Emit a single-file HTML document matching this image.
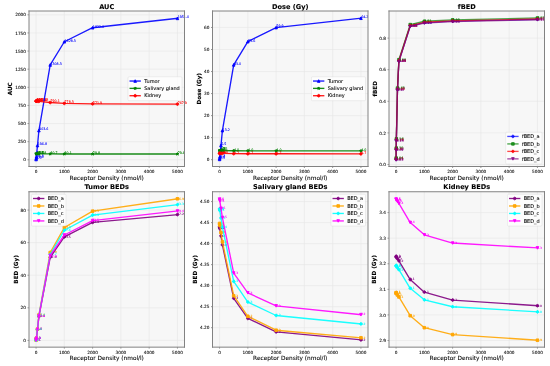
<!DOCTYPE html>
<html><head><meta charset="utf-8"><title>Receptor Density Analysis</title>
<style>
html,body{margin:0;padding:0;background:#fff;}
body{width:550px;height:366px;overflow:hidden;}
svg{display:block;}
svg text{font-family:"DejaVu Sans","Liberation Sans",sans-serif;text-rendering:geometricPrecision;}
</style></head><body>
<svg width="550" height="366" viewBox="0 0 550 366">
<defs>
<style type="text/css">*{stroke-linejoin: round; stroke-linecap: butt}</style>
</defs>
<g id="figure_1">
<g id="patch_1">
<path d="M 0 366
L 550 366
L 550 0
L 0 0
z
" style="fill: #ffffff"/>
</g>
<g id="axes_1">
<g id="patch_2">
<path d="M 29 166.5
L 184.5 166.5
L 184.5 11
L 29 11
z
" style="fill: #f7f7f7"/>
</g>
<g id="matplotlib.axis_1">
<g id="xtick_1">
<g id="line2d_1">
<path d="M 36.068182 166.5
L 36.068182 11
" clip-path="url(#p5194da27b5)" style="fill: none; stroke: #e6e6e6; stroke-width: 0.6; stroke-linecap: square"/>
</g>
<g id="line2d_2">

<g>
<path d="M 0 0 L 0 1.5" transform="translate(36.068182 166.5)" style="fill: #333333; stroke: #333333; stroke-width: 0.5"/>
</g>
</g>
<g id="text_1">
<text style="font-size: 4.25px; font-family: 'DejaVu Sans', 'Liberation Sans', sans-serif; text-anchor: middle; stroke: #000000; stroke-width: 0.08px" x="36.068182" y="173.329336" transform="rotate(-0 36.068182 173.329336)">0</text>
</g>
</g>
<g id="xtick_2">
<g id="line2d_3">
<path d="M 64.340909 166.5
L 64.340909 11
" clip-path="url(#p5194da27b5)" style="fill: none; stroke: #e6e6e6; stroke-width: 0.6; stroke-linecap: square"/>
</g>
<g id="line2d_4">
<g>
<path d="M 0 0 L 0 1.5" transform="translate(64.340909 166.5)" style="fill: #333333; stroke: #333333; stroke-width: 0.5"/>
</g>
</g>
<g id="text_2">
<text style="font-size: 4.25px; font-family: 'DejaVu Sans', 'Liberation Sans', sans-serif; text-anchor: middle; stroke: #000000; stroke-width: 0.08px" x="64.340909" y="173.329336" transform="rotate(-0 64.340909 173.329336)">1000</text>
</g>
</g>
<g id="xtick_3">
<g id="line2d_5">
<path d="M 92.613636 166.5
L 92.613636 11
" clip-path="url(#p5194da27b5)" style="fill: none; stroke: #e6e6e6; stroke-width: 0.6; stroke-linecap: square"/>
</g>
<g id="line2d_6">
<g>
<path d="M 0 0 L 0 1.5" transform="translate(92.613636 166.5)" style="fill: #333333; stroke: #333333; stroke-width: 0.5"/>
</g>
</g>
<g id="text_3">
<text style="font-size: 4.25px; font-family: 'DejaVu Sans', 'Liberation Sans', sans-serif; text-anchor: middle; stroke: #000000; stroke-width: 0.08px" x="92.613636" y="173.329336" transform="rotate(-0 92.613636 173.329336)">2000</text>
</g>
</g>
<g id="xtick_4">
<g id="line2d_7">
<path d="M 120.886364 166.5
L 120.886364 11
" clip-path="url(#p5194da27b5)" style="fill: none; stroke: #e6e6e6; stroke-width: 0.6; stroke-linecap: square"/>
</g>
<g id="line2d_8">
<g>
<path d="M 0 0 L 0 1.5" transform="translate(120.886364 166.5)" style="fill: #333333; stroke: #333333; stroke-width: 0.5"/>
</g>
</g>
<g id="text_4">
<text style="font-size: 4.25px; font-family: 'DejaVu Sans', 'Liberation Sans', sans-serif; text-anchor: middle; stroke: #000000; stroke-width: 0.08px" x="120.886364" y="173.329336" transform="rotate(-0 120.886364 173.329336)">3000</text>
</g>
</g>
<g id="xtick_5">
<g id="line2d_9">
<path d="M 149.159091 166.5
L 149.159091 11
" clip-path="url(#p5194da27b5)" style="fill: none; stroke: #e6e6e6; stroke-width: 0.6; stroke-linecap: square"/>
</g>
<g id="line2d_10">
<g>
<path d="M 0 0 L 0 1.5" transform="translate(149.159091 166.5)" style="fill: #333333; stroke: #333333; stroke-width: 0.5"/>
</g>
</g>
<g id="text_5">
<text style="font-size: 4.25px; font-family: 'DejaVu Sans', 'Liberation Sans', sans-serif; text-anchor: middle; stroke: #000000; stroke-width: 0.08px" x="149.159091" y="173.329336" transform="rotate(-0 149.159091 173.329336)">4000</text>
</g>
</g>
<g id="xtick_6">
<g id="line2d_11">
<path d="M 177.431818 166.5
L 177.431818 11
" clip-path="url(#p5194da27b5)" style="fill: none; stroke: #e6e6e6; stroke-width: 0.6; stroke-linecap: square"/>
</g>
<g id="line2d_12">
<g>
<path d="M 0 0 L 0 1.5" transform="translate(177.431818 166.5)" style="fill: #333333; stroke: #333333; stroke-width: 0.5"/>
</g>
</g>
<g id="text_6">
<text style="font-size: 4.25px; font-family: 'DejaVu Sans', 'Liberation Sans', sans-serif; text-anchor: middle; stroke: #000000; stroke-width: 0.08px" x="177.431818" y="173.329336" transform="rotate(-0 177.431818 173.329336)">5000</text>
</g>
</g>
<g id="text_7">
<text style="font-size: 5.8px; font-family: 'DejaVu Sans', 'Liberation Sans', sans-serif; text-anchor: middle; stroke: #000000; stroke-width: 0.08px" x="106.75" y="179.520297" transform="rotate(-0 106.75 179.520297)">Receptor Density (nmol/l)</text>
</g>
</g>
<g id="matplotlib.axis_2">
<g id="ytick_1">
<g id="line2d_13">
<path d="M 29 159.787665
L 184.5 159.787665
" clip-path="url(#p5194da27b5)" style="fill: none; stroke: #e6e6e6; stroke-width: 0.6; stroke-linecap: square"/>
</g>
<g id="line2d_14">

<g>
<path d="M 0 0 L -1.5 0" transform="translate(29 159.787665)" style="fill: #333333; stroke: #333333; stroke-width: 0.5"/>
</g>
</g>
<g id="text_8">
<text style="font-size: 4.25px; font-family: 'DejaVu Sans', 'Liberation Sans', sans-serif; text-anchor: end; stroke: #000000; stroke-width: 0.08px" x="26" y="161.402333" transform="rotate(-0 26 161.402333)">0</text>
</g>
</g>
<g id="ytick_2">
<g id="line2d_15">
<path d="M 29 141.665812
L 184.5 141.665812
" clip-path="url(#p5194da27b5)" style="fill: none; stroke: #e6e6e6; stroke-width: 0.6; stroke-linecap: square"/>
</g>
<g id="line2d_16">
<g>
<path d="M 0 0 L -1.5 0" transform="translate(29 141.665812)" style="fill: #333333; stroke: #333333; stroke-width: 0.5"/>
</g>
</g>
<g id="text_9">
<text style="font-size: 4.25px; font-family: 'DejaVu Sans', 'Liberation Sans', sans-serif; text-anchor: end; stroke: #000000; stroke-width: 0.08px" x="26" y="143.28048" transform="rotate(-0 26 143.28048)">250</text>
</g>
</g>
<g id="ytick_3">
<g id="line2d_17">
<path d="M 29 123.543959
L 184.5 123.543959
" clip-path="url(#p5194da27b5)" style="fill: none; stroke: #e6e6e6; stroke-width: 0.6; stroke-linecap: square"/>
</g>
<g id="line2d_18">
<g>
<path d="M 0 0 L -1.5 0" transform="translate(29 123.543959)" style="fill: #333333; stroke: #333333; stroke-width: 0.5"/>
</g>
</g>
<g id="text_10">
<text style="font-size: 4.25px; font-family: 'DejaVu Sans', 'Liberation Sans', sans-serif; text-anchor: end; stroke: #000000; stroke-width: 0.08px" x="26" y="125.158627" transform="rotate(-0 26 125.158627)">500</text>
</g>
</g>
<g id="ytick_4">
<g id="line2d_19">
<path d="M 29 105.422105
L 184.5 105.422105
" clip-path="url(#p5194da27b5)" style="fill: none; stroke: #e6e6e6; stroke-width: 0.6; stroke-linecap: square"/>
</g>
<g id="line2d_20">
<g>
<path d="M 0 0 L -1.5 0" transform="translate(29 105.422105)" style="fill: #333333; stroke: #333333; stroke-width: 0.5"/>
</g>
</g>
<g id="text_11">
<text style="font-size: 4.25px; font-family: 'DejaVu Sans', 'Liberation Sans', sans-serif; text-anchor: end; stroke: #000000; stroke-width: 0.08px" x="26" y="107.036773" transform="rotate(-0 26 107.036773)">750</text>
</g>
</g>
<g id="ytick_5">
<g id="line2d_21">
<path d="M 29 87.300252
L 184.5 87.300252
" clip-path="url(#p5194da27b5)" style="fill: none; stroke: #e6e6e6; stroke-width: 0.6; stroke-linecap: square"/>
</g>
<g id="line2d_22">
<g>
<path d="M 0 0 L -1.5 0" transform="translate(29 87.300252)" style="fill: #333333; stroke: #333333; stroke-width: 0.5"/>
</g>
</g>
<g id="text_12">
<text style="font-size: 4.25px; font-family: 'DejaVu Sans', 'Liberation Sans', sans-serif; text-anchor: end; stroke: #000000; stroke-width: 0.08px" x="26" y="88.91492" transform="rotate(-0 26 88.91492)">1000</text>
</g>
</g>
<g id="ytick_6">
<g id="line2d_23">
<path d="M 29 69.178398
L 184.5 69.178398
" clip-path="url(#p5194da27b5)" style="fill: none; stroke: #e6e6e6; stroke-width: 0.6; stroke-linecap: square"/>
</g>
<g id="line2d_24">
<g>
<path d="M 0 0 L -1.5 0" transform="translate(29 69.178398)" style="fill: #333333; stroke: #333333; stroke-width: 0.5"/>
</g>
</g>
<g id="text_13">
<text style="font-size: 4.25px; font-family: 'DejaVu Sans', 'Liberation Sans', sans-serif; text-anchor: end; stroke: #000000; stroke-width: 0.08px" x="26" y="70.793066" transform="rotate(-0 26 70.793066)">1250</text>
</g>
</g>
<g id="ytick_7">
<g id="line2d_25">
<path d="M 29 51.056545
L 184.5 51.056545
" clip-path="url(#p5194da27b5)" style="fill: none; stroke: #e6e6e6; stroke-width: 0.6; stroke-linecap: square"/>
</g>
<g id="line2d_26">
<g>
<path d="M 0 0 L -1.5 0" transform="translate(29 51.056545)" style="fill: #333333; stroke: #333333; stroke-width: 0.5"/>
</g>
</g>
<g id="text_14">
<text style="font-size: 4.25px; font-family: 'DejaVu Sans', 'Liberation Sans', sans-serif; text-anchor: end; stroke: #000000; stroke-width: 0.08px" x="26" y="52.671213" transform="rotate(-0 26 52.671213)">1500</text>
</g>
</g>
<g id="ytick_8">
<g id="line2d_27">
<path d="M 29 32.934691
L 184.5 32.934691
" clip-path="url(#p5194da27b5)" style="fill: none; stroke: #e6e6e6; stroke-width: 0.6; stroke-linecap: square"/>
</g>
<g id="line2d_28">
<g>
<path d="M 0 0 L -1.5 0" transform="translate(29 32.934691)" style="fill: #333333; stroke: #333333; stroke-width: 0.5"/>
</g>
</g>
<g id="text_15">
<text style="font-size: 4.25px; font-family: 'DejaVu Sans', 'Liberation Sans', sans-serif; text-anchor: end; stroke: #000000; stroke-width: 0.08px" x="26" y="34.549359" transform="rotate(-0 26 34.549359)">1750</text>
</g>
</g>
<g id="ytick_9">
<g id="line2d_29">
<path d="M 29 14.812838
L 184.5 14.812838
" clip-path="url(#p5194da27b5)" style="fill: none; stroke: #e6e6e6; stroke-width: 0.6; stroke-linecap: square"/>
</g>
<g id="line2d_30">
<g>
<path d="M 0 0 L -1.5 0" transform="translate(29 14.812838)" style="fill: #333333; stroke: #333333; stroke-width: 0.5"/>
</g>
</g>
<g id="text_16">
<text style="font-size: 4.25px; font-family: 'DejaVu Sans', 'Liberation Sans', sans-serif; text-anchor: end; stroke: #000000; stroke-width: 0.08px" x="26" y="16.427506" transform="rotate(-0 26 16.427506)">2000</text>
</g>
</g>
<g id="text_17">
<text style="font-weight: 700; font-size: 5.7px; font-family: 'DejaVu Sans', 'Liberation Sans', sans-serif; text-anchor: middle; stroke: #000000; stroke-width: 0.08px" x="12.498328" y="88.75" transform="rotate(-90 12.498328 88.75)">AUC</text>
</g>
</g>
<g id="text_18">
<text style="font-size: 3.25px; font-family: 'DejaVu Sans', 'Liberation Sans', sans-serif; text-anchor: start; fill: #0000ff; stroke: #0000ff; stroke-width: 0.1px" x="36.296455" y="159.397716" transform="rotate(-0 36.296455 159.397716)">4.0</text>
</g>
<g id="text_19">
<text style="font-size: 3.25px; font-family: 'DejaVu Sans', 'Liberation Sans', sans-serif; text-anchor: start; fill: #0000ff; stroke: #0000ff; stroke-width: 0.1px" x="36.409545" y="158.266912" transform="rotate(-0 36.409545 158.266912)">19.6</text>
</g>
<g id="text_20">
<text style="font-size: 3.25px; font-family: 'DejaVu Sans', 'Liberation Sans', sans-serif; text-anchor: start; fill: #0000ff; stroke: #0000ff; stroke-width: 0.1px" x="36.550909" y="156.83891" transform="rotate(-0 36.550909 156.83891)">39.3</text>
</g>
<g id="text_21">
<text style="font-size: 3.25px; font-family: 'DejaVu Sans', 'Liberation Sans', sans-serif; text-anchor: start; fill: #0000ff; stroke: #0000ff; stroke-width: 0.1px" x="37.681818" y="145.422142" transform="rotate(-0 37.681818 145.422142)">196.8</text>
</g>
<g id="text_22">
<text style="font-size: 3.25px; font-family: 'DejaVu Sans', 'Liberation Sans', sans-serif; text-anchor: start; fill: #0000ff; stroke: #0000ff; stroke-width: 0.1px" x="39.095455" y="130.431745" transform="rotate(-0 39.095455 130.431745)">403.6</text>
</g>
<g id="text_23">
<text style="font-size: 3.25px; font-family: 'DejaVu Sans', 'Liberation Sans', sans-serif; text-anchor: start; fill: #0000ff; stroke: #0000ff; stroke-width: 0.1px" x="50.404545" y="64.852382" transform="rotate(-0 50.404545 64.852382)">1308.3</text>
</g>
<g id="text_24">
<text style="font-size: 3.25px; font-family: 'DejaVu Sans', 'Liberation Sans', sans-serif; text-anchor: start; fill: #0000ff; stroke: #0000ff; stroke-width: 0.1px" x="64.540909" y="41.65641" transform="rotate(-0 64.540909 41.65641)">1628.3</text>
</g>
<g id="text_25">
<text style="font-size: 3.25px; font-family: 'DejaVu Sans', 'Liberation Sans', sans-serif; text-anchor: start; fill: #0000ff; stroke: #0000ff; stroke-width: 0.1px" x="92.813636" y="27.615598" transform="rotate(-0 92.813636 27.615598)">1822.0</text>
</g>
<g id="text_26">
<text style="font-size: 3.25px; font-family: 'DejaVu Sans', 'Liberation Sans', sans-serif; text-anchor: start; fill: #0000ff; stroke: #0000ff; stroke-width: 0.1px" x="177.631818" y="18.264721" transform="rotate(-0 177.631818 18.264721)">1951.0</text>
</g>
<g id="text_27">
<text style="font-size: 3.25px; font-family: 'DejaVu Sans', 'Liberation Sans', sans-serif; text-anchor: start; fill: #008000; stroke: #008000; stroke-width: 0.1px" x="36.296455" y="153.692956" transform="rotate(-0 36.296455 153.692956)">82.7</text>
</g>
<g id="text_28">
<text style="font-size: 3.25px; font-family: 'DejaVu Sans', 'Liberation Sans', sans-serif; text-anchor: start; fill: #008000; stroke: #008000; stroke-width: 0.1px" x="36.409545" y="153.700205" transform="rotate(-0 36.409545 153.700205)">82.6</text>
</g>
<g id="text_29">
<text style="font-size: 3.25px; font-family: 'DejaVu Sans', 'Liberation Sans', sans-serif; text-anchor: start; fill: #008000; stroke: #008000; stroke-width: 0.1px" x="36.550909" y="153.707454" transform="rotate(-0 36.550909 153.707454)">82.5</text>
</g>
<g id="text_30">
<text style="font-size: 3.25px; font-family: 'DejaVu Sans', 'Liberation Sans', sans-serif; text-anchor: start; fill: #008000; stroke: #008000; stroke-width: 0.1px" x="37.681818" y="153.736449" transform="rotate(-0 37.681818 153.736449)">82.1</text>
</g>
<g id="text_31">
<text style="font-size: 3.25px; font-family: 'DejaVu Sans', 'Liberation Sans', sans-serif; text-anchor: start; fill: #008000; stroke: #008000; stroke-width: 0.1px" x="39.095455" y="153.758195" transform="rotate(-0 39.095455 153.758195)">81.8</text>
</g>
<g id="text_32">
<text style="font-size: 3.25px; font-family: 'DejaVu Sans', 'Liberation Sans', sans-serif; text-anchor: start; fill: #008000; stroke: #008000; stroke-width: 0.1px" x="50.404545" y="153.837931" transform="rotate(-0 50.404545 153.837931)">80.7</text>
</g>
<g id="text_33">
<text style="font-size: 3.25px; font-family: 'DejaVu Sans', 'Liberation Sans', sans-serif; text-anchor: start; fill: #008000; stroke: #008000; stroke-width: 0.1px" x="64.540909" y="153.881424" transform="rotate(-0 64.540909 153.881424)">80.1</text>
</g>
<g id="text_34">
<text style="font-size: 3.25px; font-family: 'DejaVu Sans', 'Liberation Sans', sans-serif; text-anchor: start; fill: #008000; stroke: #008000; stroke-width: 0.1px" x="92.813636" y="153.90317" transform="rotate(-0 92.813636 153.90317)">79.8</text>
</g>
<g id="text_35">
<text style="font-size: 3.25px; font-family: 'DejaVu Sans', 'Liberation Sans', sans-serif; text-anchor: start; fill: #008000; stroke: #008000; stroke-width: 0.1px" x="177.631818" y="153.917667" transform="rotate(-0 177.631818 153.917667)">79.6</text>
</g>
<g id="text_36">
<text style="font-size: 3.25px; font-family: 'DejaVu Sans', 'Liberation Sans', sans-serif; text-anchor: start; fill: #ff0000; stroke: #ff0000; stroke-width: 0.1px" x="36.296455" y="101.009104" transform="rotate(-0 36.296455 101.009104)">809.5</text>
</g>
<g id="text_37">
<text style="font-size: 3.25px; font-family: 'DejaVu Sans', 'Liberation Sans', sans-serif; text-anchor: start; fill: #ff0000; stroke: #ff0000; stroke-width: 0.1px" x="36.409545" y="101.023602" transform="rotate(-0 36.409545 101.023602)">809.3</text>
</g>
<g id="text_38">
<text style="font-size: 3.25px; font-family: 'DejaVu Sans', 'Liberation Sans', sans-serif; text-anchor: start; fill: #ff0000; stroke: #ff0000; stroke-width: 0.1px" x="36.550909" y="101.045348" transform="rotate(-0 36.550909 101.045348)">809.0</text>
</g>
<g id="text_39">
<text style="font-size: 3.25px; font-family: 'DejaVu Sans', 'Liberation Sans', sans-serif; text-anchor: start; fill: #ff0000; stroke: #ff0000; stroke-width: 0.1px" x="37.681818" y="101.154079" transform="rotate(-0 37.681818 101.154079)">807.5</text>
</g>
<g id="text_40">
<text style="font-size: 3.25px; font-family: 'DejaVu Sans', 'Liberation Sans', sans-serif; text-anchor: start; fill: #ff0000; stroke: #ff0000; stroke-width: 0.1px" x="39.095455" y="101.277307" transform="rotate(-0 39.095455 101.277307)">805.8</text>
</g>
<g id="text_41">
<text style="font-size: 3.25px; font-family: 'DejaVu Sans', 'Liberation Sans', sans-serif; text-anchor: start; fill: #ff0000; stroke: #ff0000; stroke-width: 0.1px" x="50.404545" y="102.41536" transform="rotate(-0 50.404545 102.41536)">790.1</text>
</g>
<g id="text_42">
<text style="font-size: 3.25px; font-family: 'DejaVu Sans', 'Liberation Sans', sans-serif; text-anchor: start; fill: #ff0000; stroke: #ff0000; stroke-width: 0.1px" x="64.540909" y="103.270711" transform="rotate(-0 64.540909 103.270711)">778.3</text>
</g>
<g id="text_43">
<text style="font-size: 3.25px; font-family: 'DejaVu Sans', 'Liberation Sans', sans-serif; text-anchor: start; fill: #ff0000; stroke: #ff0000; stroke-width: 0.1px" x="92.813636" y="103.734631" transform="rotate(-0 92.813636 103.734631)">771.9</text>
</g>
<g id="text_44">
<text style="font-size: 3.25px; font-family: 'DejaVu Sans', 'Liberation Sans', sans-serif; text-anchor: start; fill: #ff0000; stroke: #ff0000; stroke-width: 0.1px" x="177.631818" y="104.02458" transform="rotate(-0 177.631818 104.02458)">767.9</text>
</g>
<g id="line2d_31">
<path d="M 36.096455 159.497716
L 36.209545 158.366912
L 36.350909 156.93891
L 37.481818 145.522142
L 38.895455 130.531745
L 50.204545 64.952382
L 64.340909 41.75641
L 92.613636 27.715598
L 177.431818 18.364721
" clip-path="url(#p5194da27b5)" style="fill: none; stroke: #0000ff; stroke-opacity: 0.9; stroke-width: 1.35; stroke-linecap: square"/>

<g clip-path="url(#p5194da27b5)">
<path d="M 0 -1.3 L -1.3 1.3 L 1.3 1.3 z" transform="translate(36.096455 159.497716)" style="fill: #0000ff; fill-opacity: 0.9; stroke: #0000ff; stroke-opacity: 0.9; stroke-linejoin: miter"/>
<path d="M 0 -1.3 L -1.3 1.3 L 1.3 1.3 z" transform="translate(36.209545 158.366912)" style="fill: #0000ff; fill-opacity: 0.9; stroke: #0000ff; stroke-opacity: 0.9; stroke-linejoin: miter"/>
<path d="M 0 -1.3 L -1.3 1.3 L 1.3 1.3 z" transform="translate(36.350909 156.93891)" style="fill: #0000ff; fill-opacity: 0.9; stroke: #0000ff; stroke-opacity: 0.9; stroke-linejoin: miter"/>
<path d="M 0 -1.3 L -1.3 1.3 L 1.3 1.3 z" transform="translate(37.481818 145.522142)" style="fill: #0000ff; fill-opacity: 0.9; stroke: #0000ff; stroke-opacity: 0.9; stroke-linejoin: miter"/>
<path d="M 0 -1.3 L -1.3 1.3 L 1.3 1.3 z" transform="translate(38.895455 130.531745)" style="fill: #0000ff; fill-opacity: 0.9; stroke: #0000ff; stroke-opacity: 0.9; stroke-linejoin: miter"/>
<path d="M 0 -1.3 L -1.3 1.3 L 1.3 1.3 z" transform="translate(50.204545 64.952382)" style="fill: #0000ff; fill-opacity: 0.9; stroke: #0000ff; stroke-opacity: 0.9; stroke-linejoin: miter"/>
<path d="M 0 -1.3 L -1.3 1.3 L 1.3 1.3 z" transform="translate(64.340909 41.75641)" style="fill: #0000ff; fill-opacity: 0.9; stroke: #0000ff; stroke-opacity: 0.9; stroke-linejoin: miter"/>
<path d="M 0 -1.3 L -1.3 1.3 L 1.3 1.3 z" transform="translate(92.613636 27.715598)" style="fill: #0000ff; fill-opacity: 0.9; stroke: #0000ff; stroke-opacity: 0.9; stroke-linejoin: miter"/>
<path d="M 0 -1.3 L -1.3 1.3 L 1.3 1.3 z" transform="translate(177.431818 18.364721)" style="fill: #0000ff; fill-opacity: 0.9; stroke: #0000ff; stroke-opacity: 0.9; stroke-linejoin: miter"/>
</g>
</g>
<g id="line2d_32">
<path d="M 36.096455 153.792956
L 36.209545 153.800205
L 36.350909 153.807454
L 37.481818 153.836449
L 38.895455 153.858195
L 50.204545 153.937931
L 64.340909 153.981424
L 92.613636 154.00317
L 177.431818 154.017667
" clip-path="url(#p5194da27b5)" style="fill: none; stroke: #008000; stroke-opacity: 0.9; stroke-width: 1.35; stroke-linecap: square"/>

<g clip-path="url(#p5194da27b5)">
<path d="M 0 -1.43 L -0.321055 -0.441894 L -1.360011 -0.441894 L -0.519478 0.168789 L -0.840533 1.156894 L -0 0.546211 L 0.840533 1.156894 L 0.519478 0.168789 L 1.360011 -0.441894 L 0.321055 -0.441894 z" transform="translate(36.096455 153.792956)" style="fill: #008000; fill-opacity: 0.9; stroke: #008000; stroke-opacity: 0.9; stroke-linejoin: bevel"/>
<path d="M 0 -1.43 L -0.321055 -0.441894 L -1.360011 -0.441894 L -0.519478 0.168789 L -0.840533 1.156894 L -0 0.546211 L 0.840533 1.156894 L 0.519478 0.168789 L 1.360011 -0.441894 L 0.321055 -0.441894 z" transform="translate(36.209545 153.800205)" style="fill: #008000; fill-opacity: 0.9; stroke: #008000; stroke-opacity: 0.9; stroke-linejoin: bevel"/>
<path d="M 0 -1.43 L -0.321055 -0.441894 L -1.360011 -0.441894 L -0.519478 0.168789 L -0.840533 1.156894 L -0 0.546211 L 0.840533 1.156894 L 0.519478 0.168789 L 1.360011 -0.441894 L 0.321055 -0.441894 z" transform="translate(36.350909 153.807454)" style="fill: #008000; fill-opacity: 0.9; stroke: #008000; stroke-opacity: 0.9; stroke-linejoin: bevel"/>
<path d="M 0 -1.43 L -0.321055 -0.441894 L -1.360011 -0.441894 L -0.519478 0.168789 L -0.840533 1.156894 L -0 0.546211 L 0.840533 1.156894 L 0.519478 0.168789 L 1.360011 -0.441894 L 0.321055 -0.441894 z" transform="translate(37.481818 153.836449)" style="fill: #008000; fill-opacity: 0.9; stroke: #008000; stroke-opacity: 0.9; stroke-linejoin: bevel"/>
<path d="M 0 -1.43 L -0.321055 -0.441894 L -1.360011 -0.441894 L -0.519478 0.168789 L -0.840533 1.156894 L -0 0.546211 L 0.840533 1.156894 L 0.519478 0.168789 L 1.360011 -0.441894 L 0.321055 -0.441894 z" transform="translate(38.895455 153.858195)" style="fill: #008000; fill-opacity: 0.9; stroke: #008000; stroke-opacity: 0.9; stroke-linejoin: bevel"/>
<path d="M 0 -1.43 L -0.321055 -0.441894 L -1.360011 -0.441894 L -0.519478 0.168789 L -0.840533 1.156894 L -0 0.546211 L 0.840533 1.156894 L 0.519478 0.168789 L 1.360011 -0.441894 L 0.321055 -0.441894 z" transform="translate(50.204545 153.937931)" style="fill: #008000; fill-opacity: 0.9; stroke: #008000; stroke-opacity: 0.9; stroke-linejoin: bevel"/>
<path d="M 0 -1.43 L -0.321055 -0.441894 L -1.360011 -0.441894 L -0.519478 0.168789 L -0.840533 1.156894 L -0 0.546211 L 0.840533 1.156894 L 0.519478 0.168789 L 1.360011 -0.441894 L 0.321055 -0.441894 z" transform="translate(64.340909 153.981424)" style="fill: #008000; fill-opacity: 0.9; stroke: #008000; stroke-opacity: 0.9; stroke-linejoin: bevel"/>
<path d="M 0 -1.43 L -0.321055 -0.441894 L -1.360011 -0.441894 L -0.519478 0.168789 L -0.840533 1.156894 L -0 0.546211 L 0.840533 1.156894 L 0.519478 0.168789 L 1.360011 -0.441894 L 0.321055 -0.441894 z" transform="translate(92.613636 154.00317)" style="fill: #008000; fill-opacity: 0.9; stroke: #008000; stroke-opacity: 0.9; stroke-linejoin: bevel"/>
<path d="M 0 -1.43 L -0.321055 -0.441894 L -1.360011 -0.441894 L -0.519478 0.168789 L -0.840533 1.156894 L -0 0.546211 L 0.840533 1.156894 L 0.519478 0.168789 L 1.360011 -0.441894 L 0.321055 -0.441894 z" transform="translate(177.431818 154.017667)" style="fill: #008000; fill-opacity: 0.9; stroke: #008000; stroke-opacity: 0.9; stroke-linejoin: bevel"/>
</g>
</g>
<g id="line2d_33">
<path d="M 36.096455 101.109104
L 36.209545 101.123602
L 36.350909 101.145348
L 37.481818 101.254079
L 38.895455 101.377307
L 50.204545 102.51536
L 64.340909 103.370711
L 92.613636 103.834631
L 177.431818 104.12458
" clip-path="url(#p5194da27b5)" style="fill: none; stroke: #ff0000; stroke-opacity: 0.9; stroke-width: 1.35; stroke-linecap: square"/>

<g clip-path="url(#p5194da27b5)">
<path d="M 0 1.3 C 0.344764 1.3 0.675454 1.163024 0.919239 0.919239 C 1.163024 0.675454 1.3 0.344764 1.3 0 C 1.3 -0.344764 1.163024 -0.675454 0.919239 -0.919239 C 0.675454 -1.163024 0.344764 -1.3 0 -1.3 C -0.344764 -1.3 -0.675454 -1.163024 -0.919239 -0.919239 C -1.163024 -0.675454 -1.3 -0.344764 -1.3 0 C -1.3 0.344764 -1.163024 0.675454 -0.919239 0.919239 C -0.675454 1.163024 -0.344764 1.3 0 1.3 z" transform="translate(36.096455 101.109104)" style="fill: #ff0000; fill-opacity: 0.9; stroke: #ff0000; stroke-opacity: 0.9"/>
<path d="M 0 1.3 C 0.344764 1.3 0.675454 1.163024 0.919239 0.919239 C 1.163024 0.675454 1.3 0.344764 1.3 0 C 1.3 -0.344764 1.163024 -0.675454 0.919239 -0.919239 C 0.675454 -1.163024 0.344764 -1.3 0 -1.3 C -0.344764 -1.3 -0.675454 -1.163024 -0.919239 -0.919239 C -1.163024 -0.675454 -1.3 -0.344764 -1.3 0 C -1.3 0.344764 -1.163024 0.675454 -0.919239 0.919239 C -0.675454 1.163024 -0.344764 1.3 0 1.3 z" transform="translate(36.209545 101.123602)" style="fill: #ff0000; fill-opacity: 0.9; stroke: #ff0000; stroke-opacity: 0.9"/>
<path d="M 0 1.3 C 0.344764 1.3 0.675454 1.163024 0.919239 0.919239 C 1.163024 0.675454 1.3 0.344764 1.3 0 C 1.3 -0.344764 1.163024 -0.675454 0.919239 -0.919239 C 0.675454 -1.163024 0.344764 -1.3 0 -1.3 C -0.344764 -1.3 -0.675454 -1.163024 -0.919239 -0.919239 C -1.163024 -0.675454 -1.3 -0.344764 -1.3 0 C -1.3 0.344764 -1.163024 0.675454 -0.919239 0.919239 C -0.675454 1.163024 -0.344764 1.3 0 1.3 z" transform="translate(36.350909 101.145348)" style="fill: #ff0000; fill-opacity: 0.9; stroke: #ff0000; stroke-opacity: 0.9"/>
<path d="M 0 1.3 C 0.344764 1.3 0.675454 1.163024 0.919239 0.919239 C 1.163024 0.675454 1.3 0.344764 1.3 0 C 1.3 -0.344764 1.163024 -0.675454 0.919239 -0.919239 C 0.675454 -1.163024 0.344764 -1.3 0 -1.3 C -0.344764 -1.3 -0.675454 -1.163024 -0.919239 -0.919239 C -1.163024 -0.675454 -1.3 -0.344764 -1.3 0 C -1.3 0.344764 -1.163024 0.675454 -0.919239 0.919239 C -0.675454 1.163024 -0.344764 1.3 0 1.3 z" transform="translate(37.481818 101.254079)" style="fill: #ff0000; fill-opacity: 0.9; stroke: #ff0000; stroke-opacity: 0.9"/>
<path d="M 0 1.3 C 0.344764 1.3 0.675454 1.163024 0.919239 0.919239 C 1.163024 0.675454 1.3 0.344764 1.3 0 C 1.3 -0.344764 1.163024 -0.675454 0.919239 -0.919239 C 0.675454 -1.163024 0.344764 -1.3 0 -1.3 C -0.344764 -1.3 -0.675454 -1.163024 -0.919239 -0.919239 C -1.163024 -0.675454 -1.3 -0.344764 -1.3 0 C -1.3 0.344764 -1.163024 0.675454 -0.919239 0.919239 C -0.675454 1.163024 -0.344764 1.3 0 1.3 z" transform="translate(38.895455 101.377307)" style="fill: #ff0000; fill-opacity: 0.9; stroke: #ff0000; stroke-opacity: 0.9"/>
<path d="M 0 1.3 C 0.344764 1.3 0.675454 1.163024 0.919239 0.919239 C 1.163024 0.675454 1.3 0.344764 1.3 0 C 1.3 -0.344764 1.163024 -0.675454 0.919239 -0.919239 C 0.675454 -1.163024 0.344764 -1.3 0 -1.3 C -0.344764 -1.3 -0.675454 -1.163024 -0.919239 -0.919239 C -1.163024 -0.675454 -1.3 -0.344764 -1.3 0 C -1.3 0.344764 -1.163024 0.675454 -0.919239 0.919239 C -0.675454 1.163024 -0.344764 1.3 0 1.3 z" transform="translate(50.204545 102.51536)" style="fill: #ff0000; fill-opacity: 0.9; stroke: #ff0000; stroke-opacity: 0.9"/>
<path d="M 0 1.3 C 0.344764 1.3 0.675454 1.163024 0.919239 0.919239 C 1.163024 0.675454 1.3 0.344764 1.3 0 C 1.3 -0.344764 1.163024 -0.675454 0.919239 -0.919239 C 0.675454 -1.163024 0.344764 -1.3 0 -1.3 C -0.344764 -1.3 -0.675454 -1.163024 -0.919239 -0.919239 C -1.163024 -0.675454 -1.3 -0.344764 -1.3 0 C -1.3 0.344764 -1.163024 0.675454 -0.919239 0.919239 C -0.675454 1.163024 -0.344764 1.3 0 1.3 z" transform="translate(64.340909 103.370711)" style="fill: #ff0000; fill-opacity: 0.9; stroke: #ff0000; stroke-opacity: 0.9"/>
<path d="M 0 1.3 C 0.344764 1.3 0.675454 1.163024 0.919239 0.919239 C 1.163024 0.675454 1.3 0.344764 1.3 0 C 1.3 -0.344764 1.163024 -0.675454 0.919239 -0.919239 C 0.675454 -1.163024 0.344764 -1.3 0 -1.3 C -0.344764 -1.3 -0.675454 -1.163024 -0.919239 -0.919239 C -1.163024 -0.675454 -1.3 -0.344764 -1.3 0 C -1.3 0.344764 -1.163024 0.675454 -0.919239 0.919239 C -0.675454 1.163024 -0.344764 1.3 0 1.3 z" transform="translate(92.613636 103.834631)" style="fill: #ff0000; fill-opacity: 0.9; stroke: #ff0000; stroke-opacity: 0.9"/>
<path d="M 0 1.3 C 0.344764 1.3 0.675454 1.163024 0.919239 0.919239 C 1.163024 0.675454 1.3 0.344764 1.3 0 C 1.3 -0.344764 1.163024 -0.675454 0.919239 -0.919239 C 0.675454 -1.163024 0.344764 -1.3 0 -1.3 C -0.344764 -1.3 -0.675454 -1.163024 -0.919239 -0.919239 C -1.163024 -0.675454 -1.3 -0.344764 -1.3 0 C -1.3 0.344764 -1.163024 0.675454 -0.919239 0.919239 C -0.675454 1.163024 -0.344764 1.3 0 1.3 z" transform="translate(177.431818 104.12458)" style="fill: #ff0000; fill-opacity: 0.9; stroke: #ff0000; stroke-opacity: 0.9"/>
</g>
</g>
<g id="patch_3">
<path d="M 29 166.5
L 29 11
" style="fill: none; stroke: #828282; stroke-linejoin: miter; stroke-linecap: square"/>
</g>
<g id="patch_4">
<path d="M 184.5 166.5
L 184.5 11
" style="fill: none; stroke: #828282; stroke-linejoin: miter; stroke-linecap: square"/>
</g>
<g id="patch_5">
<path d="M 29 166.5
L 184.5 166.5
" style="fill: none; stroke: #828282; stroke-linejoin: miter; stroke-linecap: square"/>
</g>
<g id="patch_6">
<path d="M 29 11
L 184.5 11
" style="fill: none; stroke: #828282; stroke-linejoin: miter; stroke-linecap: square"/>
</g>
<g id="text_45">
<text style="font-weight: 700; font-size: 6.6px; font-family: 'DejaVu Sans', 'Liberation Sans', sans-serif; text-anchor: middle; stroke: #000000; stroke-width: 0.08px" x="106.75" y="8.6" transform="rotate(-0 106.75 8.6)">AUC</text>
</g>
<g id="legend_1">
<g id="patch_7">
<path d="M 128.985937 100.708594
L 181 100.708594
Q 182 100.708594 182 99.708594
L 182 77.791406
Q 182 76.791406 181 76.791406
L 128.985937 76.791406
Q 127.985937 76.791406 127.985937 77.791406
L 127.985937 99.708594
Q 127.985937 100.708594 128.985937 100.708594
z
" style="fill: #ffffff; opacity: 0.8; stroke: #cccccc; stroke-width: 0.4; stroke-linejoin: miter"/>
</g>
<g id="line2d_34">
<path d="M 130.185937 81.040625
L 135.185937 81.040625
L 140.185937 81.040625
" style="fill: none; stroke: #0000ff; stroke-opacity: 0.9; stroke-width: 1.35; stroke-linecap: square"/>
<g>
<path d="M 0 -1.3 L -1.3 1.3 L 1.3 1.3 z" transform="translate(135.185937 81.040625)" style="fill: #0000ff; fill-opacity: 0.9; stroke: #0000ff; stroke-opacity: 0.9; stroke-linejoin: miter"/>
</g>
</g>
<g id="text_46">
<text style="font-size: 5px; font-family: 'DejaVu Sans', 'Liberation Sans', sans-serif; text-anchor: start; stroke: #000000; stroke-width: 0.08px" x="144.185937" y="82.790625" transform="rotate(-0 144.185937 82.790625)">Tumor</text>
</g>
<g id="line2d_35">
<path d="M 130.185937 88.379687
L 135.185937 88.379687
L 140.185937 88.379687
" style="fill: none; stroke: #008000; stroke-opacity: 0.9; stroke-width: 1.35; stroke-linecap: square"/>
<g>
<path d="M 0 -1.43 L -0.321055 -0.441894 L -1.360011 -0.441894 L -0.519478 0.168789 L -0.840533 1.156894 L -0 0.546211 L 0.840533 1.156894 L 0.519478 0.168789 L 1.360011 -0.441894 L 0.321055 -0.441894 z" transform="translate(135.185937 88.379687)" style="fill: #008000; fill-opacity: 0.9; stroke: #008000; stroke-opacity: 0.9; stroke-linejoin: bevel"/>
</g>
</g>
<g id="text_47">
<text style="font-size: 5px; font-family: 'DejaVu Sans', 'Liberation Sans', sans-serif; text-anchor: start; stroke: #000000; stroke-width: 0.08px" x="144.185937" y="90.129687" transform="rotate(-0 144.185937 90.129687)">Salivary gland</text>
</g>
<g id="line2d_36">
<path d="M 130.185937 95.71875
L 135.185937 95.71875
L 140.185937 95.71875
" style="fill: none; stroke: #ff0000; stroke-opacity: 0.9; stroke-width: 1.35; stroke-linecap: square"/>
<g>
<path d="M 0 1.3 C 0.344764 1.3 0.675454 1.163024 0.919239 0.919239 C 1.163024 0.675454 1.3 0.344764 1.3 0 C 1.3 -0.344764 1.163024 -0.675454 0.919239 -0.919239 C 0.675454 -1.163024 0.344764 -1.3 0 -1.3 C -0.344764 -1.3 -0.675454 -1.163024 -0.919239 -0.919239 C -1.163024 -0.675454 -1.3 -0.344764 -1.3 0 C -1.3 0.344764 -1.163024 0.675454 -0.919239 0.919239 C -0.675454 1.163024 -0.344764 1.3 0 1.3 z" transform="translate(135.185937 95.71875)" style="fill: #ff0000; fill-opacity: 0.9; stroke: #ff0000; stroke-opacity: 0.9"/>
</g>
</g>
<g id="text_48">
<text style="font-size: 5px; font-family: 'DejaVu Sans', 'Liberation Sans', sans-serif; text-anchor: start; stroke: #000000; stroke-width: 0.08px" x="144.185937" y="97.46875" transform="rotate(-0 144.185937 97.46875)">Kidney</text>
</g>
</g>
</g>
<g id="axes_2">
<g id="patch_8">
<path d="M 212.5 166.5
L 368 166.5
L 368 11
L 212.5 11
z
" style="fill: #f7f7f7"/>
</g>
<g id="matplotlib.axis_3">
<g id="xtick_7">
<g id="line2d_37">
<path d="M 219.568182 166.5
L 219.568182 11
" clip-path="url(#p67501ee55f)" style="fill: none; stroke: #e6e6e6; stroke-width: 0.6; stroke-linecap: square"/>
</g>
<g id="line2d_38">
<g>
<path d="M 0 0 L 0 1.5" transform="translate(219.568182 166.5)" style="fill: #333333; stroke: #333333; stroke-width: 0.5"/>
</g>
</g>
<g id="text_49">
<text style="font-size: 4.25px; font-family: 'DejaVu Sans', 'Liberation Sans', sans-serif; text-anchor: middle; stroke: #000000; stroke-width: 0.08px" x="219.568182" y="173.329336" transform="rotate(-0 219.568182 173.329336)">0</text>
</g>
</g>
<g id="xtick_8">
<g id="line2d_39">
<path d="M 247.840909 166.5
L 247.840909 11
" clip-path="url(#p67501ee55f)" style="fill: none; stroke: #e6e6e6; stroke-width: 0.6; stroke-linecap: square"/>
</g>
<g id="line2d_40">
<g>
<path d="M 0 0 L 0 1.5" transform="translate(247.840909 166.5)" style="fill: #333333; stroke: #333333; stroke-width: 0.5"/>
</g>
</g>
<g id="text_50">
<text style="font-size: 4.25px; font-family: 'DejaVu Sans', 'Liberation Sans', sans-serif; text-anchor: middle; stroke: #000000; stroke-width: 0.08px" x="247.840909" y="173.329336" transform="rotate(-0 247.840909 173.329336)">1000</text>
</g>
</g>
<g id="xtick_9">
<g id="line2d_41">
<path d="M 276.113636 166.5
L 276.113636 11
" clip-path="url(#p67501ee55f)" style="fill: none; stroke: #e6e6e6; stroke-width: 0.6; stroke-linecap: square"/>
</g>
<g id="line2d_42">
<g>
<path d="M 0 0 L 0 1.5" transform="translate(276.113636 166.5)" style="fill: #333333; stroke: #333333; stroke-width: 0.5"/>
</g>
</g>
<g id="text_51">
<text style="font-size: 4.25px; font-family: 'DejaVu Sans', 'Liberation Sans', sans-serif; text-anchor: middle; stroke: #000000; stroke-width: 0.08px" x="276.113636" y="173.329336" transform="rotate(-0 276.113636 173.329336)">2000</text>
</g>
</g>
<g id="xtick_10">
<g id="line2d_43">
<path d="M 304.386364 166.5
L 304.386364 11
" clip-path="url(#p67501ee55f)" style="fill: none; stroke: #e6e6e6; stroke-width: 0.6; stroke-linecap: square"/>
</g>
<g id="line2d_44">
<g>
<path d="M 0 0 L 0 1.5" transform="translate(304.386364 166.5)" style="fill: #333333; stroke: #333333; stroke-width: 0.5"/>
</g>
</g>
<g id="text_52">
<text style="font-size: 4.25px; font-family: 'DejaVu Sans', 'Liberation Sans', sans-serif; text-anchor: middle; stroke: #000000; stroke-width: 0.08px" x="304.386364" y="173.329336" transform="rotate(-0 304.386364 173.329336)">3000</text>
</g>
</g>
<g id="xtick_11">
<g id="line2d_45">
<path d="M 332.659091 166.5
L 332.659091 11
" clip-path="url(#p67501ee55f)" style="fill: none; stroke: #e6e6e6; stroke-width: 0.6; stroke-linecap: square"/>
</g>
<g id="line2d_46">
<g>
<path d="M 0 0 L 0 1.5" transform="translate(332.659091 166.5)" style="fill: #333333; stroke: #333333; stroke-width: 0.5"/>
</g>
</g>
<g id="text_53">
<text style="font-size: 4.25px; font-family: 'DejaVu Sans', 'Liberation Sans', sans-serif; text-anchor: middle; stroke: #000000; stroke-width: 0.08px" x="332.659091" y="173.329336" transform="rotate(-0 332.659091 173.329336)">4000</text>
</g>
</g>
<g id="xtick_12">
<g id="line2d_47">
<path d="M 360.931818 166.5
L 360.931818 11
" clip-path="url(#p67501ee55f)" style="fill: none; stroke: #e6e6e6; stroke-width: 0.6; stroke-linecap: square"/>
</g>
<g id="line2d_48">
<g>
<path d="M 0 0 L 0 1.5" transform="translate(360.931818 166.5)" style="fill: #333333; stroke: #333333; stroke-width: 0.5"/>
</g>
</g>
<g id="text_54">
<text style="font-size: 4.25px; font-family: 'DejaVu Sans', 'Liberation Sans', sans-serif; text-anchor: middle; stroke: #000000; stroke-width: 0.08px" x="360.931818" y="173.329336" transform="rotate(-0 360.931818 173.329336)">5000</text>
</g>
</g>
<g id="text_55">
<text style="font-size: 5.8px; font-family: 'DejaVu Sans', 'Liberation Sans', sans-serif; text-anchor: middle; stroke: #000000; stroke-width: 0.08px" x="290.25" y="179.520297" transform="rotate(-0 290.25 179.520297)">Receptor Density (nmol/l)</text>
</g>
</g>
<g id="matplotlib.axis_4">
<g id="ytick_10">
<g id="line2d_49">
<path d="M 212.5 159.690264
L 368 159.690264
" clip-path="url(#p67501ee55f)" style="fill: none; stroke: #e6e6e6; stroke-width: 0.6; stroke-linecap: square"/>
</g>
<g id="line2d_50">
<g>
<path d="M 0 0 L -1.5 0" transform="translate(212.5 159.690264)" style="fill: #333333; stroke: #333333; stroke-width: 0.5"/>
</g>
</g>
<g id="text_56">
<text style="font-size: 4.25px; font-family: 'DejaVu Sans', 'Liberation Sans', sans-serif; text-anchor: end; stroke: #000000; stroke-width: 0.08px" x="209.5" y="161.304932" transform="rotate(-0 209.5 161.304932)">0</text>
</g>
</g>
<g id="ytick_11">
<g id="line2d_51">
<path d="M 212.5 137.652282
L 368 137.652282
" clip-path="url(#p67501ee55f)" style="fill: none; stroke: #e6e6e6; stroke-width: 0.6; stroke-linecap: square"/>
</g>
<g id="line2d_52">
<g>
<path d="M 0 0 L -1.5 0" transform="translate(212.5 137.652282)" style="fill: #333333; stroke: #333333; stroke-width: 0.5"/>
</g>
</g>
<g id="text_57">
<text style="font-size: 4.25px; font-family: 'DejaVu Sans', 'Liberation Sans', sans-serif; text-anchor: end; stroke: #000000; stroke-width: 0.08px" x="209.5" y="139.26695" transform="rotate(-0 209.5 139.26695)">10</text>
</g>
</g>
<g id="ytick_12">
<g id="line2d_53">
<path d="M 212.5 115.6143
L 368 115.6143
" clip-path="url(#p67501ee55f)" style="fill: none; stroke: #e6e6e6; stroke-width: 0.6; stroke-linecap: square"/>
</g>
<g id="line2d_54">
<g>
<path d="M 0 0 L -1.5 0" transform="translate(212.5 115.6143)" style="fill: #333333; stroke: #333333; stroke-width: 0.5"/>
</g>
</g>
<g id="text_58">
<text style="font-size: 4.25px; font-family: 'DejaVu Sans', 'Liberation Sans', sans-serif; text-anchor: end; stroke: #000000; stroke-width: 0.08px" x="209.5" y="117.228968" transform="rotate(-0 209.5 117.228968)">20</text>
</g>
</g>
<g id="ytick_13">
<g id="line2d_55">
<path d="M 212.5 93.576318
L 368 93.576318
" clip-path="url(#p67501ee55f)" style="fill: none; stroke: #e6e6e6; stroke-width: 0.6; stroke-linecap: square"/>
</g>
<g id="line2d_56">
<g>
<path d="M 0 0 L -1.5 0" transform="translate(212.5 93.576318)" style="fill: #333333; stroke: #333333; stroke-width: 0.5"/>
</g>
</g>
<g id="text_59">
<text style="font-size: 4.25px; font-family: 'DejaVu Sans', 'Liberation Sans', sans-serif; text-anchor: end; stroke: #000000; stroke-width: 0.08px" x="209.5" y="95.190986" transform="rotate(-0 209.5 95.190986)">30</text>
</g>
</g>
<g id="ytick_14">
<g id="line2d_57">
<path d="M 212.5 71.538336
L 368 71.538336
" clip-path="url(#p67501ee55f)" style="fill: none; stroke: #e6e6e6; stroke-width: 0.6; stroke-linecap: square"/>
</g>
<g id="line2d_58">
<g>
<path d="M 0 0 L -1.5 0" transform="translate(212.5 71.538336)" style="fill: #333333; stroke: #333333; stroke-width: 0.5"/>
</g>
</g>
<g id="text_60">
<text style="font-size: 4.25px; font-family: 'DejaVu Sans', 'Liberation Sans', sans-serif; text-anchor: end; stroke: #000000; stroke-width: 0.08px" x="209.5" y="73.153004" transform="rotate(-0 209.5 73.153004)">40</text>
</g>
</g>
<g id="ytick_15">
<g id="line2d_59">
<path d="M 212.5 49.500354
L 368 49.500354
" clip-path="url(#p67501ee55f)" style="fill: none; stroke: #e6e6e6; stroke-width: 0.6; stroke-linecap: square"/>
</g>
<g id="line2d_60">
<g>
<path d="M 0 0 L -1.5 0" transform="translate(212.5 49.500354)" style="fill: #333333; stroke: #333333; stroke-width: 0.5"/>
</g>
</g>
<g id="text_61">
<text style="font-size: 4.25px; font-family: 'DejaVu Sans', 'Liberation Sans', sans-serif; text-anchor: end; stroke: #000000; stroke-width: 0.08px" x="209.5" y="51.115022" transform="rotate(-0 209.5 51.115022)">50</text>
</g>
</g>
<g id="ytick_16">
<g id="line2d_61">
<path d="M 212.5 27.462372
L 368 27.462372
" clip-path="url(#p67501ee55f)" style="fill: none; stroke: #e6e6e6; stroke-width: 0.6; stroke-linecap: square"/>
</g>
<g id="line2d_62">
<g>
<path d="M 0 0 L -1.5 0" transform="translate(212.5 27.462372)" style="fill: #333333; stroke: #333333; stroke-width: 0.5"/>
</g>
</g>
<g id="text_62">
<text style="font-size: 4.25px; font-family: 'DejaVu Sans', 'Liberation Sans', sans-serif; text-anchor: end; stroke: #000000; stroke-width: 0.08px" x="209.5" y="29.07704" transform="rotate(-0 209.5 29.07704)">60</text>
</g>
</g>
<g id="text_63">
<text style="font-weight: 700; font-size: 5.7px; font-family: 'DejaVu Sans', 'Liberation Sans', sans-serif; text-anchor: middle; stroke: #000000; stroke-width: 0.08px" x="201.361922" y="88.75" transform="rotate(-90 201.361922 88.75)">Dose (Gy)</text>
</g>
</g>
<g id="text_64">
<text style="font-size: 3.25px; font-family: 'DejaVu Sans', 'Liberation Sans', sans-serif; text-anchor: start; fill: #0000ff; stroke: #0000ff; stroke-width: 0.1px" x="219.796455" y="159.300244" transform="rotate(-0 219.796455 159.300244)">0.1</text>
</g>
<g id="text_65">
<text style="font-size: 3.25px; font-family: 'DejaVu Sans', 'Liberation Sans', sans-serif; text-anchor: start; fill: #0000ff; stroke: #0000ff; stroke-width: 0.1px" x="219.909545" y="158.169166" transform="rotate(-0 219.909545 158.169166)">0.6</text>
</g>
<g id="text_66">
<text style="font-size: 3.25px; font-family: 'DejaVu Sans', 'Liberation Sans', sans-serif; text-anchor: start; fill: #0000ff; stroke: #0000ff; stroke-width: 0.1px" x="220.050909" y="156.740819" transform="rotate(-0 220.050909 156.740819)">1.3</text>
</g>
<g id="text_67">
<text style="font-size: 3.25px; font-family: 'DejaVu Sans', 'Liberation Sans', sans-serif; text-anchor: start; fill: #0000ff; stroke: #0000ff; stroke-width: 0.1px" x="221.181818" y="145.321287" transform="rotate(-0 221.181818 145.321287)">6.5</text>
</g>
<g id="text_68">
<text style="font-size: 3.25px; font-family: 'DejaVu Sans', 'Liberation Sans', sans-serif; text-anchor: start; fill: #0000ff; stroke: #0000ff; stroke-width: 0.1px" x="222.595455" y="130.500128" transform="rotate(-0 222.595455 130.500128)">13.2</text>
</g>
<g id="text_69">
<text style="font-size: 3.25px; font-family: 'DejaVu Sans', 'Liberation Sans', sans-serif; text-anchor: start; fill: #0000ff; stroke: #0000ff; stroke-width: 0.1px" x="233.904545" y="64.732024" transform="rotate(-0 233.904545 64.732024)">43.0</text>
</g>
<g id="text_70">
<text style="font-size: 3.25px; font-family: 'DejaVu Sans', 'Liberation Sans', sans-serif; text-anchor: start; fill: #0000ff; stroke: #0000ff; stroke-width: 0.1px" x="248.040909" y="41.530437" transform="rotate(-0 248.040909 41.530437)">53.6</text>
</g>
<g id="text_71">
<text style="font-size: 3.25px; font-family: 'DejaVu Sans', 'Liberation Sans', sans-serif; text-anchor: start; fill: #0000ff; stroke: #0000ff; stroke-width: 0.1px" x="276.313636" y="27.486226" transform="rotate(-0 276.313636 27.486226)">59.9</text>
</g>
<g id="text_72">
<text style="font-size: 3.25px; font-family: 'DejaVu Sans', 'Liberation Sans', sans-serif; text-anchor: start; fill: #0000ff; stroke: #0000ff; stroke-width: 0.1px" x="361.131818" y="18.133086" transform="rotate(-0 361.131818 18.133086)">64.2</text>
</g>
<g id="text_73">
<text style="font-size: 3.25px; font-family: 'DejaVu Sans', 'Liberation Sans', sans-serif; text-anchor: start; fill: #008000; stroke: #008000; stroke-width: 0.1px" x="219.796455" y="150.400425" transform="rotate(-0 219.796455 150.400425)">4.2</text>
</g>
<g id="text_74">
<text style="font-size: 3.25px; font-family: 'DejaVu Sans', 'Liberation Sans', sans-serif; text-anchor: start; fill: #008000; stroke: #008000; stroke-width: 0.1px" x="219.909545" y="150.400425" transform="rotate(-0 219.909545 150.400425)">4.2</text>
</g>
<g id="text_75">
<text style="font-size: 3.25px; font-family: 'DejaVu Sans', 'Liberation Sans', sans-serif; text-anchor: start; fill: #008000; stroke: #008000; stroke-width: 0.1px" x="220.050909" y="150.422463" transform="rotate(-0 220.050909 150.422463)">4.2</text>
</g>
<g id="text_76">
<text style="font-size: 3.25px; font-family: 'DejaVu Sans', 'Liberation Sans', sans-serif; text-anchor: start; fill: #008000; stroke: #008000; stroke-width: 0.1px" x="221.181818" y="150.444501" transform="rotate(-0 221.181818 150.444501)">4.2</text>
</g>
<g id="text_77">
<text style="font-size: 3.25px; font-family: 'DejaVu Sans', 'Liberation Sans', sans-serif; text-anchor: start; fill: #008000; stroke: #008000; stroke-width: 0.1px" x="222.595455" y="150.488577" transform="rotate(-0 222.595455 150.488577)">4.1</text>
</g>
<g id="text_78">
<text style="font-size: 3.25px; font-family: 'DejaVu Sans', 'Liberation Sans', sans-serif; text-anchor: start; fill: #008000; stroke: #008000; stroke-width: 0.1px" x="233.904545" y="150.664881" transform="rotate(-0 233.904545 150.664881)">4.0</text>
</g>
<g id="text_79">
<text style="font-size: 3.25px; font-family: 'DejaVu Sans', 'Liberation Sans', sans-serif; text-anchor: start; fill: #008000; stroke: #008000; stroke-width: 0.1px" x="248.040909" y="150.753033" transform="rotate(-0 248.040909 150.753033)">4.0</text>
</g>
<g id="text_80">
<text style="font-size: 3.25px; font-family: 'DejaVu Sans', 'Liberation Sans', sans-serif; text-anchor: start; fill: #008000; stroke: #008000; stroke-width: 0.1px" x="276.313636" y="150.819147" transform="rotate(-0 276.313636 150.819147)">4.0</text>
</g>
<g id="text_81">
<text style="font-size: 3.25px; font-family: 'DejaVu Sans', 'Liberation Sans', sans-serif; text-anchor: start; fill: #008000; stroke: #008000; stroke-width: 0.1px" x="361.131818" y="150.841185" transform="rotate(-0 361.131818 150.841185)">4.0</text>
</g>
<g id="text_82">
<text style="font-size: 3.25px; font-family: 'DejaVu Sans', 'Liberation Sans', sans-serif; text-anchor: start; fill: #ff0000; stroke: #ff0000; stroke-width: 0.1px" x="219.796455" y="153.265363" transform="rotate(-0 219.796455 153.265363)">2.9</text>
</g>
<g id="text_83">
<text style="font-size: 3.25px; font-family: 'DejaVu Sans', 'Liberation Sans', sans-serif; text-anchor: start; fill: #ff0000; stroke: #ff0000; stroke-width: 0.1px" x="219.909545" y="153.265363" transform="rotate(-0 219.909545 153.265363)">2.9</text>
</g>
<g id="text_84">
<text style="font-size: 3.25px; font-family: 'DejaVu Sans', 'Liberation Sans', sans-serif; text-anchor: start; fill: #ff0000; stroke: #ff0000; stroke-width: 0.1px" x="220.050909" y="153.265363" transform="rotate(-0 220.050909 153.265363)">2.9</text>
</g>
<g id="text_85">
<text style="font-size: 3.25px; font-family: 'DejaVu Sans', 'Liberation Sans', sans-serif; text-anchor: start; fill: #ff0000; stroke: #ff0000; stroke-width: 0.1px" x="221.181818" y="153.287401" transform="rotate(-0 221.181818 153.287401)">2.9</text>
</g>
<g id="text_86">
<text style="font-size: 3.25px; font-family: 'DejaVu Sans', 'Liberation Sans', sans-serif; text-anchor: start; fill: #ff0000; stroke: #ff0000; stroke-width: 0.1px" x="222.595455" y="153.309439" transform="rotate(-0 222.595455 153.309439)">2.9</text>
</g>
<g id="text_87">
<text style="font-size: 3.25px; font-family: 'DejaVu Sans', 'Liberation Sans', sans-serif; text-anchor: start; fill: #ff0000; stroke: #ff0000; stroke-width: 0.1px" x="233.904545" y="153.573895" transform="rotate(-0 233.904545 153.573895)">2.7</text>
</g>
<g id="text_88">
<text style="font-size: 3.25px; font-family: 'DejaVu Sans', 'Liberation Sans', sans-serif; text-anchor: start; fill: #ff0000; stroke: #ff0000; stroke-width: 0.1px" x="248.040909" y="153.640009" transform="rotate(-0 248.040909 153.640009)">2.7</text>
</g>
<g id="text_89">
<text style="font-size: 3.25px; font-family: 'DejaVu Sans', 'Liberation Sans', sans-serif; text-anchor: start; fill: #ff0000; stroke: #ff0000; stroke-width: 0.1px" x="276.313636" y="153.684084" transform="rotate(-0 276.313636 153.684084)">2.7</text>
</g>
<g id="text_90">
<text style="font-size: 3.25px; font-family: 'DejaVu Sans', 'Liberation Sans', sans-serif; text-anchor: start; fill: #ff0000; stroke: #ff0000; stroke-width: 0.1px" x="361.131818" y="153.72816" transform="rotate(-0 361.131818 153.72816)">2.7</text>
</g>
<g id="line2d_63">
<path d="M 219.596455 159.400244
L 219.709545 158.269166
L 219.850909 156.840819
L 220.981818 145.421287
L 222.395455 130.600128
L 233.704545 64.832024
L 247.840909 41.630437
L 276.113636 27.586226
L 360.931818 18.233086
" clip-path="url(#p67501ee55f)" style="fill: none; stroke: #0000ff; stroke-opacity: 0.9; stroke-width: 1.35; stroke-linecap: square"/>
<g clip-path="url(#p67501ee55f)">
<path d="M 0 -1.3 L -1.3 1.3 L 1.3 1.3 z" transform="translate(219.596455 159.400244)" style="fill: #0000ff; fill-opacity: 0.9; stroke: #0000ff; stroke-opacity: 0.9; stroke-linejoin: miter"/>
<path d="M 0 -1.3 L -1.3 1.3 L 1.3 1.3 z" transform="translate(219.709545 158.269166)" style="fill: #0000ff; fill-opacity: 0.9; stroke: #0000ff; stroke-opacity: 0.9; stroke-linejoin: miter"/>
<path d="M 0 -1.3 L -1.3 1.3 L 1.3 1.3 z" transform="translate(219.850909 156.840819)" style="fill: #0000ff; fill-opacity: 0.9; stroke: #0000ff; stroke-opacity: 0.9; stroke-linejoin: miter"/>
<path d="M 0 -1.3 L -1.3 1.3 L 1.3 1.3 z" transform="translate(220.981818 145.421287)" style="fill: #0000ff; fill-opacity: 0.9; stroke: #0000ff; stroke-opacity: 0.9; stroke-linejoin: miter"/>
<path d="M 0 -1.3 L -1.3 1.3 L 1.3 1.3 z" transform="translate(222.395455 130.600128)" style="fill: #0000ff; fill-opacity: 0.9; stroke: #0000ff; stroke-opacity: 0.9; stroke-linejoin: miter"/>
<path d="M 0 -1.3 L -1.3 1.3 L 1.3 1.3 z" transform="translate(233.704545 64.832024)" style="fill: #0000ff; fill-opacity: 0.9; stroke: #0000ff; stroke-opacity: 0.9; stroke-linejoin: miter"/>
<path d="M 0 -1.3 L -1.3 1.3 L 1.3 1.3 z" transform="translate(247.840909 41.630437)" style="fill: #0000ff; fill-opacity: 0.9; stroke: #0000ff; stroke-opacity: 0.9; stroke-linejoin: miter"/>
<path d="M 0 -1.3 L -1.3 1.3 L 1.3 1.3 z" transform="translate(276.113636 27.586226)" style="fill: #0000ff; fill-opacity: 0.9; stroke: #0000ff; stroke-opacity: 0.9; stroke-linejoin: miter"/>
<path d="M 0 -1.3 L -1.3 1.3 L 1.3 1.3 z" transform="translate(360.931818 18.233086)" style="fill: #0000ff; fill-opacity: 0.9; stroke: #0000ff; stroke-opacity: 0.9; stroke-linejoin: miter"/>
</g>
</g>
<g id="line2d_64">
<path d="M 219.596455 150.500425
L 219.709545 150.500425
L 219.850909 150.522463
L 220.981818 150.544501
L 222.395455 150.588577
L 233.704545 150.764881
L 247.840909 150.853033
L 276.113636 150.919147
L 360.931818 150.941185
" clip-path="url(#p67501ee55f)" style="fill: none; stroke: #008000; stroke-opacity: 0.9; stroke-width: 1.35; stroke-linecap: square"/>
<g clip-path="url(#p67501ee55f)">
<path d="M 0 -1.43 L -0.321055 -0.441894 L -1.360011 -0.441894 L -0.519478 0.168789 L -0.840533 1.156894 L -0 0.546211 L 0.840533 1.156894 L 0.519478 0.168789 L 1.360011 -0.441894 L 0.321055 -0.441894 z" transform="translate(219.596455 150.500425)" style="fill: #008000; fill-opacity: 0.9; stroke: #008000; stroke-opacity: 0.9; stroke-linejoin: bevel"/>
<path d="M 0 -1.43 L -0.321055 -0.441894 L -1.360011 -0.441894 L -0.519478 0.168789 L -0.840533 1.156894 L -0 0.546211 L 0.840533 1.156894 L 0.519478 0.168789 L 1.360011 -0.441894 L 0.321055 -0.441894 z" transform="translate(219.709545 150.500425)" style="fill: #008000; fill-opacity: 0.9; stroke: #008000; stroke-opacity: 0.9; stroke-linejoin: bevel"/>
<path d="M 0 -1.43 L -0.321055 -0.441894 L -1.360011 -0.441894 L -0.519478 0.168789 L -0.840533 1.156894 L -0 0.546211 L 0.840533 1.156894 L 0.519478 0.168789 L 1.360011 -0.441894 L 0.321055 -0.441894 z" transform="translate(219.850909 150.522463)" style="fill: #008000; fill-opacity: 0.9; stroke: #008000; stroke-opacity: 0.9; stroke-linejoin: bevel"/>
<path d="M 0 -1.43 L -0.321055 -0.441894 L -1.360011 -0.441894 L -0.519478 0.168789 L -0.840533 1.156894 L -0 0.546211 L 0.840533 1.156894 L 0.519478 0.168789 L 1.360011 -0.441894 L 0.321055 -0.441894 z" transform="translate(220.981818 150.544501)" style="fill: #008000; fill-opacity: 0.9; stroke: #008000; stroke-opacity: 0.9; stroke-linejoin: bevel"/>
<path d="M 0 -1.43 L -0.321055 -0.441894 L -1.360011 -0.441894 L -0.519478 0.168789 L -0.840533 1.156894 L -0 0.546211 L 0.840533 1.156894 L 0.519478 0.168789 L 1.360011 -0.441894 L 0.321055 -0.441894 z" transform="translate(222.395455 150.588577)" style="fill: #008000; fill-opacity: 0.9; stroke: #008000; stroke-opacity: 0.9; stroke-linejoin: bevel"/>
<path d="M 0 -1.43 L -0.321055 -0.441894 L -1.360011 -0.441894 L -0.519478 0.168789 L -0.840533 1.156894 L -0 0.546211 L 0.840533 1.156894 L 0.519478 0.168789 L 1.360011 -0.441894 L 0.321055 -0.441894 z" transform="translate(233.704545 150.764881)" style="fill: #008000; fill-opacity: 0.9; stroke: #008000; stroke-opacity: 0.9; stroke-linejoin: bevel"/>
<path d="M 0 -1.43 L -0.321055 -0.441894 L -1.360011 -0.441894 L -0.519478 0.168789 L -0.840533 1.156894 L -0 0.546211 L 0.840533 1.156894 L 0.519478 0.168789 L 1.360011 -0.441894 L 0.321055 -0.441894 z" transform="translate(247.840909 150.853033)" style="fill: #008000; fill-opacity: 0.9; stroke: #008000; stroke-opacity: 0.9; stroke-linejoin: bevel"/>
<path d="M 0 -1.43 L -0.321055 -0.441894 L -1.360011 -0.441894 L -0.519478 0.168789 L -0.840533 1.156894 L -0 0.546211 L 0.840533 1.156894 L 0.519478 0.168789 L 1.360011 -0.441894 L 0.321055 -0.441894 z" transform="translate(276.113636 150.919147)" style="fill: #008000; fill-opacity: 0.9; stroke: #008000; stroke-opacity: 0.9; stroke-linejoin: bevel"/>
<path d="M 0 -1.43 L -0.321055 -0.441894 L -1.360011 -0.441894 L -0.519478 0.168789 L -0.840533 1.156894 L -0 0.546211 L 0.840533 1.156894 L 0.519478 0.168789 L 1.360011 -0.441894 L 0.321055 -0.441894 z" transform="translate(360.931818 150.941185)" style="fill: #008000; fill-opacity: 0.9; stroke: #008000; stroke-opacity: 0.9; stroke-linejoin: bevel"/>
</g>
</g>
<g id="line2d_65">
<path d="M 219.596455 153.365363
L 219.709545 153.365363
L 219.850909 153.365363
L 220.981818 153.387401
L 222.395455 153.409439
L 233.704545 153.673895
L 247.840909 153.740009
L 276.113636 153.784084
L 360.931818 153.82816
" clip-path="url(#p67501ee55f)" style="fill: none; stroke: #ff0000; stroke-opacity: 0.9; stroke-width: 1.35; stroke-linecap: square"/>
<g clip-path="url(#p67501ee55f)">
<path d="M 0 1.3 C 0.344764 1.3 0.675454 1.163024 0.919239 0.919239 C 1.163024 0.675454 1.3 0.344764 1.3 0 C 1.3 -0.344764 1.163024 -0.675454 0.919239 -0.919239 C 0.675454 -1.163024 0.344764 -1.3 0 -1.3 C -0.344764 -1.3 -0.675454 -1.163024 -0.919239 -0.919239 C -1.163024 -0.675454 -1.3 -0.344764 -1.3 0 C -1.3 0.344764 -1.163024 0.675454 -0.919239 0.919239 C -0.675454 1.163024 -0.344764 1.3 0 1.3 z" transform="translate(219.596455 153.365363)" style="fill: #ff0000; fill-opacity: 0.9; stroke: #ff0000; stroke-opacity: 0.9"/>
<path d="M 0 1.3 C 0.344764 1.3 0.675454 1.163024 0.919239 0.919239 C 1.163024 0.675454 1.3 0.344764 1.3 0 C 1.3 -0.344764 1.163024 -0.675454 0.919239 -0.919239 C 0.675454 -1.163024 0.344764 -1.3 0 -1.3 C -0.344764 -1.3 -0.675454 -1.163024 -0.919239 -0.919239 C -1.163024 -0.675454 -1.3 -0.344764 -1.3 0 C -1.3 0.344764 -1.163024 0.675454 -0.919239 0.919239 C -0.675454 1.163024 -0.344764 1.3 0 1.3 z" transform="translate(219.709545 153.365363)" style="fill: #ff0000; fill-opacity: 0.9; stroke: #ff0000; stroke-opacity: 0.9"/>
<path d="M 0 1.3 C 0.344764 1.3 0.675454 1.163024 0.919239 0.919239 C 1.163024 0.675454 1.3 0.344764 1.3 0 C 1.3 -0.344764 1.163024 -0.675454 0.919239 -0.919239 C 0.675454 -1.163024 0.344764 -1.3 0 -1.3 C -0.344764 -1.3 -0.675454 -1.163024 -0.919239 -0.919239 C -1.163024 -0.675454 -1.3 -0.344764 -1.3 0 C -1.3 0.344764 -1.163024 0.675454 -0.919239 0.919239 C -0.675454 1.163024 -0.344764 1.3 0 1.3 z" transform="translate(219.850909 153.365363)" style="fill: #ff0000; fill-opacity: 0.9; stroke: #ff0000; stroke-opacity: 0.9"/>
<path d="M 0 1.3 C 0.344764 1.3 0.675454 1.163024 0.919239 0.919239 C 1.163024 0.675454 1.3 0.344764 1.3 0 C 1.3 -0.344764 1.163024 -0.675454 0.919239 -0.919239 C 0.675454 -1.163024 0.344764 -1.3 0 -1.3 C -0.344764 -1.3 -0.675454 -1.163024 -0.919239 -0.919239 C -1.163024 -0.675454 -1.3 -0.344764 -1.3 0 C -1.3 0.344764 -1.163024 0.675454 -0.919239 0.919239 C -0.675454 1.163024 -0.344764 1.3 0 1.3 z" transform="translate(220.981818 153.387401)" style="fill: #ff0000; fill-opacity: 0.9; stroke: #ff0000; stroke-opacity: 0.9"/>
<path d="M 0 1.3 C 0.344764 1.3 0.675454 1.163024 0.919239 0.919239 C 1.163024 0.675454 1.3 0.344764 1.3 0 C 1.3 -0.344764 1.163024 -0.675454 0.919239 -0.919239 C 0.675454 -1.163024 0.344764 -1.3 0 -1.3 C -0.344764 -1.3 -0.675454 -1.163024 -0.919239 -0.919239 C -1.163024 -0.675454 -1.3 -0.344764 -1.3 0 C -1.3 0.344764 -1.163024 0.675454 -0.919239 0.919239 C -0.675454 1.163024 -0.344764 1.3 0 1.3 z" transform="translate(222.395455 153.409439)" style="fill: #ff0000; fill-opacity: 0.9; stroke: #ff0000; stroke-opacity: 0.9"/>
<path d="M 0 1.3 C 0.344764 1.3 0.675454 1.163024 0.919239 0.919239 C 1.163024 0.675454 1.3 0.344764 1.3 0 C 1.3 -0.344764 1.163024 -0.675454 0.919239 -0.919239 C 0.675454 -1.163024 0.344764 -1.3 0 -1.3 C -0.344764 -1.3 -0.675454 -1.163024 -0.919239 -0.919239 C -1.163024 -0.675454 -1.3 -0.344764 -1.3 0 C -1.3 0.344764 -1.163024 0.675454 -0.919239 0.919239 C -0.675454 1.163024 -0.344764 1.3 0 1.3 z" transform="translate(233.704545 153.673895)" style="fill: #ff0000; fill-opacity: 0.9; stroke: #ff0000; stroke-opacity: 0.9"/>
<path d="M 0 1.3 C 0.344764 1.3 0.675454 1.163024 0.919239 0.919239 C 1.163024 0.675454 1.3 0.344764 1.3 0 C 1.3 -0.344764 1.163024 -0.675454 0.919239 -0.919239 C 0.675454 -1.163024 0.344764 -1.3 0 -1.3 C -0.344764 -1.3 -0.675454 -1.163024 -0.919239 -0.919239 C -1.163024 -0.675454 -1.3 -0.344764 -1.3 0 C -1.3 0.344764 -1.163024 0.675454 -0.919239 0.919239 C -0.675454 1.163024 -0.344764 1.3 0 1.3 z" transform="translate(247.840909 153.740009)" style="fill: #ff0000; fill-opacity: 0.9; stroke: #ff0000; stroke-opacity: 0.9"/>
<path d="M 0 1.3 C 0.344764 1.3 0.675454 1.163024 0.919239 0.919239 C 1.163024 0.675454 1.3 0.344764 1.3 0 C 1.3 -0.344764 1.163024 -0.675454 0.919239 -0.919239 C 0.675454 -1.163024 0.344764 -1.3 0 -1.3 C -0.344764 -1.3 -0.675454 -1.163024 -0.919239 -0.919239 C -1.163024 -0.675454 -1.3 -0.344764 -1.3 0 C -1.3 0.344764 -1.163024 0.675454 -0.919239 0.919239 C -0.675454 1.163024 -0.344764 1.3 0 1.3 z" transform="translate(276.113636 153.784084)" style="fill: #ff0000; fill-opacity: 0.9; stroke: #ff0000; stroke-opacity: 0.9"/>
<path d="M 0 1.3 C 0.344764 1.3 0.675454 1.163024 0.919239 0.919239 C 1.163024 0.675454 1.3 0.344764 1.3 0 C 1.3 -0.344764 1.163024 -0.675454 0.919239 -0.919239 C 0.675454 -1.163024 0.344764 -1.3 0 -1.3 C -0.344764 -1.3 -0.675454 -1.163024 -0.919239 -0.919239 C -1.163024 -0.675454 -1.3 -0.344764 -1.3 0 C -1.3 0.344764 -1.163024 0.675454 -0.919239 0.919239 C -0.675454 1.163024 -0.344764 1.3 0 1.3 z" transform="translate(360.931818 153.82816)" style="fill: #ff0000; fill-opacity: 0.9; stroke: #ff0000; stroke-opacity: 0.9"/>
</g>
</g>
<g id="patch_9">
<path d="M 212.5 166.5
L 212.5 11
" style="fill: none; stroke: #828282; stroke-linejoin: miter; stroke-linecap: square"/>
</g>
<g id="patch_10">
<path d="M 368 166.5
L 368 11
" style="fill: none; stroke: #828282; stroke-linejoin: miter; stroke-linecap: square"/>
</g>
<g id="patch_11">
<path d="M 212.5 166.5
L 368 166.5
" style="fill: none; stroke: #828282; stroke-linejoin: miter; stroke-linecap: square"/>
</g>
<g id="patch_12">
<path d="M 212.5 11
L 368 11
" style="fill: none; stroke: #828282; stroke-linejoin: miter; stroke-linecap: square"/>
</g>
<g id="text_91">
<text style="font-weight: 700; font-size: 6.6px; font-family: 'DejaVu Sans', 'Liberation Sans', sans-serif; text-anchor: middle; stroke: #000000; stroke-width: 0.08px" x="290.25" y="8.6" transform="rotate(-0 290.25 8.6)">Dose (Gy)</text>
</g>
<g id="legend_2">
<g id="patch_13">
<path d="M 312.485937 100.708594
L 364.5 100.708594
Q 365.5 100.708594 365.5 99.708594
L 365.5 77.791406
Q 365.5 76.791406 364.5 76.791406
L 312.485937 76.791406
Q 311.485937 76.791406 311.485937 77.791406
L 311.485937 99.708594
Q 311.485937 100.708594 312.485937 100.708594
z
" style="fill: #ffffff; opacity: 0.8; stroke: #cccccc; stroke-width: 0.4; stroke-linejoin: miter"/>
</g>
<g id="line2d_66">
<path d="M 313.685937 81.040625
L 318.685937 81.040625
L 323.685937 81.040625
" style="fill: none; stroke: #0000ff; stroke-opacity: 0.9; stroke-width: 1.35; stroke-linecap: square"/>
<g>
<path d="M 0 -1.3 L -1.3 1.3 L 1.3 1.3 z" transform="translate(318.685937 81.040625)" style="fill: #0000ff; fill-opacity: 0.9; stroke: #0000ff; stroke-opacity: 0.9; stroke-linejoin: miter"/>
</g>
</g>
<g id="text_92">
<text style="font-size: 5px; font-family: 'DejaVu Sans', 'Liberation Sans', sans-serif; text-anchor: start; stroke: #000000; stroke-width: 0.08px" x="327.685937" y="82.790625" transform="rotate(-0 327.685937 82.790625)">Tumor</text>
</g>
<g id="line2d_67">
<path d="M 313.685937 88.379687
L 318.685937 88.379687
L 323.685937 88.379687
" style="fill: none; stroke: #008000; stroke-opacity: 0.9; stroke-width: 1.35; stroke-linecap: square"/>
<g>
<path d="M 0 -1.43 L -0.321055 -0.441894 L -1.360011 -0.441894 L -0.519478 0.168789 L -0.840533 1.156894 L -0 0.546211 L 0.840533 1.156894 L 0.519478 0.168789 L 1.360011 -0.441894 L 0.321055 -0.441894 z" transform="translate(318.685937 88.379687)" style="fill: #008000; fill-opacity: 0.9; stroke: #008000; stroke-opacity: 0.9; stroke-linejoin: bevel"/>
</g>
</g>
<g id="text_93">
<text style="font-size: 5px; font-family: 'DejaVu Sans', 'Liberation Sans', sans-serif; text-anchor: start; stroke: #000000; stroke-width: 0.08px" x="327.685937" y="90.129687" transform="rotate(-0 327.685937 90.129687)">Salivary gland</text>
</g>
<g id="line2d_68">
<path d="M 313.685937 95.71875
L 318.685937 95.71875
L 323.685937 95.71875
" style="fill: none; stroke: #ff0000; stroke-opacity: 0.9; stroke-width: 1.35; stroke-linecap: square"/>
<g>
<path d="M 0 1.3 C 0.344764 1.3 0.675454 1.163024 0.919239 0.919239 C 1.163024 0.675454 1.3 0.344764 1.3 0 C 1.3 -0.344764 1.163024 -0.675454 0.919239 -0.919239 C 0.675454 -1.163024 0.344764 -1.3 0 -1.3 C -0.344764 -1.3 -0.675454 -1.163024 -0.919239 -0.919239 C -1.163024 -0.675454 -1.3 -0.344764 -1.3 0 C -1.3 0.344764 -1.163024 0.675454 -0.919239 0.919239 C -0.675454 1.163024 -0.344764 1.3 0 1.3 z" transform="translate(318.685937 95.71875)" style="fill: #ff0000; fill-opacity: 0.9; stroke: #ff0000; stroke-opacity: 0.9"/>
</g>
</g>
<g id="text_94">
<text style="font-size: 5px; font-family: 'DejaVu Sans', 'Liberation Sans', sans-serif; text-anchor: start; stroke: #000000; stroke-width: 0.08px" x="327.685937" y="97.46875" transform="rotate(-0 327.685937 97.46875)">Kidney</text>
</g>
</g>
</g>
<g id="axes_3">
<g id="patch_14">
<path d="M 389 166.5
L 544.5 166.5
L 544.5 11
L 389 11
z
" style="fill: #f7f7f7"/>
</g>
<g id="matplotlib.axis_5">
<g id="xtick_13">
<g id="line2d_69">
<path d="M 396.068182 166.5
L 396.068182 11
" clip-path="url(#p26e3912e27)" style="fill: none; stroke: #e6e6e6; stroke-width: 0.6; stroke-linecap: square"/>
</g>
<g id="line2d_70">
<g>
<path d="M 0 0 L 0 1.5" transform="translate(396.068182 166.5)" style="fill: #333333; stroke: #333333; stroke-width: 0.5"/>
</g>
</g>
<g id="text_95">
<text style="font-size: 4.25px; font-family: 'DejaVu Sans', 'Liberation Sans', sans-serif; text-anchor: middle; stroke: #000000; stroke-width: 0.08px" x="396.068182" y="173.329336" transform="rotate(-0 396.068182 173.329336)">0</text>
</g>
</g>
<g id="xtick_14">
<g id="line2d_71">
<path d="M 424.340909 166.5
L 424.340909 11
" clip-path="url(#p26e3912e27)" style="fill: none; stroke: #e6e6e6; stroke-width: 0.6; stroke-linecap: square"/>
</g>
<g id="line2d_72">
<g>
<path d="M 0 0 L 0 1.5" transform="translate(424.340909 166.5)" style="fill: #333333; stroke: #333333; stroke-width: 0.5"/>
</g>
</g>
<g id="text_96">
<text style="font-size: 4.25px; font-family: 'DejaVu Sans', 'Liberation Sans', sans-serif; text-anchor: middle; stroke: #000000; stroke-width: 0.08px" x="424.340909" y="173.329336" transform="rotate(-0 424.340909 173.329336)">1000</text>
</g>
</g>
<g id="xtick_15">
<g id="line2d_73">
<path d="M 452.613636 166.5
L 452.613636 11
" clip-path="url(#p26e3912e27)" style="fill: none; stroke: #e6e6e6; stroke-width: 0.6; stroke-linecap: square"/>
</g>
<g id="line2d_74">
<g>
<path d="M 0 0 L 0 1.5" transform="translate(452.613636 166.5)" style="fill: #333333; stroke: #333333; stroke-width: 0.5"/>
</g>
</g>
<g id="text_97">
<text style="font-size: 4.25px; font-family: 'DejaVu Sans', 'Liberation Sans', sans-serif; text-anchor: middle; stroke: #000000; stroke-width: 0.08px" x="452.613636" y="173.329336" transform="rotate(-0 452.613636 173.329336)">2000</text>
</g>
</g>
<g id="xtick_16">
<g id="line2d_75">
<path d="M 480.886364 166.5
L 480.886364 11
" clip-path="url(#p26e3912e27)" style="fill: none; stroke: #e6e6e6; stroke-width: 0.6; stroke-linecap: square"/>
</g>
<g id="line2d_76">
<g>
<path d="M 0 0 L 0 1.5" transform="translate(480.886364 166.5)" style="fill: #333333; stroke: #333333; stroke-width: 0.5"/>
</g>
</g>
<g id="text_98">
<text style="font-size: 4.25px; font-family: 'DejaVu Sans', 'Liberation Sans', sans-serif; text-anchor: middle; stroke: #000000; stroke-width: 0.08px" x="480.886364" y="173.329336" transform="rotate(-0 480.886364 173.329336)">3000</text>
</g>
</g>
<g id="xtick_17">
<g id="line2d_77">
<path d="M 509.159091 166.5
L 509.159091 11
" clip-path="url(#p26e3912e27)" style="fill: none; stroke: #e6e6e6; stroke-width: 0.6; stroke-linecap: square"/>
</g>
<g id="line2d_78">
<g>
<path d="M 0 0 L 0 1.5" transform="translate(509.159091 166.5)" style="fill: #333333; stroke: #333333; stroke-width: 0.5"/>
</g>
</g>
<g id="text_99">
<text style="font-size: 4.25px; font-family: 'DejaVu Sans', 'Liberation Sans', sans-serif; text-anchor: middle; stroke: #000000; stroke-width: 0.08px" x="509.159091" y="173.329336" transform="rotate(-0 509.159091 173.329336)">4000</text>
</g>
</g>
<g id="xtick_18">
<g id="line2d_79">
<path d="M 537.431818 166.5
L 537.431818 11
" clip-path="url(#p26e3912e27)" style="fill: none; stroke: #e6e6e6; stroke-width: 0.6; stroke-linecap: square"/>
</g>
<g id="line2d_80">
<g>
<path d="M 0 0 L 0 1.5" transform="translate(537.431818 166.5)" style="fill: #333333; stroke: #333333; stroke-width: 0.5"/>
</g>
</g>
<g id="text_100">
<text style="font-size: 4.25px; font-family: 'DejaVu Sans', 'Liberation Sans', sans-serif; text-anchor: middle; stroke: #000000; stroke-width: 0.08px" x="537.431818" y="173.329336" transform="rotate(-0 537.431818 173.329336)">5000</text>
</g>
</g>
<g id="text_101">
<text style="font-size: 5.8px; font-family: 'DejaVu Sans', 'Liberation Sans', sans-serif; text-anchor: middle; stroke: #000000; stroke-width: 0.08px" x="466.75" y="179.520297" transform="rotate(-0 466.75 179.520297)">Receptor Density (nmol/l)</text>
</g>
</g>
<g id="matplotlib.axis_6">
<g id="ytick_17">
<g id="line2d_81">
<path d="M 389 164.493446
L 544.5 164.493446
" clip-path="url(#p26e3912e27)" style="fill: none; stroke: #e6e6e6; stroke-width: 0.6; stroke-linecap: square"/>
</g>
<g id="line2d_82">
<g>
<path d="M 0 0 L -1.5 0" transform="translate(389 164.493446)" style="fill: #333333; stroke: #333333; stroke-width: 0.5"/>
</g>
</g>
<g id="text_102">
<text style="font-size: 4.25px; font-family: 'DejaVu Sans', 'Liberation Sans', sans-serif; text-anchor: end; stroke: #000000; stroke-width: 0.08px" x="386" y="166.108114" transform="rotate(-0 386 166.108114)">0.0</text>
</g>
</g>
<g id="ytick_18">
<g id="line2d_83">
<path d="M 389 132.894178
L 544.5 132.894178
" clip-path="url(#p26e3912e27)" style="fill: none; stroke: #e6e6e6; stroke-width: 0.6; stroke-linecap: square"/>
</g>
<g id="line2d_84">
<g>
<path d="M 0 0 L -1.5 0" transform="translate(389 132.894178)" style="fill: #333333; stroke: #333333; stroke-width: 0.5"/>
</g>
</g>
<g id="text_103">
<text style="font-size: 4.25px; font-family: 'DejaVu Sans', 'Liberation Sans', sans-serif; text-anchor: end; stroke: #000000; stroke-width: 0.08px" x="386" y="134.508846" transform="rotate(-0 386 134.508846)">0.2</text>
</g>
</g>
<g id="ytick_19">
<g id="line2d_85">
<path d="M 389 101.29491
L 544.5 101.29491
" clip-path="url(#p26e3912e27)" style="fill: none; stroke: #e6e6e6; stroke-width: 0.6; stroke-linecap: square"/>
</g>
<g id="line2d_86">
<g>
<path d="M 0 0 L -1.5 0" transform="translate(389 101.29491)" style="fill: #333333; stroke: #333333; stroke-width: 0.5"/>
</g>
</g>
<g id="text_104">
<text style="font-size: 4.25px; font-family: 'DejaVu Sans', 'Liberation Sans', sans-serif; text-anchor: end; stroke: #000000; stroke-width: 0.08px" x="386" y="102.909578" transform="rotate(-0 386 102.909578)">0.4</text>
</g>
</g>
<g id="ytick_20">
<g id="line2d_87">
<path d="M 389 69.695641
L 544.5 69.695641
" clip-path="url(#p26e3912e27)" style="fill: none; stroke: #e6e6e6; stroke-width: 0.6; stroke-linecap: square"/>
</g>
<g id="line2d_88">
<g>
<path d="M 0 0 L -1.5 0" transform="translate(389 69.695641)" style="fill: #333333; stroke: #333333; stroke-width: 0.5"/>
</g>
</g>
<g id="text_105">
<text style="font-size: 4.25px; font-family: 'DejaVu Sans', 'Liberation Sans', sans-serif; text-anchor: end; stroke: #000000; stroke-width: 0.08px" x="386" y="71.310309" transform="rotate(-0 386 71.310309)">0.6</text>
</g>
</g>
<g id="ytick_21">
<g id="line2d_89">
<path d="M 389 38.096373
L 544.5 38.096373
" clip-path="url(#p26e3912e27)" style="fill: none; stroke: #e6e6e6; stroke-width: 0.6; stroke-linecap: square"/>
</g>
<g id="line2d_90">
<g>
<path d="M 0 0 L -1.5 0" transform="translate(389 38.096373)" style="fill: #333333; stroke: #333333; stroke-width: 0.5"/>
</g>
</g>
<g id="text_106">
<text style="font-size: 4.25px; font-family: 'DejaVu Sans', 'Liberation Sans', sans-serif; text-anchor: end; stroke: #000000; stroke-width: 0.08px" x="386" y="39.711041" transform="rotate(-0 386 39.711041)">0.8</text>
</g>
</g>
<g id="text_107">
<text style="font-weight: 700; font-size: 5.7px; font-family: 'DejaVu Sans', 'Liberation Sans', sans-serif; text-anchor: middle; stroke: #000000; stroke-width: 0.08px" x="376.55575" y="88.75" transform="rotate(-90 376.55575 88.75)">fBED</text>
</g>
</g>
<g id="text_108">
<text style="font-size: 3.4px; font-family: 'DejaVu Sans', 'Liberation Sans', sans-serif; text-anchor: start; fill: #0000ff; stroke: #0000ff; stroke-width: 0.1px" x="395.796455" y="160.375751" transform="rotate(-0 395.796455 160.375751)">0.03</text>
</g>
<g id="text_109">
<text style="font-size: 3.4px; font-family: 'DejaVu Sans', 'Liberation Sans', sans-serif; text-anchor: start; fill: #0000ff; stroke: #0000ff; stroke-width: 0.1px" x="395.909545" y="150.421981" transform="rotate(-0 395.909545 150.421981)">0.10</text>
</g>
<g id="text_110">
<text style="font-size: 3.4px; font-family: 'DejaVu Sans', 'Liberation Sans', sans-serif; text-anchor: start; fill: #0000ff; stroke: #0000ff; stroke-width: 0.1px" x="396.050909" y="141.100197" transform="rotate(-0 396.050909 141.100197)">0.15</text>
</g>
<g id="text_111">
<text style="font-size: 3.4px; font-family: 'DejaVu Sans', 'Liberation Sans', sans-serif; text-anchor: start; fill: #0000ff; stroke: #0000ff; stroke-width: 0.1px" x="397.181818" y="90.383371" transform="rotate(-0 397.181818 90.383371)">0.47</text>
</g>
<g id="text_112">
<text style="font-size: 3.4px; font-family: 'DejaVu Sans', 'Liberation Sans', sans-serif; text-anchor: start; fill: #0000ff; stroke: #0000ff; stroke-width: 0.1px" x="398.595455" y="61.94403" transform="rotate(-0 398.595455 61.94403)">0.66</text>
</g>
<g id="text_113">
<text style="font-size: 3.4px; font-family: 'DejaVu Sans', 'Liberation Sans', sans-serif; text-anchor: start; fill: #0000ff; stroke: #0000ff; stroke-width: 0.1px" x="409.904545" y="26.868842" transform="rotate(-0 409.904545 26.868842)">0.88</text>
</g>
<g id="text_114">
<text style="font-size: 3.4px; font-family: 'DejaVu Sans', 'Liberation Sans', sans-serif; text-anchor: start; fill: #0000ff; stroke: #0000ff; stroke-width: 0.1px" x="424.040909" y="23.550919" transform="rotate(-0 424.040909 23.550919)">0.90</text>
</g>
<g id="text_115">
<text style="font-size: 3.4px; font-family: 'DejaVu Sans', 'Liberation Sans', sans-serif; text-anchor: start; fill: #0000ff; stroke: #0000ff; stroke-width: 0.1px" x="452.313636" y="22.128952" transform="rotate(-0 452.313636 22.128952)">0.91</text>
</g>
<g id="text_116">
<text style="font-size: 3.4px; font-family: 'DejaVu Sans', 'Liberation Sans', sans-serif; text-anchor: start; fill: #0000ff; stroke: #0000ff; stroke-width: 0.1px" x="537.131818" y="20.232995" transform="rotate(-0 537.131818 20.232995)">0.92</text>
</g>
<g id="text_117">
<text style="font-size: 3.4px; font-family: 'DejaVu Sans', 'Liberation Sans', sans-serif; text-anchor: start; fill: #008000; stroke: #008000; stroke-width: 0.1px" x="395.796455" y="159.032782" transform="rotate(-0 395.796455 159.032782)">0.04</text>
</g>
<g id="text_118">
<text style="font-size: 3.4px; font-family: 'DejaVu Sans', 'Liberation Sans', sans-serif; text-anchor: start; fill: #008000; stroke: #008000; stroke-width: 0.1px" x="395.909545" y="149.079013" transform="rotate(-0 395.909545 149.079013)">0.10</text>
</g>
<g id="text_119">
<text style="font-size: 3.4px; font-family: 'DejaVu Sans', 'Liberation Sans', sans-serif; text-anchor: start; fill: #008000; stroke: #008000; stroke-width: 0.1px" x="396.050909" y="139.757228" transform="rotate(-0 396.050909 139.757228)">0.16</text>
</g>
<g id="text_120">
<text style="font-size: 3.4px; font-family: 'DejaVu Sans', 'Liberation Sans', sans-serif; text-anchor: start; fill: #008000; stroke: #008000; stroke-width: 0.1px" x="397.181818" y="89.040402" transform="rotate(-0 397.181818 89.040402)">0.48</text>
</g>
<g id="text_121">
<text style="font-size: 3.4px; font-family: 'DejaVu Sans', 'Liberation Sans', sans-serif; text-anchor: start; fill: #008000; stroke: #008000; stroke-width: 0.1px" x="398.595455" y="60.601061" transform="rotate(-0 398.595455 60.601061)">0.66</text>
</g>
<g id="text_122">
<text style="font-size: 3.4px; font-family: 'DejaVu Sans', 'Liberation Sans', sans-serif; text-anchor: start; fill: #008000; stroke: #008000; stroke-width: 0.1px" x="409.904545" y="25.525873" transform="rotate(-0 409.904545 25.525873)">0.89</text>
</g>
<g id="text_123">
<text style="font-size: 3.4px; font-family: 'DejaVu Sans', 'Liberation Sans', sans-serif; text-anchor: start; fill: #008000; stroke: #008000; stroke-width: 0.1px" x="424.040909" y="22.20795" transform="rotate(-0 424.040909 22.20795)">0.91</text>
</g>
<g id="text_124">
<text style="font-size: 3.4px; font-family: 'DejaVu Sans', 'Liberation Sans', sans-serif; text-anchor: start; fill: #008000; stroke: #008000; stroke-width: 0.1px" x="452.313636" y="20.785983" transform="rotate(-0 452.313636 20.785983)">0.92</text>
</g>
<g id="text_125">
<text style="font-size: 3.4px; font-family: 'DejaVu Sans', 'Liberation Sans', sans-serif; text-anchor: start; fill: #008000; stroke: #008000; stroke-width: 0.1px" x="537.131818" y="18.890027" transform="rotate(-0 537.131818 18.890027)">0.93</text>
</g>
<g id="text_126">
<text style="font-size: 3.4px; font-family: 'DejaVu Sans', 'Liberation Sans', sans-serif; text-anchor: start; fill: #ff0000; stroke: #ff0000; stroke-width: 0.1px" x="395.796455" y="160.059758" transform="rotate(-0 395.796455 160.059758)">0.03</text>
</g>
<g id="text_127">
<text style="font-size: 3.4px; font-family: 'DejaVu Sans', 'Liberation Sans', sans-serif; text-anchor: start; fill: #ff0000; stroke: #ff0000; stroke-width: 0.1px" x="395.909545" y="150.105989" transform="rotate(-0 395.909545 150.105989)">0.10</text>
</g>
<g id="text_128">
<text style="font-size: 3.4px; font-family: 'DejaVu Sans', 'Liberation Sans', sans-serif; text-anchor: start; fill: #ff0000; stroke: #ff0000; stroke-width: 0.1px" x="396.050909" y="140.784205" transform="rotate(-0 396.050909 140.784205)">0.16</text>
</g>
<g id="text_129">
<text style="font-size: 3.4px; font-family: 'DejaVu Sans', 'Liberation Sans', sans-serif; text-anchor: start; fill: #ff0000; stroke: #ff0000; stroke-width: 0.1px" x="397.181818" y="90.067379" transform="rotate(-0 397.181818 90.067379)">0.48</text>
</g>
<g id="text_130">
<text style="font-size: 3.4px; font-family: 'DejaVu Sans', 'Liberation Sans', sans-serif; text-anchor: start; fill: #ff0000; stroke: #ff0000; stroke-width: 0.1px" x="398.595455" y="61.628037" transform="rotate(-0 398.595455 61.628037)">0.66</text>
</g>
<g id="text_131">
<text style="font-size: 3.4px; font-family: 'DejaVu Sans', 'Liberation Sans', sans-serif; text-anchor: start; fill: #ff0000; stroke: #ff0000; stroke-width: 0.1px" x="409.904545" y="26.552849" transform="rotate(-0 409.904545 26.552849)">0.88</text>
</g>
<g id="text_132">
<text style="font-size: 3.4px; font-family: 'DejaVu Sans', 'Liberation Sans', sans-serif; text-anchor: start; fill: #ff0000; stroke: #ff0000; stroke-width: 0.1px" x="424.040909" y="23.234926" transform="rotate(-0 424.040909 23.234926)">0.90</text>
</g>
<g id="text_133">
<text style="font-size: 3.4px; font-family: 'DejaVu Sans', 'Liberation Sans', sans-serif; text-anchor: start; fill: #ff0000; stroke: #ff0000; stroke-width: 0.1px" x="452.313636" y="21.812959" transform="rotate(-0 452.313636 21.812959)">0.91</text>
</g>
<g id="text_134">
<text style="font-size: 3.4px; font-family: 'DejaVu Sans', 'Liberation Sans', sans-serif; text-anchor: start; fill: #ff0000; stroke: #ff0000; stroke-width: 0.1px" x="537.131818" y="19.917003" transform="rotate(-0 537.131818 19.917003)">0.92</text>
</g>
<g id="text_135">
<text style="font-size: 3.4px; font-family: 'DejaVu Sans', 'Liberation Sans', sans-serif; text-anchor: start; fill: #800080; stroke: #800080; stroke-width: 0.1px" x="395.796455" y="160.84974" transform="rotate(-0 395.796455 160.84974)">0.03</text>
</g>
<g id="text_136">
<text style="font-size: 3.4px; font-family: 'DejaVu Sans', 'Liberation Sans', sans-serif; text-anchor: start; fill: #800080; stroke: #800080; stroke-width: 0.1px" x="395.909545" y="150.89597" transform="rotate(-0 395.909545 150.89597)">0.09</text>
</g>
<g id="text_137">
<text style="font-size: 3.4px; font-family: 'DejaVu Sans', 'Liberation Sans', sans-serif; text-anchor: start; fill: #800080; stroke: #800080; stroke-width: 0.1px" x="396.050909" y="141.574186" transform="rotate(-0 396.050909 141.574186)">0.15</text>
</g>
<g id="text_138">
<text style="font-size: 3.4px; font-family: 'DejaVu Sans', 'Liberation Sans', sans-serif; text-anchor: start; fill: #800080; stroke: #800080; stroke-width: 0.1px" x="397.181818" y="90.85736" transform="rotate(-0 397.181818 90.85736)">0.47</text>
</g>
<g id="text_139">
<text style="font-size: 3.4px; font-family: 'DejaVu Sans', 'Liberation Sans', sans-serif; text-anchor: start; fill: #800080; stroke: #800080; stroke-width: 0.1px" x="398.595455" y="62.418019" transform="rotate(-0 398.595455 62.418019)">0.65</text>
</g>
<g id="text_140">
<text style="font-size: 3.4px; font-family: 'DejaVu Sans', 'Liberation Sans', sans-serif; text-anchor: start; fill: #800080; stroke: #800080; stroke-width: 0.1px" x="409.904545" y="27.342831" transform="rotate(-0 409.904545 27.342831)">0.87</text>
</g>
<g id="text_141">
<text style="font-size: 3.4px; font-family: 'DejaVu Sans', 'Liberation Sans', sans-serif; text-anchor: start; fill: #800080; stroke: #800080; stroke-width: 0.1px" x="424.040909" y="24.024908" transform="rotate(-0 424.040909 24.024908)">0.90</text>
</g>
<g id="text_142">
<text style="font-size: 3.4px; font-family: 'DejaVu Sans', 'Liberation Sans', sans-serif; text-anchor: start; fill: #800080; stroke: #800080; stroke-width: 0.1px" x="452.313636" y="22.602941" transform="rotate(-0 452.313636 22.602941)">0.90</text>
</g>
<g id="text_143">
<text style="font-size: 3.4px; font-family: 'DejaVu Sans', 'Liberation Sans', sans-serif; text-anchor: start; fill: #800080; stroke: #800080; stroke-width: 0.1px" x="537.131818" y="20.706984" transform="rotate(-0 537.131818 20.706984)">0.92</text>
</g>
<g id="line2d_91">
<path d="M 396.096455 159.437564
L 396.209545 149.483794
L 396.350909 140.16201
L 397.481818 89.445184
L 398.895455 61.005842
L 410.204545 25.930654
L 424.340909 22.612731
L 452.613636 21.190764
L 537.431818 19.294808
" clip-path="url(#p26e3912e27)" style="fill: none; stroke: #0000ff; stroke-opacity: 0.7; stroke-width: 1.35; stroke-linecap: square"/>

<g clip-path="url(#p26e3912e27)">
<path d="M 0 1.3 C 0.344764 1.3 0.675454 1.163024 0.919239 0.919239 C 1.163024 0.675454 1.3 0.344764 1.3 0 C 1.3 -0.344764 1.163024 -0.675454 0.919239 -0.919239 C 0.675454 -1.163024 0.344764 -1.3 0 -1.3 C -0.344764 -1.3 -0.675454 -1.163024 -0.919239 -0.919239 C -1.163024 -0.675454 -1.3 -0.344764 -1.3 0 C -1.3 0.344764 -1.163024 0.675454 -0.919239 0.919239 C -0.675454 1.163024 -0.344764 1.3 0 1.3 z" transform="translate(396.096455 159.437564)" style="fill: #0000ff; fill-opacity: 0.7; stroke: #0000ff; stroke-opacity: 0.7"/>
<path d="M 0 1.3 C 0.344764 1.3 0.675454 1.163024 0.919239 0.919239 C 1.163024 0.675454 1.3 0.344764 1.3 0 C 1.3 -0.344764 1.163024 -0.675454 0.919239 -0.919239 C 0.675454 -1.163024 0.344764 -1.3 0 -1.3 C -0.344764 -1.3 -0.675454 -1.163024 -0.919239 -0.919239 C -1.163024 -0.675454 -1.3 -0.344764 -1.3 0 C -1.3 0.344764 -1.163024 0.675454 -0.919239 0.919239 C -0.675454 1.163024 -0.344764 1.3 0 1.3 z" transform="translate(396.209545 149.483794)" style="fill: #0000ff; fill-opacity: 0.7; stroke: #0000ff; stroke-opacity: 0.7"/>
<path d="M 0 1.3 C 0.344764 1.3 0.675454 1.163024 0.919239 0.919239 C 1.163024 0.675454 1.3 0.344764 1.3 0 C 1.3 -0.344764 1.163024 -0.675454 0.919239 -0.919239 C 0.675454 -1.163024 0.344764 -1.3 0 -1.3 C -0.344764 -1.3 -0.675454 -1.163024 -0.919239 -0.919239 C -1.163024 -0.675454 -1.3 -0.344764 -1.3 0 C -1.3 0.344764 -1.163024 0.675454 -0.919239 0.919239 C -0.675454 1.163024 -0.344764 1.3 0 1.3 z" transform="translate(396.350909 140.16201)" style="fill: #0000ff; fill-opacity: 0.7; stroke: #0000ff; stroke-opacity: 0.7"/>
<path d="M 0 1.3 C 0.344764 1.3 0.675454 1.163024 0.919239 0.919239 C 1.163024 0.675454 1.3 0.344764 1.3 0 C 1.3 -0.344764 1.163024 -0.675454 0.919239 -0.919239 C 0.675454 -1.163024 0.344764 -1.3 0 -1.3 C -0.344764 -1.3 -0.675454 -1.163024 -0.919239 -0.919239 C -1.163024 -0.675454 -1.3 -0.344764 -1.3 0 C -1.3 0.344764 -1.163024 0.675454 -0.919239 0.919239 C -0.675454 1.163024 -0.344764 1.3 0 1.3 z" transform="translate(397.481818 89.445184)" style="fill: #0000ff; fill-opacity: 0.7; stroke: #0000ff; stroke-opacity: 0.7"/>
<path d="M 0 1.3 C 0.344764 1.3 0.675454 1.163024 0.919239 0.919239 C 1.163024 0.675454 1.3 0.344764 1.3 0 C 1.3 -0.344764 1.163024 -0.675454 0.919239 -0.919239 C 0.675454 -1.163024 0.344764 -1.3 0 -1.3 C -0.344764 -1.3 -0.675454 -1.163024 -0.919239 -0.919239 C -1.163024 -0.675454 -1.3 -0.344764 -1.3 0 C -1.3 0.344764 -1.163024 0.675454 -0.919239 0.919239 C -0.675454 1.163024 -0.344764 1.3 0 1.3 z" transform="translate(398.895455 61.005842)" style="fill: #0000ff; fill-opacity: 0.7; stroke: #0000ff; stroke-opacity: 0.7"/>
<path d="M 0 1.3 C 0.344764 1.3 0.675454 1.163024 0.919239 0.919239 C 1.163024 0.675454 1.3 0.344764 1.3 0 C 1.3 -0.344764 1.163024 -0.675454 0.919239 -0.919239 C 0.675454 -1.163024 0.344764 -1.3 0 -1.3 C -0.344764 -1.3 -0.675454 -1.163024 -0.919239 -0.919239 C -1.163024 -0.675454 -1.3 -0.344764 -1.3 0 C -1.3 0.344764 -1.163024 0.675454 -0.919239 0.919239 C -0.675454 1.163024 -0.344764 1.3 0 1.3 z" transform="translate(410.204545 25.930654)" style="fill: #0000ff; fill-opacity: 0.7; stroke: #0000ff; stroke-opacity: 0.7"/>
<path d="M 0 1.3 C 0.344764 1.3 0.675454 1.163024 0.919239 0.919239 C 1.163024 0.675454 1.3 0.344764 1.3 0 C 1.3 -0.344764 1.163024 -0.675454 0.919239 -0.919239 C 0.675454 -1.163024 0.344764 -1.3 0 -1.3 C -0.344764 -1.3 -0.675454 -1.163024 -0.919239 -0.919239 C -1.163024 -0.675454 -1.3 -0.344764 -1.3 0 C -1.3 0.344764 -1.163024 0.675454 -0.919239 0.919239 C -0.675454 1.163024 -0.344764 1.3 0 1.3 z" transform="translate(424.340909 22.612731)" style="fill: #0000ff; fill-opacity: 0.7; stroke: #0000ff; stroke-opacity: 0.7"/>
<path d="M 0 1.3 C 0.344764 1.3 0.675454 1.163024 0.919239 0.919239 C 1.163024 0.675454 1.3 0.344764 1.3 0 C 1.3 -0.344764 1.163024 -0.675454 0.919239 -0.919239 C 0.675454 -1.163024 0.344764 -1.3 0 -1.3 C -0.344764 -1.3 -0.675454 -1.163024 -0.919239 -0.919239 C -1.163024 -0.675454 -1.3 -0.344764 -1.3 0 C -1.3 0.344764 -1.163024 0.675454 -0.919239 0.919239 C -0.675454 1.163024 -0.344764 1.3 0 1.3 z" transform="translate(452.613636 21.190764)" style="fill: #0000ff; fill-opacity: 0.7; stroke: #0000ff; stroke-opacity: 0.7"/>
<path d="M 0 1.3 C 0.344764 1.3 0.675454 1.163024 0.919239 0.919239 C 1.163024 0.675454 1.3 0.344764 1.3 0 C 1.3 -0.344764 1.163024 -0.675454 0.919239 -0.919239 C 0.675454 -1.163024 0.344764 -1.3 0 -1.3 C -0.344764 -1.3 -0.675454 -1.163024 -0.919239 -0.919239 C -1.163024 -0.675454 -1.3 -0.344764 -1.3 0 C -1.3 0.344764 -1.163024 0.675454 -0.919239 0.919239 C -0.675454 1.163024 -0.344764 1.3 0 1.3 z" transform="translate(537.431818 19.294808)" style="fill: #0000ff; fill-opacity: 0.7; stroke: #0000ff; stroke-opacity: 0.7"/>
</g>
</g>
<g id="line2d_92">
<path d="M 396.096455 158.094595
L 396.209545 148.140825
L 396.350909 138.819041
L 397.481818 88.102215
L 398.895455 59.662873
L 410.204545 24.587685
L 424.340909 21.269762
L 452.613636 19.847795
L 537.431818 17.951839
" clip-path="url(#p26e3912e27)" style="fill: none; stroke: #008000; stroke-opacity: 0.7; stroke-width: 1.35; stroke-linecap: square"/>

<g clip-path="url(#p26e3912e27)">
<path d="M -1.3 1.3 L 1.3 1.3 L 1.3 -1.3 L -1.3 -1.3 z" transform="translate(396.096455 158.094595)" style="fill: #008000; fill-opacity: 0.7; stroke: #008000; stroke-opacity: 0.7; stroke-linejoin: miter"/>
<path d="M -1.3 1.3 L 1.3 1.3 L 1.3 -1.3 L -1.3 -1.3 z" transform="translate(396.209545 148.140825)" style="fill: #008000; fill-opacity: 0.7; stroke: #008000; stroke-opacity: 0.7; stroke-linejoin: miter"/>
<path d="M -1.3 1.3 L 1.3 1.3 L 1.3 -1.3 L -1.3 -1.3 z" transform="translate(396.350909 138.819041)" style="fill: #008000; fill-opacity: 0.7; stroke: #008000; stroke-opacity: 0.7; stroke-linejoin: miter"/>
<path d="M -1.3 1.3 L 1.3 1.3 L 1.3 -1.3 L -1.3 -1.3 z" transform="translate(397.481818 88.102215)" style="fill: #008000; fill-opacity: 0.7; stroke: #008000; stroke-opacity: 0.7; stroke-linejoin: miter"/>
<path d="M -1.3 1.3 L 1.3 1.3 L 1.3 -1.3 L -1.3 -1.3 z" transform="translate(398.895455 59.662873)" style="fill: #008000; fill-opacity: 0.7; stroke: #008000; stroke-opacity: 0.7; stroke-linejoin: miter"/>
<path d="M -1.3 1.3 L 1.3 1.3 L 1.3 -1.3 L -1.3 -1.3 z" transform="translate(410.204545 24.587685)" style="fill: #008000; fill-opacity: 0.7; stroke: #008000; stroke-opacity: 0.7; stroke-linejoin: miter"/>
<path d="M -1.3 1.3 L 1.3 1.3 L 1.3 -1.3 L -1.3 -1.3 z" transform="translate(424.340909 21.269762)" style="fill: #008000; fill-opacity: 0.7; stroke: #008000; stroke-opacity: 0.7; stroke-linejoin: miter"/>
<path d="M -1.3 1.3 L 1.3 1.3 L 1.3 -1.3 L -1.3 -1.3 z" transform="translate(452.613636 19.847795)" style="fill: #008000; fill-opacity: 0.7; stroke: #008000; stroke-opacity: 0.7; stroke-linejoin: miter"/>
<path d="M -1.3 1.3 L 1.3 1.3 L 1.3 -1.3 L -1.3 -1.3 z" transform="translate(537.431818 17.951839)" style="fill: #008000; fill-opacity: 0.7; stroke: #008000; stroke-opacity: 0.7; stroke-linejoin: miter"/>
</g>
</g>
<g id="line2d_93">
<path d="M 396.096455 159.121571
L 396.209545 149.167801
L 396.350909 139.846017
L 397.481818 89.129191
L 398.895455 60.68985
L 410.204545 25.614662
L 424.340909 22.296738
L 452.613636 20.874771
L 537.431818 18.978815
" clip-path="url(#p26e3912e27)" style="fill: none; stroke: #ff0000; stroke-opacity: 0.7; stroke-width: 1.35; stroke-linecap: square"/>

<g clip-path="url(#p26e3912e27)">
<path d="M -0.433333 1.3 L 0.433333 1.3 L 0.433333 0.433333 L 1.3 0.433333 L 1.3 -0.433333 L 0.433333 -0.433333 L 0.433333 -1.3 L -0.433333 -1.3 L -0.433333 -0.433333 L -1.3 -0.433333 L -1.3 0.433333 L -0.433333 0.433333 z" transform="translate(396.096455 159.121571)" style="fill: #ff0000; fill-opacity: 0.7; stroke: #ff0000; stroke-opacity: 0.7; stroke-linejoin: miter"/>
<path d="M -0.433333 1.3 L 0.433333 1.3 L 0.433333 0.433333 L 1.3 0.433333 L 1.3 -0.433333 L 0.433333 -0.433333 L 0.433333 -1.3 L -0.433333 -1.3 L -0.433333 -0.433333 L -1.3 -0.433333 L -1.3 0.433333 L -0.433333 0.433333 z" transform="translate(396.209545 149.167801)" style="fill: #ff0000; fill-opacity: 0.7; stroke: #ff0000; stroke-opacity: 0.7; stroke-linejoin: miter"/>
<path d="M -0.433333 1.3 L 0.433333 1.3 L 0.433333 0.433333 L 1.3 0.433333 L 1.3 -0.433333 L 0.433333 -0.433333 L 0.433333 -1.3 L -0.433333 -1.3 L -0.433333 -0.433333 L -1.3 -0.433333 L -1.3 0.433333 L -0.433333 0.433333 z" transform="translate(396.350909 139.846017)" style="fill: #ff0000; fill-opacity: 0.7; stroke: #ff0000; stroke-opacity: 0.7; stroke-linejoin: miter"/>
<path d="M -0.433333 1.3 L 0.433333 1.3 L 0.433333 0.433333 L 1.3 0.433333 L 1.3 -0.433333 L 0.433333 -0.433333 L 0.433333 -1.3 L -0.433333 -1.3 L -0.433333 -0.433333 L -1.3 -0.433333 L -1.3 0.433333 L -0.433333 0.433333 z" transform="translate(397.481818 89.129191)" style="fill: #ff0000; fill-opacity: 0.7; stroke: #ff0000; stroke-opacity: 0.7; stroke-linejoin: miter"/>
<path d="M -0.433333 1.3 L 0.433333 1.3 L 0.433333 0.433333 L 1.3 0.433333 L 1.3 -0.433333 L 0.433333 -0.433333 L 0.433333 -1.3 L -0.433333 -1.3 L -0.433333 -0.433333 L -1.3 -0.433333 L -1.3 0.433333 L -0.433333 0.433333 z" transform="translate(398.895455 60.68985)" style="fill: #ff0000; fill-opacity: 0.7; stroke: #ff0000; stroke-opacity: 0.7; stroke-linejoin: miter"/>
<path d="M -0.433333 1.3 L 0.433333 1.3 L 0.433333 0.433333 L 1.3 0.433333 L 1.3 -0.433333 L 0.433333 -0.433333 L 0.433333 -1.3 L -0.433333 -1.3 L -0.433333 -0.433333 L -1.3 -0.433333 L -1.3 0.433333 L -0.433333 0.433333 z" transform="translate(410.204545 25.614662)" style="fill: #ff0000; fill-opacity: 0.7; stroke: #ff0000; stroke-opacity: 0.7; stroke-linejoin: miter"/>
<path d="M -0.433333 1.3 L 0.433333 1.3 L 0.433333 0.433333 L 1.3 0.433333 L 1.3 -0.433333 L 0.433333 -0.433333 L 0.433333 -1.3 L -0.433333 -1.3 L -0.433333 -0.433333 L -1.3 -0.433333 L -1.3 0.433333 L -0.433333 0.433333 z" transform="translate(424.340909 22.296738)" style="fill: #ff0000; fill-opacity: 0.7; stroke: #ff0000; stroke-opacity: 0.7; stroke-linejoin: miter"/>
<path d="M -0.433333 1.3 L 0.433333 1.3 L 0.433333 0.433333 L 1.3 0.433333 L 1.3 -0.433333 L 0.433333 -0.433333 L 0.433333 -1.3 L -0.433333 -1.3 L -0.433333 -0.433333 L -1.3 -0.433333 L -1.3 0.433333 L -0.433333 0.433333 z" transform="translate(452.613636 20.874771)" style="fill: #ff0000; fill-opacity: 0.7; stroke: #ff0000; stroke-opacity: 0.7; stroke-linejoin: miter"/>
<path d="M -0.433333 1.3 L 0.433333 1.3 L 0.433333 0.433333 L 1.3 0.433333 L 1.3 -0.433333 L 0.433333 -0.433333 L 0.433333 -1.3 L -0.433333 -1.3 L -0.433333 -0.433333 L -1.3 -0.433333 L -1.3 0.433333 L -0.433333 0.433333 z" transform="translate(537.431818 18.978815)" style="fill: #ff0000; fill-opacity: 0.7; stroke: #ff0000; stroke-opacity: 0.7; stroke-linejoin: miter"/>
</g>
</g>
<g id="line2d_94">
<path d="M 396.096455 159.911553
L 396.209545 149.957783
L 396.350909 140.635999
L 397.481818 89.919173
L 398.895455 61.479831
L 410.204545 26.404643
L 424.340909 23.08672
L 452.613636 21.664753
L 537.431818 19.768797
" clip-path="url(#p26e3912e27)" style="fill: none; stroke: #800080; stroke-opacity: 0.7; stroke-width: 1.35; stroke-linecap: square"/>

<g clip-path="url(#p26e3912e27)">
<path d="M -0 1.3 L 1.3 -1.3 L -1.3 -1.3 z" transform="translate(396.096455 159.911553)" style="fill: #800080; fill-opacity: 0.7; stroke: #800080; stroke-opacity: 0.7; stroke-linejoin: miter"/>
<path d="M -0 1.3 L 1.3 -1.3 L -1.3 -1.3 z" transform="translate(396.209545 149.957783)" style="fill: #800080; fill-opacity: 0.7; stroke: #800080; stroke-opacity: 0.7; stroke-linejoin: miter"/>
<path d="M -0 1.3 L 1.3 -1.3 L -1.3 -1.3 z" transform="translate(396.350909 140.635999)" style="fill: #800080; fill-opacity: 0.7; stroke: #800080; stroke-opacity: 0.7; stroke-linejoin: miter"/>
<path d="M -0 1.3 L 1.3 -1.3 L -1.3 -1.3 z" transform="translate(397.481818 89.919173)" style="fill: #800080; fill-opacity: 0.7; stroke: #800080; stroke-opacity: 0.7; stroke-linejoin: miter"/>
<path d="M -0 1.3 L 1.3 -1.3 L -1.3 -1.3 z" transform="translate(398.895455 61.479831)" style="fill: #800080; fill-opacity: 0.7; stroke: #800080; stroke-opacity: 0.7; stroke-linejoin: miter"/>
<path d="M -0 1.3 L 1.3 -1.3 L -1.3 -1.3 z" transform="translate(410.204545 26.404643)" style="fill: #800080; fill-opacity: 0.7; stroke: #800080; stroke-opacity: 0.7; stroke-linejoin: miter"/>
<path d="M -0 1.3 L 1.3 -1.3 L -1.3 -1.3 z" transform="translate(424.340909 23.08672)" style="fill: #800080; fill-opacity: 0.7; stroke: #800080; stroke-opacity: 0.7; stroke-linejoin: miter"/>
<path d="M -0 1.3 L 1.3 -1.3 L -1.3 -1.3 z" transform="translate(452.613636 21.664753)" style="fill: #800080; fill-opacity: 0.7; stroke: #800080; stroke-opacity: 0.7; stroke-linejoin: miter"/>
<path d="M -0 1.3 L 1.3 -1.3 L -1.3 -1.3 z" transform="translate(537.431818 19.768797)" style="fill: #800080; fill-opacity: 0.7; stroke: #800080; stroke-opacity: 0.7; stroke-linejoin: miter"/>
</g>
</g>
<g id="patch_15">
<path d="M 389 166.5
L 389 11
" style="fill: none; stroke: #828282; stroke-linejoin: miter; stroke-linecap: square"/>
</g>
<g id="patch_16">
<path d="M 544.5 166.5
L 544.5 11
" style="fill: none; stroke: #828282; stroke-linejoin: miter; stroke-linecap: square"/>
</g>
<g id="patch_17">
<path d="M 389 166.5
L 544.5 166.5
" style="fill: none; stroke: #828282; stroke-linejoin: miter; stroke-linecap: square"/>
</g>
<g id="patch_18">
<path d="M 389 11
L 544.5 11
" style="fill: none; stroke: #828282; stroke-linejoin: miter; stroke-linecap: square"/>
</g>
<g id="text_144">
<text style="font-weight: 700; font-size: 6.6px; font-family: 'DejaVu Sans', 'Liberation Sans', sans-serif; text-anchor: middle; stroke: #000000; stroke-width: 0.08px" x="466.75" y="8.6" transform="rotate(-0 466.75 8.6)">fBED</text>
</g>
<g id="legend_3">
<g id="patch_19">
<path d="M 506.725781 164
L 541 164
Q 542 164 542 163
L 542 133.1875
Q 542 132.1875 541 132.1875
L 506.725781 132.1875
Q 505.725781 132.1875 505.725781 133.1875
L 505.725781 163
Q 505.725781 164 506.725781 164
z
" style="fill: #ffffff; opacity: 0.8; stroke: #cccccc; stroke-width: 0.4; stroke-linejoin: miter"/>
</g>
<g id="line2d_95">
<path d="M 507.925781 136.436719
L 512.925781 136.436719
L 517.925781 136.436719
" style="fill: none; stroke: #0000ff; stroke-opacity: 0.7; stroke-width: 1.35; stroke-linecap: square"/>
<g>
<path d="M 0 1.3 C 0.344764 1.3 0.675454 1.163024 0.919239 0.919239 C 1.163024 0.675454 1.3 0.344764 1.3 0 C 1.3 -0.344764 1.163024 -0.675454 0.919239 -0.919239 C 0.675454 -1.163024 0.344764 -1.3 0 -1.3 C -0.344764 -1.3 -0.675454 -1.163024 -0.919239 -0.919239 C -1.163024 -0.675454 -1.3 -0.344764 -1.3 0 C -1.3 0.344764 -1.163024 0.675454 -0.919239 0.919239 C -0.675454 1.163024 -0.344764 1.3 0 1.3 z" transform="translate(512.925781 136.436719)" style="fill: #0000ff; fill-opacity: 0.7; stroke: #0000ff; stroke-opacity: 0.7"/>
</g>
</g>
<g id="text_145">
<text style="font-size: 5px; font-family: 'DejaVu Sans', 'Liberation Sans', sans-serif; text-anchor: start; stroke: #000000; stroke-width: 0.08px" x="521.925781" y="138.186719" transform="rotate(-0 521.925781 138.186719)">fBED_a</text>
</g>
<g id="line2d_96">
<path d="M 507.925781 143.914844
L 512.925781 143.914844
L 517.925781 143.914844
" style="fill: none; stroke: #008000; stroke-opacity: 0.7; stroke-width: 1.35; stroke-linecap: square"/>
<g>
<path d="M -1.3 1.3 L 1.3 1.3 L 1.3 -1.3 L -1.3 -1.3 z" transform="translate(512.925781 143.914844)" style="fill: #008000; fill-opacity: 0.7; stroke: #008000; stroke-opacity: 0.7; stroke-linejoin: miter"/>
</g>
</g>
<g id="text_146">
<text style="font-size: 5px; font-family: 'DejaVu Sans', 'Liberation Sans', sans-serif; text-anchor: start; stroke: #000000; stroke-width: 0.08px" x="521.925781" y="145.664844" transform="rotate(-0 521.925781 145.664844)">fBED_b</text>
</g>
<g id="line2d_97">
<path d="M 507.925781 151.392969
L 512.925781 151.392969
L 517.925781 151.392969
" style="fill: none; stroke: #ff0000; stroke-opacity: 0.7; stroke-width: 1.35; stroke-linecap: square"/>
<g>
<path d="M -0.433333 1.3 L 0.433333 1.3 L 0.433333 0.433333 L 1.3 0.433333 L 1.3 -0.433333 L 0.433333 -0.433333 L 0.433333 -1.3 L -0.433333 -1.3 L -0.433333 -0.433333 L -1.3 -0.433333 L -1.3 0.433333 L -0.433333 0.433333 z" transform="translate(512.925781 151.392969)" style="fill: #ff0000; fill-opacity: 0.7; stroke: #ff0000; stroke-opacity: 0.7; stroke-linejoin: miter"/>
</g>
</g>
<g id="text_147">
<text style="font-size: 5px; font-family: 'DejaVu Sans', 'Liberation Sans', sans-serif; text-anchor: start; stroke: #000000; stroke-width: 0.08px" x="521.925781" y="153.142969" transform="rotate(-0 521.925781 153.142969)">fBED_c</text>
</g>
<g id="line2d_98">
<path d="M 507.925781 158.871094
L 512.925781 158.871094
L 517.925781 158.871094
" style="fill: none; stroke: #800080; stroke-opacity: 0.7; stroke-width: 1.35; stroke-linecap: square"/>
<g>
<path d="M -0 1.3 L 1.3 -1.3 L -1.3 -1.3 z" transform="translate(512.925781 158.871094)" style="fill: #800080; fill-opacity: 0.7; stroke: #800080; stroke-opacity: 0.7; stroke-linejoin: miter"/>
</g>
</g>
<g id="text_148">
<text style="font-size: 5px; font-family: 'DejaVu Sans', 'Liberation Sans', sans-serif; text-anchor: start; stroke: #000000; stroke-width: 0.08px" x="521.925781" y="160.621094" transform="rotate(-0 521.925781 160.621094)">fBED_d</text>
</g>
</g>
</g>
<g id="axes_4">
<g id="patch_20">
<path d="M 29 347.15
L 184.5 347.15
L 184.5 191.75
L 29 191.75
z
" style="fill: #f7f7f7"/>
</g>
<g id="matplotlib.axis_7">
<g id="xtick_19">
<g id="line2d_99">
<path d="M 36.068182 347.15
L 36.068182 191.75
" clip-path="url(#pb7724fa45d)" style="fill: none; stroke: #e6e6e6; stroke-width: 0.6; stroke-linecap: square"/>
</g>
<g id="line2d_100">
<g>
<path d="M 0 0 L 0 1.5" transform="translate(36.068182 347.15)" style="fill: #333333; stroke: #333333; stroke-width: 0.5"/>
</g>
</g>
<g id="text_149">
<text style="font-size: 4.25px; font-family: 'DejaVu Sans', 'Liberation Sans', sans-serif; text-anchor: middle; stroke: #000000; stroke-width: 0.08px" x="36.068182" y="353.979336" transform="rotate(-0 36.068182 353.979336)">0</text>
</g>
</g>
<g id="xtick_20">
<g id="line2d_101">
<path d="M 64.340909 347.15
L 64.340909 191.75
" clip-path="url(#pb7724fa45d)" style="fill: none; stroke: #e6e6e6; stroke-width: 0.6; stroke-linecap: square"/>
</g>
<g id="line2d_102">
<g>
<path d="M 0 0 L 0 1.5" transform="translate(64.340909 347.15)" style="fill: #333333; stroke: #333333; stroke-width: 0.5"/>
</g>
</g>
<g id="text_150">
<text style="font-size: 4.25px; font-family: 'DejaVu Sans', 'Liberation Sans', sans-serif; text-anchor: middle; stroke: #000000; stroke-width: 0.08px" x="64.340909" y="353.979336" transform="rotate(-0 64.340909 353.979336)">1000</text>
</g>
</g>
<g id="xtick_21">
<g id="line2d_103">
<path d="M 92.613636 347.15
L 92.613636 191.75
" clip-path="url(#pb7724fa45d)" style="fill: none; stroke: #e6e6e6; stroke-width: 0.6; stroke-linecap: square"/>
</g>
<g id="line2d_104">
<g>
<path d="M 0 0 L 0 1.5" transform="translate(92.613636 347.15)" style="fill: #333333; stroke: #333333; stroke-width: 0.5"/>
</g>
</g>
<g id="text_151">
<text style="font-size: 4.25px; font-family: 'DejaVu Sans', 'Liberation Sans', sans-serif; text-anchor: middle; stroke: #000000; stroke-width: 0.08px" x="92.613636" y="353.979336" transform="rotate(-0 92.613636 353.979336)">2000</text>
</g>
</g>
<g id="xtick_22">
<g id="line2d_105">
<path d="M 120.886364 347.15
L 120.886364 191.75
" clip-path="url(#pb7724fa45d)" style="fill: none; stroke: #e6e6e6; stroke-width: 0.6; stroke-linecap: square"/>
</g>
<g id="line2d_106">
<g>
<path d="M 0 0 L 0 1.5" transform="translate(120.886364 347.15)" style="fill: #333333; stroke: #333333; stroke-width: 0.5"/>
</g>
</g>
<g id="text_152">
<text style="font-size: 4.25px; font-family: 'DejaVu Sans', 'Liberation Sans', sans-serif; text-anchor: middle; stroke: #000000; stroke-width: 0.08px" x="120.886364" y="353.979336" transform="rotate(-0 120.886364 353.979336)">3000</text>
</g>
</g>
<g id="xtick_23">
<g id="line2d_107">
<path d="M 149.159091 347.15
L 149.159091 191.75
" clip-path="url(#pb7724fa45d)" style="fill: none; stroke: #e6e6e6; stroke-width: 0.6; stroke-linecap: square"/>
</g>
<g id="line2d_108">
<g>
<path d="M 0 0 L 0 1.5" transform="translate(149.159091 347.15)" style="fill: #333333; stroke: #333333; stroke-width: 0.5"/>
</g>
</g>
<g id="text_153">
<text style="font-size: 4.25px; font-family: 'DejaVu Sans', 'Liberation Sans', sans-serif; text-anchor: middle; stroke: #000000; stroke-width: 0.08px" x="149.159091" y="353.979336" transform="rotate(-0 149.159091 353.979336)">4000</text>
</g>
</g>
<g id="xtick_24">
<g id="line2d_109">
<path d="M 177.431818 347.15
L 177.431818 191.75
" clip-path="url(#pb7724fa45d)" style="fill: none; stroke: #e6e6e6; stroke-width: 0.6; stroke-linecap: square"/>
</g>
<g id="line2d_110">
<g>
<path d="M 0 0 L 0 1.5" transform="translate(177.431818 347.15)" style="fill: #333333; stroke: #333333; stroke-width: 0.5"/>
</g>
</g>
<g id="text_154">
<text style="font-size: 4.25px; font-family: 'DejaVu Sans', 'Liberation Sans', sans-serif; text-anchor: middle; stroke: #000000; stroke-width: 0.08px" x="177.431818" y="353.979336" transform="rotate(-0 177.431818 353.979336)">5000</text>
</g>
</g>
<g id="text_155">
<text style="font-size: 5.8px; font-family: 'DejaVu Sans', 'Liberation Sans', sans-serif; text-anchor: middle; stroke: #000000; stroke-width: 0.08px" x="106.75" y="360.170297" transform="rotate(-0 106.75 360.170297)">Receptor Density (nmol/l)</text>
</g>
</g>
<g id="matplotlib.axis_8">
<g id="ytick_22">
<g id="line2d_111">
<path d="M 29 340.404105
L 184.5 340.404105
" clip-path="url(#pb7724fa45d)" style="fill: none; stroke: #e6e6e6; stroke-width: 0.6; stroke-linecap: square"/>
</g>
<g id="line2d_112">
<g>
<path d="M 0 0 L -1.5 0" transform="translate(29 340.404105)" style="fill: #333333; stroke: #333333; stroke-width: 0.5"/>
</g>
</g>
<g id="text_156">
<text style="font-size: 4.25px; font-family: 'DejaVu Sans', 'Liberation Sans', sans-serif; text-anchor: end; stroke: #000000; stroke-width: 0.08px" x="26" y="342.018773" transform="rotate(-0 26 342.018773)">0</text>
</g>
</g>
<g id="ytick_23">
<g id="line2d_113">
<path d="M 29 307.815241
L 184.5 307.815241
" clip-path="url(#pb7724fa45d)" style="fill: none; stroke: #e6e6e6; stroke-width: 0.6; stroke-linecap: square"/>
</g>
<g id="line2d_114">
<g>
<path d="M 0 0 L -1.5 0" transform="translate(29 307.815241)" style="fill: #333333; stroke: #333333; stroke-width: 0.5"/>
</g>
</g>
<g id="text_157">
<text style="font-size: 4.25px; font-family: 'DejaVu Sans', 'Liberation Sans', sans-serif; text-anchor: end; stroke: #000000; stroke-width: 0.08px" x="26" y="309.429909" transform="rotate(-0 26 309.429909)">20</text>
</g>
</g>
<g id="ytick_24">
<g id="line2d_115">
<path d="M 29 275.226376
L 184.5 275.226376
" clip-path="url(#pb7724fa45d)" style="fill: none; stroke: #e6e6e6; stroke-width: 0.6; stroke-linecap: square"/>
</g>
<g id="line2d_116">
<g>
<path d="M 0 0 L -1.5 0" transform="translate(29 275.226376)" style="fill: #333333; stroke: #333333; stroke-width: 0.5"/>
</g>
</g>
<g id="text_158">
<text style="font-size: 4.25px; font-family: 'DejaVu Sans', 'Liberation Sans', sans-serif; text-anchor: end; stroke: #000000; stroke-width: 0.08px" x="26" y="276.841044" transform="rotate(-0 26 276.841044)">40</text>
</g>
</g>
<g id="ytick_25">
<g id="line2d_117">
<path d="M 29 242.637512
L 184.5 242.637512
" clip-path="url(#pb7724fa45d)" style="fill: none; stroke: #e6e6e6; stroke-width: 0.6; stroke-linecap: square"/>
</g>
<g id="line2d_118">
<g>
<path d="M 0 0 L -1.5 0" transform="translate(29 242.637512)" style="fill: #333333; stroke: #333333; stroke-width: 0.5"/>
</g>
</g>
<g id="text_159">
<text style="font-size: 4.25px; font-family: 'DejaVu Sans', 'Liberation Sans', sans-serif; text-anchor: end; stroke: #000000; stroke-width: 0.08px" x="26" y="244.25218" transform="rotate(-0 26 244.25218)">60</text>
</g>
</g>
<g id="ytick_26">
<g id="line2d_119">
<path d="M 29 210.048647
L 184.5 210.048647
" clip-path="url(#pb7724fa45d)" style="fill: none; stroke: #e6e6e6; stroke-width: 0.6; stroke-linecap: square"/>
</g>
<g id="line2d_120">
<g>
<path d="M 0 0 L -1.5 0" transform="translate(29 210.048647)" style="fill: #333333; stroke: #333333; stroke-width: 0.5"/>
</g>
</g>
<g id="text_160">
<text style="font-size: 4.25px; font-family: 'DejaVu Sans', 'Liberation Sans', sans-serif; text-anchor: end; stroke: #000000; stroke-width: 0.08px" x="26" y="211.663315" transform="rotate(-0 26 211.663315)">80</text>
</g>
</g>
<g id="text_161">
<text style="font-weight: 700; font-size: 5.7px; font-family: 'DejaVu Sans', 'Liberation Sans', sans-serif; text-anchor: middle; stroke: #000000; stroke-width: 0.08px" x="17.861922" y="269.45" transform="rotate(-90 17.861922 269.45)">BED (Gy)</text>
</g>
</g>
<g id="text_162">
<text style="font-size: 3px; font-family: 'DejaVu Sans', 'Liberation Sans', sans-serif; text-anchor: start; fill: #800080; stroke: #800080; stroke-width: 0.1px" x="35.796455" y="341.02009" transform="rotate(-0 35.796455 341.02009)">0.1</text>
</g>
<g id="text_163">
<text style="font-size: 3px; font-family: 'DejaVu Sans', 'Liberation Sans', sans-serif; text-anchor: start; fill: #800080; stroke: #800080; stroke-width: 0.1px" x="35.909545" y="340.172779" transform="rotate(-0 35.909545 340.172779)">0.7</text>
</g>
<g id="text_164">
<text style="font-size: 3px; font-family: 'DejaVu Sans', 'Liberation Sans', sans-serif; text-anchor: start; fill: #800080; stroke: #800080; stroke-width: 0.1px" x="36.050909" y="339.113641" transform="rotate(-0 36.050909 339.113641)">1.3</text>
</g>
<g id="text_165">
<text style="font-size: 3px; font-family: 'DejaVu Sans', 'Liberation Sans', sans-serif; text-anchor: start; fill: #800080; stroke: #800080; stroke-width: 0.1px" x="37.181818" y="330.477592" transform="rotate(-0 37.181818 330.477592)">6.6</text>
</g>
<g id="text_166">
<text style="font-size: 3px; font-family: 'DejaVu Sans', 'Liberation Sans', sans-serif; text-anchor: start; fill: #800080; stroke: #800080; stroke-width: 0.1px" x="38.595455" y="317.442047" transform="rotate(-0 38.595455 317.442047)">14.6</text>
</g>
<g id="text_167">
<text style="font-size: 3px; font-family: 'DejaVu Sans', 'Liberation Sans', sans-serif; text-anchor: start; fill: #800080; stroke: #800080; stroke-width: 0.1px" x="49.904545" y="258.130313" transform="rotate(-0 49.904545 258.130313)">51.0</text>
</g>
<g id="text_168">
<text style="font-size: 3px; font-family: 'DejaVu Sans', 'Liberation Sans', sans-serif; text-anchor: start; fill: #800080; stroke: #800080; stroke-width: 0.1px" x="64.040909" y="237.762273" transform="rotate(-0 64.040909 237.762273)">63.5</text>
</g>
<g id="text_169">
<text style="font-size: 3px; font-family: 'DejaVu Sans', 'Liberation Sans', sans-serif; text-anchor: start; fill: #800080; stroke: #800080; stroke-width: 0.1px" x="92.313636" y="223.260228" transform="rotate(-0 92.313636 223.260228)">72.4</text>
</g>
<g id="text_170">
<text style="font-size: 3px; font-family: 'DejaVu Sans', 'Liberation Sans', sans-serif; text-anchor: start; fill: #800080; stroke: #800080; stroke-width: 0.1px" x="177.131818" y="215.438901" transform="rotate(-0 177.131818 215.438901)">77.2</text>
</g>
<g id="text_171">
<text style="font-size: 3px; font-family: 'DejaVu Sans', 'Liberation Sans', sans-serif; text-anchor: start; fill: #ffa500; stroke: #ffa500; stroke-width: 0.1px" x="35.796455" y="341.02009" transform="rotate(-0 35.796455 341.02009)">0.1</text>
</g>
<g id="text_172">
<text style="font-size: 3px; font-family: 'DejaVu Sans', 'Liberation Sans', sans-serif; text-anchor: start; fill: #ffa500; stroke: #ffa500; stroke-width: 0.1px" x="35.909545" y="340.156485" transform="rotate(-0 35.909545 340.156485)">0.7</text>
</g>
<g id="text_173">
<text style="font-size: 3px; font-family: 'DejaVu Sans', 'Liberation Sans', sans-serif; text-anchor: start; fill: #ffa500; stroke: #ffa500; stroke-width: 0.1px" x="36.050909" y="339.081053" transform="rotate(-0 36.050909 339.081053)">1.3</text>
</g>
<g id="text_174">
<text style="font-size: 3px; font-family: 'DejaVu Sans', 'Liberation Sans', sans-serif; text-anchor: start; fill: #ffa500; stroke: #ffa500; stroke-width: 0.1px" x="37.181818" y="329.988759" transform="rotate(-0 37.181818 329.988759)">6.9</text>
</g>
<g id="text_175">
<text style="font-size: 3px; font-family: 'DejaVu Sans', 'Liberation Sans', sans-serif; text-anchor: start; fill: #ffa500; stroke: #ffa500; stroke-width: 0.1px" x="38.595455" y="315.812603" transform="rotate(-0 38.595455 315.812603)">15.6</text>
</g>
<g id="text_176">
<text style="font-size: 3px; font-family: 'DejaVu Sans', 'Liberation Sans', sans-serif; text-anchor: start; fill: #ffa500; stroke: #ffa500; stroke-width: 0.1px" x="49.904545" y="253.404928" transform="rotate(-0 49.904545 253.404928)">53.9</text>
</g>
<g id="text_177">
<text style="font-size: 3px; font-family: 'DejaVu Sans', 'Liberation Sans', sans-serif; text-anchor: start; fill: #ffa500; stroke: #ffa500; stroke-width: 0.1px" x="64.040909" y="228.311502" transform="rotate(-0 64.040909 228.311502)">69.3</text>
</g>
<g id="text_178">
<text style="font-size: 3px; font-family: 'DejaVu Sans', 'Liberation Sans', sans-serif; text-anchor: start; fill: #ffa500; stroke: #ffa500; stroke-width: 0.1px" x="92.313636" y="212.01707" transform="rotate(-0 92.313636 212.01707)">79.3</text>
</g>
<g id="text_179">
<text style="font-size: 3px; font-family: 'DejaVu Sans', 'Liberation Sans', sans-serif; text-anchor: start; fill: #ffa500; stroke: #ffa500; stroke-width: 0.1px" x="177.131818" y="199.633302" transform="rotate(-0 177.131818 199.633302)">86.9</text>
</g>
<g id="text_180">
<text style="font-size: 3px; font-family: 'DejaVu Sans', 'Liberation Sans', sans-serif; text-anchor: start; fill: #00ffff; stroke: #00ffff; stroke-width: 0.1px" x="35.796455" y="341.02009" transform="rotate(-0 35.796455 341.02009)">0.1</text>
</g>
<g id="text_181">
<text style="font-size: 3px; font-family: 'DejaVu Sans', 'Liberation Sans', sans-serif; text-anchor: start; fill: #00ffff; stroke: #00ffff; stroke-width: 0.1px" x="35.909545" y="340.172779" transform="rotate(-0 35.909545 340.172779)">0.7</text>
</g>
<g id="text_182">
<text style="font-size: 3px; font-family: 'DejaVu Sans', 'Liberation Sans', sans-serif; text-anchor: start; fill: #00ffff; stroke: #00ffff; stroke-width: 0.1px" x="36.050909" y="339.097347" transform="rotate(-0 36.050909 339.097347)">1.3</text>
</g>
<g id="text_183">
<text style="font-size: 3px; font-family: 'DejaVu Sans', 'Liberation Sans', sans-serif; text-anchor: start; fill: #00ffff; stroke: #00ffff; stroke-width: 0.1px" x="37.181818" y="330.151704" transform="rotate(-0 37.181818 330.151704)">6.8</text>
</g>
<g id="text_184">
<text style="font-size: 3px; font-family: 'DejaVu Sans', 'Liberation Sans', sans-serif; text-anchor: start; fill: #00ffff; stroke: #00ffff; stroke-width: 0.1px" x="38.595455" y="316.464381" transform="rotate(-0 38.595455 316.464381)">15.2</text>
</g>
<g id="text_185">
<text style="font-size: 3px; font-family: 'DejaVu Sans', 'Liberation Sans', sans-serif; text-anchor: start; fill: #00ffff; stroke: #00ffff; stroke-width: 0.1px" x="49.904545" y="255.36026" transform="rotate(-0 49.904545 255.36026)">52.7</text>
</g>
<g id="text_186">
<text style="font-size: 3px; font-family: 'DejaVu Sans', 'Liberation Sans', sans-serif; text-anchor: start; fill: #00ffff; stroke: #00ffff; stroke-width: 0.1px" x="64.040909" y="231.081556" transform="rotate(-0 64.040909 231.081556)">67.6</text>
</g>
<g id="text_187">
<text style="font-size: 3px; font-family: 'DejaVu Sans', 'Liberation Sans', sans-serif; text-anchor: start; fill: #00ffff; stroke: #00ffff; stroke-width: 0.1px" x="92.313636" y="215.927734" transform="rotate(-0 92.313636 215.927734)">76.9</text>
</g>
<g id="text_188">
<text style="font-size: 3px; font-family: 'DejaVu Sans', 'Liberation Sans', sans-serif; text-anchor: start; fill: #00ffff; stroke: #00ffff; stroke-width: 0.1px" x="177.131818" y="205.499297" transform="rotate(-0 177.131818 205.499297)">83.3</text>
</g>
<g id="text_189">
<text style="font-size: 3px; font-family: 'DejaVu Sans', 'Liberation Sans', sans-serif; text-anchor: start; fill: #ff00ff; stroke: #ff00ff; stroke-width: 0.1px" x="35.796455" y="341.02009" transform="rotate(-0 35.796455 341.02009)">0.1</text>
</g>
<g id="text_190">
<text style="font-size: 3px; font-family: 'DejaVu Sans', 'Liberation Sans', sans-serif; text-anchor: start; fill: #ff00ff; stroke: #ff00ff; stroke-width: 0.1px" x="35.909545" y="340.172779" transform="rotate(-0 35.909545 340.172779)">0.7</text>
</g>
<g id="text_191">
<text style="font-size: 3px; font-family: 'DejaVu Sans', 'Liberation Sans', sans-serif; text-anchor: start; fill: #ff00ff; stroke: #ff00ff; stroke-width: 0.1px" x="36.050909" y="339.113641" transform="rotate(-0 36.050909 339.113641)">1.3</text>
</g>
<g id="text_192">
<text style="font-size: 3px; font-family: 'DejaVu Sans', 'Liberation Sans', sans-serif; text-anchor: start; fill: #ff00ff; stroke: #ff00ff; stroke-width: 0.1px" x="37.181818" y="330.314648" transform="rotate(-0 37.181818 330.314648)">6.7</text>
</g>
<g id="text_193">
<text style="font-size: 3px; font-family: 'DejaVu Sans', 'Liberation Sans', sans-serif; text-anchor: start; fill: #ff00ff; stroke: #ff00ff; stroke-width: 0.1px" x="38.595455" y="316.953214" transform="rotate(-0 38.595455 316.953214)">14.9</text>
</g>
<g id="text_194">
<text style="font-size: 3px; font-family: 'DejaVu Sans', 'Liberation Sans', sans-serif; text-anchor: start; fill: #ff00ff; stroke: #ff00ff; stroke-width: 0.1px" x="49.904545" y="256.50087" transform="rotate(-0 49.904545 256.50087)">52.0</text>
</g>
<g id="text_195">
<text style="font-size: 3px; font-family: 'DejaVu Sans', 'Liberation Sans', sans-serif; text-anchor: start; fill: #ff00ff; stroke: #ff00ff; stroke-width: 0.1px" x="64.040909" y="235.806941" transform="rotate(-0 64.040909 235.806941)">64.7</text>
</g>
<g id="text_196">
<text style="font-size: 3px; font-family: 'DejaVu Sans', 'Liberation Sans', sans-serif; text-anchor: start; fill: #ff00ff; stroke: #ff00ff; stroke-width: 0.1px" x="92.313636" y="221.467841" transform="rotate(-0 92.313636 221.467841)">73.5</text>
</g>
<g id="text_197">
<text style="font-size: 3px; font-family: 'DejaVu Sans', 'Liberation Sans', sans-serif; text-anchor: start; fill: #ff00ff; stroke: #ff00ff; stroke-width: 0.1px" x="177.131818" y="211.854126" transform="rotate(-0 177.131818 211.854126)">79.4</text>
</g>
<g id="line2d_121">
<path d="M 36.096455 340.192277
L 36.209545 339.344967
L 36.350909 338.285829
L 37.481818 329.64978
L 38.895455 316.614234
L 50.204545 257.302501
L 64.340909 236.934461
L 92.613636 222.432416
L 177.431818 214.611088
" clip-path="url(#pb7724fa45d)" style="fill: none; stroke: #800080; stroke-opacity: 0.9; stroke-width: 1.35; stroke-linecap: square"/>

<g clip-path="url(#pb7724fa45d)">
<path d="M 0 1.3 C 0.344764 1.3 0.675454 1.163024 0.919239 0.919239 C 1.163024 0.675454 1.3 0.344764 1.3 0 C 1.3 -0.344764 1.163024 -0.675454 0.919239 -0.919239 C 0.675454 -1.163024 0.344764 -1.3 0 -1.3 C -0.344764 -1.3 -0.675454 -1.163024 -0.919239 -0.919239 C -1.163024 -0.675454 -1.3 -0.344764 -1.3 0 C -1.3 0.344764 -1.163024 0.675454 -0.919239 0.919239 C -0.675454 1.163024 -0.344764 1.3 0 1.3 z" transform="translate(36.096455 340.192277)" style="fill: #800080; fill-opacity: 0.9; stroke: #800080; stroke-opacity: 0.9"/>
<path d="M 0 1.3 C 0.344764 1.3 0.675454 1.163024 0.919239 0.919239 C 1.163024 0.675454 1.3 0.344764 1.3 0 C 1.3 -0.344764 1.163024 -0.675454 0.919239 -0.919239 C 0.675454 -1.163024 0.344764 -1.3 0 -1.3 C -0.344764 -1.3 -0.675454 -1.163024 -0.919239 -0.919239 C -1.163024 -0.675454 -1.3 -0.344764 -1.3 0 C -1.3 0.344764 -1.163024 0.675454 -0.919239 0.919239 C -0.675454 1.163024 -0.344764 1.3 0 1.3 z" transform="translate(36.209545 339.344967)" style="fill: #800080; fill-opacity: 0.9; stroke: #800080; stroke-opacity: 0.9"/>
<path d="M 0 1.3 C 0.344764 1.3 0.675454 1.163024 0.919239 0.919239 C 1.163024 0.675454 1.3 0.344764 1.3 0 C 1.3 -0.344764 1.163024 -0.675454 0.919239 -0.919239 C 0.675454 -1.163024 0.344764 -1.3 0 -1.3 C -0.344764 -1.3 -0.675454 -1.163024 -0.919239 -0.919239 C -1.163024 -0.675454 -1.3 -0.344764 -1.3 0 C -1.3 0.344764 -1.163024 0.675454 -0.919239 0.919239 C -0.675454 1.163024 -0.344764 1.3 0 1.3 z" transform="translate(36.350909 338.285829)" style="fill: #800080; fill-opacity: 0.9; stroke: #800080; stroke-opacity: 0.9"/>
<path d="M 0 1.3 C 0.344764 1.3 0.675454 1.163024 0.919239 0.919239 C 1.163024 0.675454 1.3 0.344764 1.3 0 C 1.3 -0.344764 1.163024 -0.675454 0.919239 -0.919239 C 0.675454 -1.163024 0.344764 -1.3 0 -1.3 C -0.344764 -1.3 -0.675454 -1.163024 -0.919239 -0.919239 C -1.163024 -0.675454 -1.3 -0.344764 -1.3 0 C -1.3 0.344764 -1.163024 0.675454 -0.919239 0.919239 C -0.675454 1.163024 -0.344764 1.3 0 1.3 z" transform="translate(37.481818 329.64978)" style="fill: #800080; fill-opacity: 0.9; stroke: #800080; stroke-opacity: 0.9"/>
<path d="M 0 1.3 C 0.344764 1.3 0.675454 1.163024 0.919239 0.919239 C 1.163024 0.675454 1.3 0.344764 1.3 0 C 1.3 -0.344764 1.163024 -0.675454 0.919239 -0.919239 C 0.675454 -1.163024 0.344764 -1.3 0 -1.3 C -0.344764 -1.3 -0.675454 -1.163024 -0.919239 -0.919239 C -1.163024 -0.675454 -1.3 -0.344764 -1.3 0 C -1.3 0.344764 -1.163024 0.675454 -0.919239 0.919239 C -0.675454 1.163024 -0.344764 1.3 0 1.3 z" transform="translate(38.895455 316.614234)" style="fill: #800080; fill-opacity: 0.9; stroke: #800080; stroke-opacity: 0.9"/>
<path d="M 0 1.3 C 0.344764 1.3 0.675454 1.163024 0.919239 0.919239 C 1.163024 0.675454 1.3 0.344764 1.3 0 C 1.3 -0.344764 1.163024 -0.675454 0.919239 -0.919239 C 0.675454 -1.163024 0.344764 -1.3 0 -1.3 C -0.344764 -1.3 -0.675454 -1.163024 -0.919239 -0.919239 C -1.163024 -0.675454 -1.3 -0.344764 -1.3 0 C -1.3 0.344764 -1.163024 0.675454 -0.919239 0.919239 C -0.675454 1.163024 -0.344764 1.3 0 1.3 z" transform="translate(50.204545 257.302501)" style="fill: #800080; fill-opacity: 0.9; stroke: #800080; stroke-opacity: 0.9"/>
<path d="M 0 1.3 C 0.344764 1.3 0.675454 1.163024 0.919239 0.919239 C 1.163024 0.675454 1.3 0.344764 1.3 0 C 1.3 -0.344764 1.163024 -0.675454 0.919239 -0.919239 C 0.675454 -1.163024 0.344764 -1.3 0 -1.3 C -0.344764 -1.3 -0.675454 -1.163024 -0.919239 -0.919239 C -1.163024 -0.675454 -1.3 -0.344764 -1.3 0 C -1.3 0.344764 -1.163024 0.675454 -0.919239 0.919239 C -0.675454 1.163024 -0.344764 1.3 0 1.3 z" transform="translate(64.340909 236.934461)" style="fill: #800080; fill-opacity: 0.9; stroke: #800080; stroke-opacity: 0.9"/>
<path d="M 0 1.3 C 0.344764 1.3 0.675454 1.163024 0.919239 0.919239 C 1.163024 0.675454 1.3 0.344764 1.3 0 C 1.3 -0.344764 1.163024 -0.675454 0.919239 -0.919239 C 0.675454 -1.163024 0.344764 -1.3 0 -1.3 C -0.344764 -1.3 -0.675454 -1.163024 -0.919239 -0.919239 C -1.163024 -0.675454 -1.3 -0.344764 -1.3 0 C -1.3 0.344764 -1.163024 0.675454 -0.919239 0.919239 C -0.675454 1.163024 -0.344764 1.3 0 1.3 z" transform="translate(92.613636 222.432416)" style="fill: #800080; fill-opacity: 0.9; stroke: #800080; stroke-opacity: 0.9"/>
<path d="M 0 1.3 C 0.344764 1.3 0.675454 1.163024 0.919239 0.919239 C 1.163024 0.675454 1.3 0.344764 1.3 0 C 1.3 -0.344764 1.163024 -0.675454 0.919239 -0.919239 C 0.675454 -1.163024 0.344764 -1.3 0 -1.3 C -0.344764 -1.3 -0.675454 -1.163024 -0.919239 -0.919239 C -1.163024 -0.675454 -1.3 -0.344764 -1.3 0 C -1.3 0.344764 -1.163024 0.675454 -0.919239 0.919239 C -0.675454 1.163024 -0.344764 1.3 0 1.3 z" transform="translate(177.431818 214.611088)" style="fill: #800080; fill-opacity: 0.9; stroke: #800080; stroke-opacity: 0.9"/>
</g>
</g>
<g id="line2d_122">
<path d="M 36.096455 340.192277
L 36.209545 339.328673
L 36.350909 338.25324
L 37.481818 329.160947
L 38.895455 314.984791
L 50.204545 252.577115
L 64.340909 227.48369
L 92.613636 211.189258
L 177.431818 198.805489
" clip-path="url(#pb7724fa45d)" style="fill: none; stroke: #ffa500; stroke-opacity: 0.9; stroke-width: 1.35; stroke-linecap: square"/>

<g clip-path="url(#pb7724fa45d)">
<path d="M -1.3 1.3 L 1.3 1.3 L 1.3 -1.3 L -1.3 -1.3 z" transform="translate(36.096455 340.192277)" style="fill: #ffa500; fill-opacity: 0.9; stroke: #ffa500; stroke-opacity: 0.9; stroke-linejoin: miter"/>
<path d="M -1.3 1.3 L 1.3 1.3 L 1.3 -1.3 L -1.3 -1.3 z" transform="translate(36.209545 339.328673)" style="fill: #ffa500; fill-opacity: 0.9; stroke: #ffa500; stroke-opacity: 0.9; stroke-linejoin: miter"/>
<path d="M -1.3 1.3 L 1.3 1.3 L 1.3 -1.3 L -1.3 -1.3 z" transform="translate(36.350909 338.25324)" style="fill: #ffa500; fill-opacity: 0.9; stroke: #ffa500; stroke-opacity: 0.9; stroke-linejoin: miter"/>
<path d="M -1.3 1.3 L 1.3 1.3 L 1.3 -1.3 L -1.3 -1.3 z" transform="translate(37.481818 329.160947)" style="fill: #ffa500; fill-opacity: 0.9; stroke: #ffa500; stroke-opacity: 0.9; stroke-linejoin: miter"/>
<path d="M -1.3 1.3 L 1.3 1.3 L 1.3 -1.3 L -1.3 -1.3 z" transform="translate(38.895455 314.984791)" style="fill: #ffa500; fill-opacity: 0.9; stroke: #ffa500; stroke-opacity: 0.9; stroke-linejoin: miter"/>
<path d="M -1.3 1.3 L 1.3 1.3 L 1.3 -1.3 L -1.3 -1.3 z" transform="translate(50.204545 252.577115)" style="fill: #ffa500; fill-opacity: 0.9; stroke: #ffa500; stroke-opacity: 0.9; stroke-linejoin: miter"/>
<path d="M -1.3 1.3 L 1.3 1.3 L 1.3 -1.3 L -1.3 -1.3 z" transform="translate(64.340909 227.48369)" style="fill: #ffa500; fill-opacity: 0.9; stroke: #ffa500; stroke-opacity: 0.9; stroke-linejoin: miter"/>
<path d="M -1.3 1.3 L 1.3 1.3 L 1.3 -1.3 L -1.3 -1.3 z" transform="translate(92.613636 211.189258)" style="fill: #ffa500; fill-opacity: 0.9; stroke: #ffa500; stroke-opacity: 0.9; stroke-linejoin: miter"/>
<path d="M -1.3 1.3 L 1.3 1.3 L 1.3 -1.3 L -1.3 -1.3 z" transform="translate(177.431818 198.805489)" style="fill: #ffa500; fill-opacity: 0.9; stroke: #ffa500; stroke-opacity: 0.9; stroke-linejoin: miter"/>
</g>
</g>
<g id="line2d_123">
<path d="M 36.096455 340.192277
L 36.209545 339.344967
L 36.350909 338.269534
L 37.481818 329.323891
L 38.895455 315.636568
L 50.204545 254.532447
L 64.340909 230.253743
L 92.613636 215.099921
L 177.431818 204.671485
" clip-path="url(#pb7724fa45d)" style="fill: none; stroke: #00ffff; stroke-opacity: 0.9; stroke-width: 1.35; stroke-linecap: square"/>

<g clip-path="url(#pb7724fa45d)">
<path d="M -0.433333 1.3 L 0.433333 1.3 L 0.433333 0.433333 L 1.3 0.433333 L 1.3 -0.433333 L 0.433333 -0.433333 L 0.433333 -1.3 L -0.433333 -1.3 L -0.433333 -0.433333 L -1.3 -0.433333 L -1.3 0.433333 L -0.433333 0.433333 z" transform="translate(36.096455 340.192277)" style="fill: #00ffff; fill-opacity: 0.9; stroke: #00ffff; stroke-opacity: 0.9; stroke-linejoin: miter"/>
<path d="M -0.433333 1.3 L 0.433333 1.3 L 0.433333 0.433333 L 1.3 0.433333 L 1.3 -0.433333 L 0.433333 -0.433333 L 0.433333 -1.3 L -0.433333 -1.3 L -0.433333 -0.433333 L -1.3 -0.433333 L -1.3 0.433333 L -0.433333 0.433333 z" transform="translate(36.209545 339.344967)" style="fill: #00ffff; fill-opacity: 0.9; stroke: #00ffff; stroke-opacity: 0.9; stroke-linejoin: miter"/>
<path d="M -0.433333 1.3 L 0.433333 1.3 L 0.433333 0.433333 L 1.3 0.433333 L 1.3 -0.433333 L 0.433333 -0.433333 L 0.433333 -1.3 L -0.433333 -1.3 L -0.433333 -0.433333 L -1.3 -0.433333 L -1.3 0.433333 L -0.433333 0.433333 z" transform="translate(36.350909 338.269534)" style="fill: #00ffff; fill-opacity: 0.9; stroke: #00ffff; stroke-opacity: 0.9; stroke-linejoin: miter"/>
<path d="M -0.433333 1.3 L 0.433333 1.3 L 0.433333 0.433333 L 1.3 0.433333 L 1.3 -0.433333 L 0.433333 -0.433333 L 0.433333 -1.3 L -0.433333 -1.3 L -0.433333 -0.433333 L -1.3 -0.433333 L -1.3 0.433333 L -0.433333 0.433333 z" transform="translate(37.481818 329.323891)" style="fill: #00ffff; fill-opacity: 0.9; stroke: #00ffff; stroke-opacity: 0.9; stroke-linejoin: miter"/>
<path d="M -0.433333 1.3 L 0.433333 1.3 L 0.433333 0.433333 L 1.3 0.433333 L 1.3 -0.433333 L 0.433333 -0.433333 L 0.433333 -1.3 L -0.433333 -1.3 L -0.433333 -0.433333 L -1.3 -0.433333 L -1.3 0.433333 L -0.433333 0.433333 z" transform="translate(38.895455 315.636568)" style="fill: #00ffff; fill-opacity: 0.9; stroke: #00ffff; stroke-opacity: 0.9; stroke-linejoin: miter"/>
<path d="M -0.433333 1.3 L 0.433333 1.3 L 0.433333 0.433333 L 1.3 0.433333 L 1.3 -0.433333 L 0.433333 -0.433333 L 0.433333 -1.3 L -0.433333 -1.3 L -0.433333 -0.433333 L -1.3 -0.433333 L -1.3 0.433333 L -0.433333 0.433333 z" transform="translate(50.204545 254.532447)" style="fill: #00ffff; fill-opacity: 0.9; stroke: #00ffff; stroke-opacity: 0.9; stroke-linejoin: miter"/>
<path d="M -0.433333 1.3 L 0.433333 1.3 L 0.433333 0.433333 L 1.3 0.433333 L 1.3 -0.433333 L 0.433333 -0.433333 L 0.433333 -1.3 L -0.433333 -1.3 L -0.433333 -0.433333 L -1.3 -0.433333 L -1.3 0.433333 L -0.433333 0.433333 z" transform="translate(64.340909 230.253743)" style="fill: #00ffff; fill-opacity: 0.9; stroke: #00ffff; stroke-opacity: 0.9; stroke-linejoin: miter"/>
<path d="M -0.433333 1.3 L 0.433333 1.3 L 0.433333 0.433333 L 1.3 0.433333 L 1.3 -0.433333 L 0.433333 -0.433333 L 0.433333 -1.3 L -0.433333 -1.3 L -0.433333 -0.433333 L -1.3 -0.433333 L -1.3 0.433333 L -0.433333 0.433333 z" transform="translate(92.613636 215.099921)" style="fill: #00ffff; fill-opacity: 0.9; stroke: #00ffff; stroke-opacity: 0.9; stroke-linejoin: miter"/>
<path d="M -0.433333 1.3 L 0.433333 1.3 L 0.433333 0.433333 L 1.3 0.433333 L 1.3 -0.433333 L 0.433333 -0.433333 L 0.433333 -1.3 L -0.433333 -1.3 L -0.433333 -0.433333 L -1.3 -0.433333 L -1.3 0.433333 L -0.433333 0.433333 z" transform="translate(177.431818 204.671485)" style="fill: #00ffff; fill-opacity: 0.9; stroke: #00ffff; stroke-opacity: 0.9; stroke-linejoin: miter"/>
</g>
</g>
<g id="line2d_124">
<path d="M 36.096455 340.192277
L 36.209545 339.344967
L 36.350909 338.285829
L 37.481818 329.486835
L 38.895455 316.125401
L 50.204545 255.673058
L 64.340909 234.979129
L 92.613636 220.640028
L 177.431818 211.026313
" clip-path="url(#pb7724fa45d)" style="fill: none; stroke: #ff00ff; stroke-opacity: 0.9; stroke-width: 1.35; stroke-linecap: square"/>

<g clip-path="url(#pb7724fa45d)">
<path d="M -0 1.3 L 1.3 -1.3 L -1.3 -1.3 z" transform="translate(36.096455 340.192277)" style="fill: #ff00ff; fill-opacity: 0.9; stroke: #ff00ff; stroke-opacity: 0.9; stroke-linejoin: miter"/>
<path d="M -0 1.3 L 1.3 -1.3 L -1.3 -1.3 z" transform="translate(36.209545 339.344967)" style="fill: #ff00ff; fill-opacity: 0.9; stroke: #ff00ff; stroke-opacity: 0.9; stroke-linejoin: miter"/>
<path d="M -0 1.3 L 1.3 -1.3 L -1.3 -1.3 z" transform="translate(36.350909 338.285829)" style="fill: #ff00ff; fill-opacity: 0.9; stroke: #ff00ff; stroke-opacity: 0.9; stroke-linejoin: miter"/>
<path d="M -0 1.3 L 1.3 -1.3 L -1.3 -1.3 z" transform="translate(37.481818 329.486835)" style="fill: #ff00ff; fill-opacity: 0.9; stroke: #ff00ff; stroke-opacity: 0.9; stroke-linejoin: miter"/>
<path d="M -0 1.3 L 1.3 -1.3 L -1.3 -1.3 z" transform="translate(38.895455 316.125401)" style="fill: #ff00ff; fill-opacity: 0.9; stroke: #ff00ff; stroke-opacity: 0.9; stroke-linejoin: miter"/>
<path d="M -0 1.3 L 1.3 -1.3 L -1.3 -1.3 z" transform="translate(50.204545 255.673058)" style="fill: #ff00ff; fill-opacity: 0.9; stroke: #ff00ff; stroke-opacity: 0.9; stroke-linejoin: miter"/>
<path d="M -0 1.3 L 1.3 -1.3 L -1.3 -1.3 z" transform="translate(64.340909 234.979129)" style="fill: #ff00ff; fill-opacity: 0.9; stroke: #ff00ff; stroke-opacity: 0.9; stroke-linejoin: miter"/>
<path d="M -0 1.3 L 1.3 -1.3 L -1.3 -1.3 z" transform="translate(92.613636 220.640028)" style="fill: #ff00ff; fill-opacity: 0.9; stroke: #ff00ff; stroke-opacity: 0.9; stroke-linejoin: miter"/>
<path d="M -0 1.3 L 1.3 -1.3 L -1.3 -1.3 z" transform="translate(177.431818 211.026313)" style="fill: #ff00ff; fill-opacity: 0.9; stroke: #ff00ff; stroke-opacity: 0.9; stroke-linejoin: miter"/>
</g>
</g>
<g id="patch_21">
<path d="M 29 347.15
L 29 191.75
" style="fill: none; stroke: #828282; stroke-linejoin: miter; stroke-linecap: square"/>
</g>
<g id="patch_22">
<path d="M 184.5 347.15
L 184.5 191.75
" style="fill: none; stroke: #828282; stroke-linejoin: miter; stroke-linecap: square"/>
</g>
<g id="patch_23">
<path d="M 29 347.15
L 184.5 347.15
" style="fill: none; stroke: #828282; stroke-linejoin: miter; stroke-linecap: square"/>
</g>
<g id="patch_24">
<path d="M 29 191.75
L 184.5 191.75
" style="fill: none; stroke: #828282; stroke-linejoin: miter; stroke-linecap: square"/>
</g>
<g id="text_198">
<text style="font-weight: 700; font-size: 6.6px; font-family: 'DejaVu Sans', 'Liberation Sans', sans-serif; text-anchor: middle; stroke: #000000; stroke-width: 0.08px" x="106.75" y="189.35" transform="rotate(-0 106.75 189.35)">Tumor BEDs</text>
</g>
<g id="legend_4">
<g id="patch_25">
<path d="M 32.5 226.0625
L 65.014063 226.0625
Q 66.014063 226.0625 66.014063 225.0625
L 66.014063 195.25
Q 66.014063 194.25 65.014063 194.25
L 32.5 194.25
Q 31.5 194.25 31.5 195.25
L 31.5 225.0625
Q 31.5 226.0625 32.5 226.0625
z
" style="fill: #ffffff; opacity: 0.8; stroke: #cccccc; stroke-width: 0.4; stroke-linejoin: miter"/>
</g>
<g id="line2d_125">
<path d="M 33.7 198.499219
L 38.7 198.499219
L 43.7 198.499219
" style="fill: none; stroke: #800080; stroke-opacity: 0.9; stroke-width: 1.35; stroke-linecap: square"/>
<g>
<path d="M 0 1.3 C 0.344764 1.3 0.675454 1.163024 0.919239 0.919239 C 1.163024 0.675454 1.3 0.344764 1.3 0 C 1.3 -0.344764 1.163024 -0.675454 0.919239 -0.919239 C 0.675454 -1.163024 0.344764 -1.3 0 -1.3 C -0.344764 -1.3 -0.675454 -1.163024 -0.919239 -0.919239 C -1.163024 -0.675454 -1.3 -0.344764 -1.3 0 C -1.3 0.344764 -1.163024 0.675454 -0.919239 0.919239 C -0.675454 1.163024 -0.344764 1.3 0 1.3 z" transform="translate(38.7 198.499219)" style="fill: #800080; fill-opacity: 0.9; stroke: #800080; stroke-opacity: 0.9"/>
</g>
</g>
<g id="text_199">
<text style="font-size: 5px; font-family: 'DejaVu Sans', 'Liberation Sans', sans-serif; text-anchor: start; stroke: #000000; stroke-width: 0.08px" x="47.7" y="200.249219" transform="rotate(-0 47.7 200.249219)">BED_a</text>
</g>
<g id="line2d_126">
<path d="M 33.7 205.977344
L 38.7 205.977344
L 43.7 205.977344
" style="fill: none; stroke: #ffa500; stroke-opacity: 0.9; stroke-width: 1.35; stroke-linecap: square"/>
<g>
<path d="M -1.3 1.3 L 1.3 1.3 L 1.3 -1.3 L -1.3 -1.3 z" transform="translate(38.7 205.977344)" style="fill: #ffa500; fill-opacity: 0.9; stroke: #ffa500; stroke-opacity: 0.9; stroke-linejoin: miter"/>
</g>
</g>
<g id="text_200">
<text style="font-size: 5px; font-family: 'DejaVu Sans', 'Liberation Sans', sans-serif; text-anchor: start; stroke: #000000; stroke-width: 0.08px" x="47.7" y="207.727344" transform="rotate(-0 47.7 207.727344)">BED_b</text>
</g>
<g id="line2d_127">
<path d="M 33.7 213.455469
L 38.7 213.455469
L 43.7 213.455469
" style="fill: none; stroke: #00ffff; stroke-opacity: 0.9; stroke-width: 1.35; stroke-linecap: square"/>
<g>
<path d="M -0.433333 1.3 L 0.433333 1.3 L 0.433333 0.433333 L 1.3 0.433333 L 1.3 -0.433333 L 0.433333 -0.433333 L 0.433333 -1.3 L -0.433333 -1.3 L -0.433333 -0.433333 L -1.3 -0.433333 L -1.3 0.433333 L -0.433333 0.433333 z" transform="translate(38.7 213.455469)" style="fill: #00ffff; fill-opacity: 0.9; stroke: #00ffff; stroke-opacity: 0.9; stroke-linejoin: miter"/>
</g>
</g>
<g id="text_201">
<text style="font-size: 5px; font-family: 'DejaVu Sans', 'Liberation Sans', sans-serif; text-anchor: start; stroke: #000000; stroke-width: 0.08px" x="47.7" y="215.205469" transform="rotate(-0 47.7 215.205469)">BED_c</text>
</g>
<g id="line2d_128">
<path d="M 33.7 220.933594
L 38.7 220.933594
L 43.7 220.933594
" style="fill: none; stroke: #ff00ff; stroke-opacity: 0.9; stroke-width: 1.35; stroke-linecap: square"/>
<g>
<path d="M -0 1.3 L 1.3 -1.3 L -1.3 -1.3 z" transform="translate(38.7 220.933594)" style="fill: #ff00ff; fill-opacity: 0.9; stroke: #ff00ff; stroke-opacity: 0.9; stroke-linejoin: miter"/>
</g>
</g>
<g id="text_202">
<text style="font-size: 5px; font-family: 'DejaVu Sans', 'Liberation Sans', sans-serif; text-anchor: start; stroke: #000000; stroke-width: 0.08px" x="47.7" y="222.683594" transform="rotate(-0 47.7 222.683594)">BED_d</text>
</g>
</g>
</g>
<g id="axes_5">
<g id="patch_26">
<path d="M 212.5 347.15
L 368 347.15
L 368 191.75
L 212.5 191.75
z
" style="fill: #f7f7f7"/>
</g>
<g id="matplotlib.axis_9">
<g id="xtick_25">
<g id="line2d_129">
<path d="M 219.568182 347.15
L 219.568182 191.75
" clip-path="url(#p7436707ee9)" style="fill: none; stroke: #e6e6e6; stroke-width: 0.6; stroke-linecap: square"/>
</g>
<g id="line2d_130">
<g>
<path d="M 0 0 L 0 1.5" transform="translate(219.568182 347.15)" style="fill: #333333; stroke: #333333; stroke-width: 0.5"/>
</g>
</g>
<g id="text_203">
<text style="font-size: 4.25px; font-family: 'DejaVu Sans', 'Liberation Sans', sans-serif; text-anchor: middle; stroke: #000000; stroke-width: 0.08px" x="219.568182" y="353.979336" transform="rotate(-0 219.568182 353.979336)">0</text>
</g>
</g>
<g id="xtick_26">
<g id="line2d_131">
<path d="M 247.840909 347.15
L 247.840909 191.75
" clip-path="url(#p7436707ee9)" style="fill: none; stroke: #e6e6e6; stroke-width: 0.6; stroke-linecap: square"/>
</g>
<g id="line2d_132">
<g>
<path d="M 0 0 L 0 1.5" transform="translate(247.840909 347.15)" style="fill: #333333; stroke: #333333; stroke-width: 0.5"/>
</g>
</g>
<g id="text_204">
<text style="font-size: 4.25px; font-family: 'DejaVu Sans', 'Liberation Sans', sans-serif; text-anchor: middle; stroke: #000000; stroke-width: 0.08px" x="247.840909" y="353.979336" transform="rotate(-0 247.840909 353.979336)">1000</text>
</g>
</g>
<g id="xtick_27">
<g id="line2d_133">
<path d="M 276.113636 347.15
L 276.113636 191.75
" clip-path="url(#p7436707ee9)" style="fill: none; stroke: #e6e6e6; stroke-width: 0.6; stroke-linecap: square"/>
</g>
<g id="line2d_134">
<g>
<path d="M 0 0 L 0 1.5" transform="translate(276.113636 347.15)" style="fill: #333333; stroke: #333333; stroke-width: 0.5"/>
</g>
</g>
<g id="text_205">
<text style="font-size: 4.25px; font-family: 'DejaVu Sans', 'Liberation Sans', sans-serif; text-anchor: middle; stroke: #000000; stroke-width: 0.08px" x="276.113636" y="353.979336" transform="rotate(-0 276.113636 353.979336)">2000</text>
</g>
</g>
<g id="xtick_28">
<g id="line2d_135">
<path d="M 304.386364 347.15
L 304.386364 191.75
" clip-path="url(#p7436707ee9)" style="fill: none; stroke: #e6e6e6; stroke-width: 0.6; stroke-linecap: square"/>
</g>
<g id="line2d_136">
<g>
<path d="M 0 0 L 0 1.5" transform="translate(304.386364 347.15)" style="fill: #333333; stroke: #333333; stroke-width: 0.5"/>
</g>
</g>
<g id="text_206">
<text style="font-size: 4.25px; font-family: 'DejaVu Sans', 'Liberation Sans', sans-serif; text-anchor: middle; stroke: #000000; stroke-width: 0.08px" x="304.386364" y="353.979336" transform="rotate(-0 304.386364 353.979336)">3000</text>
</g>
</g>
<g id="xtick_29">
<g id="line2d_137">
<path d="M 332.659091 347.15
L 332.659091 191.75
" clip-path="url(#p7436707ee9)" style="fill: none; stroke: #e6e6e6; stroke-width: 0.6; stroke-linecap: square"/>
</g>
<g id="line2d_138">
<g>
<path d="M 0 0 L 0 1.5" transform="translate(332.659091 347.15)" style="fill: #333333; stroke: #333333; stroke-width: 0.5"/>
</g>
</g>
<g id="text_207">
<text style="font-size: 4.25px; font-family: 'DejaVu Sans', 'Liberation Sans', sans-serif; text-anchor: middle; stroke: #000000; stroke-width: 0.08px" x="332.659091" y="353.979336" transform="rotate(-0 332.659091 353.979336)">4000</text>
</g>
</g>
<g id="xtick_30">
<g id="line2d_139">
<path d="M 360.931818 347.15
L 360.931818 191.75
" clip-path="url(#p7436707ee9)" style="fill: none; stroke: #e6e6e6; stroke-width: 0.6; stroke-linecap: square"/>
</g>
<g id="line2d_140">
<g>
<path d="M 0 0 L 0 1.5" transform="translate(360.931818 347.15)" style="fill: #333333; stroke: #333333; stroke-width: 0.5"/>
</g>
</g>
<g id="text_208">
<text style="font-size: 4.25px; font-family: 'DejaVu Sans', 'Liberation Sans', sans-serif; text-anchor: middle; stroke: #000000; stroke-width: 0.08px" x="360.931818" y="353.979336" transform="rotate(-0 360.931818 353.979336)">5000</text>
</g>
</g>
<g id="text_209">
<text style="font-size: 5.8px; font-family: 'DejaVu Sans', 'Liberation Sans', sans-serif; text-anchor: middle; stroke: #000000; stroke-width: 0.08px" x="290.25" y="360.170297" transform="rotate(-0 290.25 360.170297)">Receptor Density (nmol/l)</text>
</g>
</g>
<g id="matplotlib.axis_10">
<g id="ytick_27">
<g id="line2d_141">
<path d="M 212.5 327.68822
L 368 327.68822
" clip-path="url(#p7436707ee9)" style="fill: none; stroke: #e6e6e6; stroke-width: 0.6; stroke-linecap: square"/>
</g>
<g id="line2d_142">
<g>
<path d="M 0 0 L -1.5 0" transform="translate(212.5 327.68822)" style="fill: #333333; stroke: #333333; stroke-width: 0.5"/>
</g>
</g>
<g id="text_210">
<text style="font-size: 4.25px; font-family: 'DejaVu Sans', 'Liberation Sans', sans-serif; text-anchor: end; stroke: #000000; stroke-width: 0.08px" x="209.5" y="329.302888" transform="rotate(-0 209.5 329.302888)">4.20</text>
</g>
</g>
<g id="ytick_28">
<g id="line2d_143">
<path d="M 212.5 306.671179
L 368 306.671179
" clip-path="url(#p7436707ee9)" style="fill: none; stroke: #e6e6e6; stroke-width: 0.6; stroke-linecap: square"/>
</g>
<g id="line2d_144">
<g>
<path d="M 0 0 L -1.5 0" transform="translate(212.5 306.671179)" style="fill: #333333; stroke: #333333; stroke-width: 0.5"/>
</g>
</g>
<g id="text_211">
<text style="font-size: 4.25px; font-family: 'DejaVu Sans', 'Liberation Sans', sans-serif; text-anchor: end; stroke: #000000; stroke-width: 0.08px" x="209.5" y="308.285847" transform="rotate(-0 209.5 308.285847)">4.25</text>
</g>
</g>
<g id="ytick_29">
<g id="line2d_145">
<path d="M 212.5 285.654138
L 368 285.654138
" clip-path="url(#p7436707ee9)" style="fill: none; stroke: #e6e6e6; stroke-width: 0.6; stroke-linecap: square"/>
</g>
<g id="line2d_146">
<g>
<path d="M 0 0 L -1.5 0" transform="translate(212.5 285.654138)" style="fill: #333333; stroke: #333333; stroke-width: 0.5"/>
</g>
</g>
<g id="text_212">
<text style="font-size: 4.25px; font-family: 'DejaVu Sans', 'Liberation Sans', sans-serif; text-anchor: end; stroke: #000000; stroke-width: 0.08px" x="209.5" y="287.268806" transform="rotate(-0 209.5 287.268806)">4.30</text>
</g>
</g>
<g id="ytick_30">
<g id="line2d_147">
<path d="M 212.5 264.637098
L 368 264.637098
" clip-path="url(#p7436707ee9)" style="fill: none; stroke: #e6e6e6; stroke-width: 0.6; stroke-linecap: square"/>
</g>
<g id="line2d_148">
<g>
<path d="M 0 0 L -1.5 0" transform="translate(212.5 264.637098)" style="fill: #333333; stroke: #333333; stroke-width: 0.5"/>
</g>
</g>
<g id="text_213">
<text style="font-size: 4.25px; font-family: 'DejaVu Sans', 'Liberation Sans', sans-serif; text-anchor: end; stroke: #000000; stroke-width: 0.08px" x="209.5" y="266.251766" transform="rotate(-0 209.5 266.251766)">4.35</text>
</g>
</g>
<g id="ytick_31">
<g id="line2d_149">
<path d="M 212.5 243.620057
L 368 243.620057
" clip-path="url(#p7436707ee9)" style="fill: none; stroke: #e6e6e6; stroke-width: 0.6; stroke-linecap: square"/>
</g>
<g id="line2d_150">
<g>
<path d="M 0 0 L -1.5 0" transform="translate(212.5 243.620057)" style="fill: #333333; stroke: #333333; stroke-width: 0.5"/>
</g>
</g>
<g id="text_214">
<text style="font-size: 4.25px; font-family: 'DejaVu Sans', 'Liberation Sans', sans-serif; text-anchor: end; stroke: #000000; stroke-width: 0.08px" x="209.5" y="245.234725" transform="rotate(-0 209.5 245.234725)">4.40</text>
</g>
</g>
<g id="ytick_32">
<g id="line2d_151">
<path d="M 212.5 222.603016
L 368 222.603016
" clip-path="url(#p7436707ee9)" style="fill: none; stroke: #e6e6e6; stroke-width: 0.6; stroke-linecap: square"/>
</g>
<g id="line2d_152">
<g>
<path d="M 0 0 L -1.5 0" transform="translate(212.5 222.603016)" style="fill: #333333; stroke: #333333; stroke-width: 0.5"/>
</g>
</g>
<g id="text_215">
<text style="font-size: 4.25px; font-family: 'DejaVu Sans', 'Liberation Sans', sans-serif; text-anchor: end; stroke: #000000; stroke-width: 0.08px" x="209.5" y="224.217684" transform="rotate(-0 209.5 224.217684)">4.45</text>
</g>
</g>
<g id="ytick_33">
<g id="line2d_153">
<path d="M 212.5 201.585975
L 368 201.585975
" clip-path="url(#p7436707ee9)" style="fill: none; stroke: #e6e6e6; stroke-width: 0.6; stroke-linecap: square"/>
</g>
<g id="line2d_154">
<g>
<path d="M 0 0 L -1.5 0" transform="translate(212.5 201.585975)" style="fill: #333333; stroke: #333333; stroke-width: 0.5"/>
</g>
</g>
<g id="text_216">
<text style="font-size: 4.25px; font-family: 'DejaVu Sans', 'Liberation Sans', sans-serif; text-anchor: end; stroke: #000000; stroke-width: 0.08px" x="209.5" y="203.200643" transform="rotate(-0 209.5 203.200643)">4.50</text>
</g>
</g>
<g id="text_217">
<text style="font-weight: 700; font-size: 5.7px; font-family: 'DejaVu Sans', 'Liberation Sans', sans-serif; text-anchor: middle; stroke: #000000; stroke-width: 0.08px" x="197.307156" y="269.45" transform="rotate(-90 197.307156 269.45)">BED (Gy)</text>
</g>
</g>
<g id="text_218">
<text style="font-size: 3px; font-family: 'DejaVu Sans', 'Liberation Sans', sans-serif; text-anchor: start; fill: #800080; stroke: #800080; stroke-width: 0.1px" x="219.296455" y="227.634237" transform="rotate(-0 219.296455 227.634237)">4.4</text>
</g>
<g id="text_219">
<text style="font-size: 3px; font-family: 'DejaVu Sans', 'Liberation Sans', sans-serif; text-anchor: start; fill: #800080; stroke: #800080; stroke-width: 0.1px" x="219.409545" y="228.53881" transform="rotate(-0 219.409545 228.53881)">4.4</text>
</g>
<g id="text_220">
<text style="font-size: 3px; font-family: 'DejaVu Sans', 'Liberation Sans', sans-serif; text-anchor: start; fill: #800080; stroke: #800080; stroke-width: 0.1px" x="219.550909" y="229.443384" transform="rotate(-0 219.550909 229.443384)">4.4</text>
</g>
<g id="text_221">
<text style="font-size: 3px; font-family: 'DejaVu Sans', 'Liberation Sans', sans-serif; text-anchor: start; fill: #800080; stroke: #800080; stroke-width: 0.1px" x="220.681818" y="236.679971" transform="rotate(-0 220.681818 236.679971)">4.4</text>
</g>
<g id="text_222">
<text style="font-size: 3px; font-family: 'DejaVu Sans', 'Liberation Sans', sans-serif; text-anchor: start; fill: #800080; stroke: #800080; stroke-width: 0.1px" x="222.095455" y="245.725705" transform="rotate(-0 222.095455 245.725705)">4.4</text>
</g>
<g id="text_223">
<text style="font-size: 3px; font-family: 'DejaVu Sans', 'Liberation Sans', sans-serif; text-anchor: start; fill: #800080; stroke: #800080; stroke-width: 0.1px" x="233.404545" y="299.092175" transform="rotate(-0 233.404545 299.092175)">4.3</text>
</g>
<g id="text_224">
<text style="font-size: 3px; font-family: 'DejaVu Sans', 'Liberation Sans', sans-serif; text-anchor: start; fill: #800080; stroke: #800080; stroke-width: 0.1px" x="247.540909" y="319.268535" transform="rotate(-0 247.540909 319.268535)">4.2</text>
</g>
<g id="text_225">
<text style="font-size: 3px; font-family: 'DejaVu Sans', 'Liberation Sans', sans-serif; text-anchor: start; fill: #800080; stroke: #800080; stroke-width: 0.1px" x="275.813636" y="332.719441" transform="rotate(-0 275.813636 332.719441)">4.2</text>
</g>
<g id="text_226">
<text style="font-size: 3px; font-family: 'DejaVu Sans', 'Liberation Sans', sans-serif; text-anchor: start; fill: #800080; stroke: #800080; stroke-width: 0.1px" x="360.631818" y="340.705916" transform="rotate(-0 360.631818 340.705916)">4.2</text>
</g>
<g id="text_227">
<text style="font-size: 3px; font-family: 'DejaVu Sans', 'Liberation Sans', sans-serif; text-anchor: start; fill: #ffa500; stroke: #ffa500; stroke-width: 0.1px" x="219.296455" y="224.27151" transform="rotate(-0 219.296455 224.27151)">4.4</text>
</g>
<g id="text_228">
<text style="font-size: 3px; font-family: 'DejaVu Sans', 'Liberation Sans', sans-serif; text-anchor: start; fill: #ffa500; stroke: #ffa500; stroke-width: 0.1px" x="219.409545" y="225.186172" transform="rotate(-0 219.409545 225.186172)">4.4</text>
</g>
<g id="text_229">
<text style="font-size: 3px; font-family: 'DejaVu Sans', 'Liberation Sans', sans-serif; text-anchor: start; fill: #ffa500; stroke: #ffa500; stroke-width: 0.1px" x="219.550909" y="226.100833" transform="rotate(-0 219.550909 226.100833)">4.4</text>
</g>
<g id="text_230">
<text style="font-size: 3px; font-family: 'DejaVu Sans', 'Liberation Sans', sans-serif; text-anchor: start; fill: #ffa500; stroke: #ffa500; stroke-width: 0.1px" x="220.681818" y="233.418126" transform="rotate(-0 220.681818 233.418126)">4.4</text>
</g>
<g id="text_231">
<text style="font-size: 3px; font-family: 'DejaVu Sans', 'Liberation Sans', sans-serif; text-anchor: start; fill: #ffa500; stroke: #ffa500; stroke-width: 0.1px" x="222.095455" y="242.564742" transform="rotate(-0 222.095455 242.564742)">4.4</text>
</g>
<g id="text_232">
<text style="font-size: 3px; font-family: 'DejaVu Sans', 'Liberation Sans', sans-serif; text-anchor: start; fill: #ffa500; stroke: #ffa500; stroke-width: 0.1px" x="233.404545" y="296.570131" transform="rotate(-0 233.404545 296.570131)">4.3</text>
</g>
<g id="text_233">
<text style="font-size: 3px; font-family: 'DejaVu Sans', 'Liberation Sans', sans-serif; text-anchor: start; fill: #ffa500; stroke: #ffa500; stroke-width: 0.1px" x="247.540909" y="317.166831" transform="rotate(-0 247.540909 317.166831)">4.2</text>
</g>
<g id="text_234">
<text style="font-size: 3px; font-family: 'DejaVu Sans', 'Liberation Sans', sans-serif; text-anchor: start; fill: #ffa500; stroke: #ffa500; stroke-width: 0.1px" x="275.813636" y="331.038078" transform="rotate(-0 275.813636 331.038078)">4.2</text>
</g>
<g id="text_235">
<text style="font-size: 3px; font-family: 'DejaVu Sans', 'Liberation Sans', sans-serif; text-anchor: start; fill: #ffa500; stroke: #ffa500; stroke-width: 0.1px" x="360.631818" y="338.604212" transform="rotate(-0 360.631818 338.604212)">4.2</text>
</g>
<g id="text_236">
<text style="font-size: 3px; font-family: 'DejaVu Sans', 'Liberation Sans', sans-serif; text-anchor: start; fill: #00ffff; stroke: #00ffff; stroke-width: 0.1px" x="219.296455" y="209.559582" transform="rotate(-0 219.296455 209.559582)">4.5</text>
</g>
<g id="text_237">
<text style="font-size: 3px; font-family: 'DejaVu Sans', 'Liberation Sans', sans-serif; text-anchor: start; fill: #00ffff; stroke: #00ffff; stroke-width: 0.1px" x="219.409545" y="210.480969" transform="rotate(-0 219.409545 210.480969)">4.5</text>
</g>
<g id="text_238">
<text style="font-size: 3px; font-family: 'DejaVu Sans', 'Liberation Sans', sans-serif; text-anchor: start; fill: #00ffff; stroke: #00ffff; stroke-width: 0.1px" x="219.550909" y="211.402356" transform="rotate(-0 219.550909 211.402356)">4.5</text>
</g>
<g id="text_239">
<text style="font-size: 3px; font-family: 'DejaVu Sans', 'Liberation Sans', sans-serif; text-anchor: start; fill: #00ffff; stroke: #00ffff; stroke-width: 0.1px" x="220.681818" y="218.773452" transform="rotate(-0 220.681818 218.773452)">4.5</text>
</g>
<g id="text_240">
<text style="font-size: 3px; font-family: 'DejaVu Sans', 'Liberation Sans', sans-serif; text-anchor: start; fill: #00ffff; stroke: #00ffff; stroke-width: 0.1px" x="222.095455" y="227.987323" transform="rotate(-0 222.095455 227.987323)">4.4</text>
</g>
<g id="text_241">
<text style="font-size: 3px; font-family: 'DejaVu Sans', 'Liberation Sans', sans-serif; text-anchor: start; fill: #00ffff; stroke: #00ffff; stroke-width: 0.1px" x="233.404545" y="282.278543" transform="rotate(-0 233.404545 282.278543)">4.3</text>
</g>
<g id="text_242">
<text style="font-size: 3px; font-family: 'DejaVu Sans', 'Liberation Sans', sans-serif; text-anchor: start; fill: #00ffff; stroke: #00ffff; stroke-width: 0.1px" x="247.540909" y="302.875243" transform="rotate(-0 247.540909 302.875243)">4.3</text>
</g>
<g id="text_243">
<text style="font-size: 3px; font-family: 'DejaVu Sans', 'Liberation Sans', sans-serif; text-anchor: start; fill: #00ffff; stroke: #00ffff; stroke-width: 0.1px" x="275.813636" y="316.326149" transform="rotate(-0 275.813636 316.326149)">4.2</text>
</g>
<g id="text_244">
<text style="font-size: 3px; font-family: 'DejaVu Sans', 'Liberation Sans', sans-serif; text-anchor: start; fill: #00ffff; stroke: #00ffff; stroke-width: 0.1px" x="360.631818" y="324.732965" transform="rotate(-0 360.631818 324.732965)">4.2</text>
</g>
<g id="text_245">
<text style="font-size: 3px; font-family: 'DejaVu Sans', 'Liberation Sans', sans-serif; text-anchor: start; fill: #ff00ff; stroke: #ff00ff; stroke-width: 0.1px" x="219.296455" y="199.891743" transform="rotate(-0 219.296455 199.891743)">4.5</text>
</g>
<g id="text_246">
<text style="font-size: 3px; font-family: 'DejaVu Sans', 'Liberation Sans', sans-serif; text-anchor: start; fill: #ff00ff; stroke: #ff00ff; stroke-width: 0.1px" x="219.409545" y="200.816493" transform="rotate(-0 219.409545 200.816493)">4.5</text>
</g>
<g id="text_247">
<text style="font-size: 3px; font-family: 'DejaVu Sans', 'Liberation Sans', sans-serif; text-anchor: start; fill: #ff00ff; stroke: #ff00ff; stroke-width: 0.1px" x="219.550909" y="201.741242" transform="rotate(-0 219.550909 201.741242)">4.5</text>
</g>
<g id="text_248">
<text style="font-size: 3px; font-family: 'DejaVu Sans', 'Liberation Sans', sans-serif; text-anchor: start; fill: #ff00ff; stroke: #ff00ff; stroke-width: 0.1px" x="220.681818" y="209.139241" transform="rotate(-0 220.681818 209.139241)">4.5</text>
</g>
<g id="text_249">
<text style="font-size: 3px; font-family: 'DejaVu Sans', 'Liberation Sans', sans-serif; text-anchor: start; fill: #ff00ff; stroke: #ff00ff; stroke-width: 0.1px" x="222.095455" y="218.386739" transform="rotate(-0 222.095455 218.386739)">4.5</text>
</g>
<g id="text_250">
<text style="font-size: 3px; font-family: 'DejaVu Sans', 'Liberation Sans', sans-serif; text-anchor: start; fill: #ff00ff; stroke: #ff00ff; stroke-width: 0.1px" x="233.404545" y="273.871726" transform="rotate(-0 233.404545 273.871726)">4.3</text>
</g>
<g id="text_251">
<text style="font-size: 3px; font-family: 'DejaVu Sans', 'Liberation Sans', sans-serif; text-anchor: start; fill: #ff00ff; stroke: #ff00ff; stroke-width: 0.1px" x="247.540909" y="293.627745" transform="rotate(-0 247.540909 293.627745)">4.3</text>
</g>
<g id="text_252">
<text style="font-size: 3px; font-family: 'DejaVu Sans', 'Liberation Sans', sans-serif; text-anchor: start; fill: #ff00ff; stroke: #ff00ff; stroke-width: 0.1px" x="275.813636" y="306.65831" transform="rotate(-0 275.813636 306.65831)">4.3</text>
</g>
<g id="text_253">
<text style="font-size: 3px; font-family: 'DejaVu Sans', 'Liberation Sans', sans-serif; text-anchor: start; fill: #ff00ff; stroke: #ff00ff; stroke-width: 0.1px" x="360.631818" y="315.485467" transform="rotate(-0 360.631818 315.485467)">4.2</text>
</g>
<g id="line2d_155">
<path d="M 219.596455 226.806424
L 219.709545 227.710998
L 219.850909 228.615571
L 220.981818 235.852159
L 222.395455 244.897893
L 233.704545 298.264363
L 247.840909 318.440722
L 276.113636 331.891628
L 360.931818 339.878104
" clip-path="url(#p7436707ee9)" style="fill: none; stroke: #800080; stroke-opacity: 0.9; stroke-width: 1.35; stroke-linecap: square"/>
<g clip-path="url(#p7436707ee9)">
<path d="M 0 1.3 C 0.344764 1.3 0.675454 1.163024 0.919239 0.919239 C 1.163024 0.675454 1.3 0.344764 1.3 0 C 1.3 -0.344764 1.163024 -0.675454 0.919239 -0.919239 C 0.675454 -1.163024 0.344764 -1.3 0 -1.3 C -0.344764 -1.3 -0.675454 -1.163024 -0.919239 -0.919239 C -1.163024 -0.675454 -1.3 -0.344764 -1.3 0 C -1.3 0.344764 -1.163024 0.675454 -0.919239 0.919239 C -0.675454 1.163024 -0.344764 1.3 0 1.3 z" transform="translate(219.596455 226.806424)" style="fill: #800080; fill-opacity: 0.9; stroke: #800080; stroke-opacity: 0.9"/>
<path d="M 0 1.3 C 0.344764 1.3 0.675454 1.163024 0.919239 0.919239 C 1.163024 0.675454 1.3 0.344764 1.3 0 C 1.3 -0.344764 1.163024 -0.675454 0.919239 -0.919239 C 0.675454 -1.163024 0.344764 -1.3 0 -1.3 C -0.344764 -1.3 -0.675454 -1.163024 -0.919239 -0.919239 C -1.163024 -0.675454 -1.3 -0.344764 -1.3 0 C -1.3 0.344764 -1.163024 0.675454 -0.919239 0.919239 C -0.675454 1.163024 -0.344764 1.3 0 1.3 z" transform="translate(219.709545 227.710998)" style="fill: #800080; fill-opacity: 0.9; stroke: #800080; stroke-opacity: 0.9"/>
<path d="M 0 1.3 C 0.344764 1.3 0.675454 1.163024 0.919239 0.919239 C 1.163024 0.675454 1.3 0.344764 1.3 0 C 1.3 -0.344764 1.163024 -0.675454 0.919239 -0.919239 C 0.675454 -1.163024 0.344764 -1.3 0 -1.3 C -0.344764 -1.3 -0.675454 -1.163024 -0.919239 -0.919239 C -1.163024 -0.675454 -1.3 -0.344764 -1.3 0 C -1.3 0.344764 -1.163024 0.675454 -0.919239 0.919239 C -0.675454 1.163024 -0.344764 1.3 0 1.3 z" transform="translate(219.850909 228.615571)" style="fill: #800080; fill-opacity: 0.9; stroke: #800080; stroke-opacity: 0.9"/>
<path d="M 0 1.3 C 0.344764 1.3 0.675454 1.163024 0.919239 0.919239 C 1.163024 0.675454 1.3 0.344764 1.3 0 C 1.3 -0.344764 1.163024 -0.675454 0.919239 -0.919239 C 0.675454 -1.163024 0.344764 -1.3 0 -1.3 C -0.344764 -1.3 -0.675454 -1.163024 -0.919239 -0.919239 C -1.163024 -0.675454 -1.3 -0.344764 -1.3 0 C -1.3 0.344764 -1.163024 0.675454 -0.919239 0.919239 C -0.675454 1.163024 -0.344764 1.3 0 1.3 z" transform="translate(220.981818 235.852159)" style="fill: #800080; fill-opacity: 0.9; stroke: #800080; stroke-opacity: 0.9"/>
<path d="M 0 1.3 C 0.344764 1.3 0.675454 1.163024 0.919239 0.919239 C 1.163024 0.675454 1.3 0.344764 1.3 0 C 1.3 -0.344764 1.163024 -0.675454 0.919239 -0.919239 C 0.675454 -1.163024 0.344764 -1.3 0 -1.3 C -0.344764 -1.3 -0.675454 -1.163024 -0.919239 -0.919239 C -1.163024 -0.675454 -1.3 -0.344764 -1.3 0 C -1.3 0.344764 -1.163024 0.675454 -0.919239 0.919239 C -0.675454 1.163024 -0.344764 1.3 0 1.3 z" transform="translate(222.395455 244.897893)" style="fill: #800080; fill-opacity: 0.9; stroke: #800080; stroke-opacity: 0.9"/>
<path d="M 0 1.3 C 0.344764 1.3 0.675454 1.163024 0.919239 0.919239 C 1.163024 0.675454 1.3 0.344764 1.3 0 C 1.3 -0.344764 1.163024 -0.675454 0.919239 -0.919239 C 0.675454 -1.163024 0.344764 -1.3 0 -1.3 C -0.344764 -1.3 -0.675454 -1.163024 -0.919239 -0.919239 C -1.163024 -0.675454 -1.3 -0.344764 -1.3 0 C -1.3 0.344764 -1.163024 0.675454 -0.919239 0.919239 C -0.675454 1.163024 -0.344764 1.3 0 1.3 z" transform="translate(233.704545 298.264363)" style="fill: #800080; fill-opacity: 0.9; stroke: #800080; stroke-opacity: 0.9"/>
<path d="M 0 1.3 C 0.344764 1.3 0.675454 1.163024 0.919239 0.919239 C 1.163024 0.675454 1.3 0.344764 1.3 0 C 1.3 -0.344764 1.163024 -0.675454 0.919239 -0.919239 C 0.675454 -1.163024 0.344764 -1.3 0 -1.3 C -0.344764 -1.3 -0.675454 -1.163024 -0.919239 -0.919239 C -1.163024 -0.675454 -1.3 -0.344764 -1.3 0 C -1.3 0.344764 -1.163024 0.675454 -0.919239 0.919239 C -0.675454 1.163024 -0.344764 1.3 0 1.3 z" transform="translate(247.840909 318.440722)" style="fill: #800080; fill-opacity: 0.9; stroke: #800080; stroke-opacity: 0.9"/>
<path d="M 0 1.3 C 0.344764 1.3 0.675454 1.163024 0.919239 0.919239 C 1.163024 0.675454 1.3 0.344764 1.3 0 C 1.3 -0.344764 1.163024 -0.675454 0.919239 -0.919239 C 0.675454 -1.163024 0.344764 -1.3 0 -1.3 C -0.344764 -1.3 -0.675454 -1.163024 -0.919239 -0.919239 C -1.163024 -0.675454 -1.3 -0.344764 -1.3 0 C -1.3 0.344764 -1.163024 0.675454 -0.919239 0.919239 C -0.675454 1.163024 -0.344764 1.3 0 1.3 z" transform="translate(276.113636 331.891628)" style="fill: #800080; fill-opacity: 0.9; stroke: #800080; stroke-opacity: 0.9"/>
<path d="M 0 1.3 C 0.344764 1.3 0.675454 1.163024 0.919239 0.919239 C 1.163024 0.675454 1.3 0.344764 1.3 0 C 1.3 -0.344764 1.163024 -0.675454 0.919239 -0.919239 C 0.675454 -1.163024 0.344764 -1.3 0 -1.3 C -0.344764 -1.3 -0.675454 -1.163024 -0.919239 -0.919239 C -1.163024 -0.675454 -1.3 -0.344764 -1.3 0 C -1.3 0.344764 -1.163024 0.675454 -0.919239 0.919239 C -0.675454 1.163024 -0.344764 1.3 0 1.3 z" transform="translate(360.931818 339.878104)" style="fill: #800080; fill-opacity: 0.9; stroke: #800080; stroke-opacity: 0.9"/>
</g>
</g>
<g id="line2d_156">
<path d="M 219.596455 223.443698
L 219.709545 224.358359
L 219.850909 225.273021
L 220.981818 232.590314
L 222.395455 241.73693
L 233.704545 295.742318
L 247.840909 316.339018
L 276.113636 330.210265
L 360.931818 337.7764
" clip-path="url(#p7436707ee9)" style="fill: none; stroke: #ffa500; stroke-opacity: 0.9; stroke-width: 1.35; stroke-linecap: square"/>
<g clip-path="url(#p7436707ee9)">
<path d="M -1.3 1.3 L 1.3 1.3 L 1.3 -1.3 L -1.3 -1.3 z" transform="translate(219.596455 223.443698)" style="fill: #ffa500; fill-opacity: 0.9; stroke: #ffa500; stroke-opacity: 0.9; stroke-linejoin: miter"/>
<path d="M -1.3 1.3 L 1.3 1.3 L 1.3 -1.3 L -1.3 -1.3 z" transform="translate(219.709545 224.358359)" style="fill: #ffa500; fill-opacity: 0.9; stroke: #ffa500; stroke-opacity: 0.9; stroke-linejoin: miter"/>
<path d="M -1.3 1.3 L 1.3 1.3 L 1.3 -1.3 L -1.3 -1.3 z" transform="translate(219.850909 225.273021)" style="fill: #ffa500; fill-opacity: 0.9; stroke: #ffa500; stroke-opacity: 0.9; stroke-linejoin: miter"/>
<path d="M -1.3 1.3 L 1.3 1.3 L 1.3 -1.3 L -1.3 -1.3 z" transform="translate(220.981818 232.590314)" style="fill: #ffa500; fill-opacity: 0.9; stroke: #ffa500; stroke-opacity: 0.9; stroke-linejoin: miter"/>
<path d="M -1.3 1.3 L 1.3 1.3 L 1.3 -1.3 L -1.3 -1.3 z" transform="translate(222.395455 241.73693)" style="fill: #ffa500; fill-opacity: 0.9; stroke: #ffa500; stroke-opacity: 0.9; stroke-linejoin: miter"/>
<path d="M -1.3 1.3 L 1.3 1.3 L 1.3 -1.3 L -1.3 -1.3 z" transform="translate(233.704545 295.742318)" style="fill: #ffa500; fill-opacity: 0.9; stroke: #ffa500; stroke-opacity: 0.9; stroke-linejoin: miter"/>
<path d="M -1.3 1.3 L 1.3 1.3 L 1.3 -1.3 L -1.3 -1.3 z" transform="translate(247.840909 316.339018)" style="fill: #ffa500; fill-opacity: 0.9; stroke: #ffa500; stroke-opacity: 0.9; stroke-linejoin: miter"/>
<path d="M -1.3 1.3 L 1.3 1.3 L 1.3 -1.3 L -1.3 -1.3 z" transform="translate(276.113636 330.210265)" style="fill: #ffa500; fill-opacity: 0.9; stroke: #ffa500; stroke-opacity: 0.9; stroke-linejoin: miter"/>
<path d="M -1.3 1.3 L 1.3 1.3 L 1.3 -1.3 L -1.3 -1.3 z" transform="translate(360.931818 337.7764)" style="fill: #ffa500; fill-opacity: 0.9; stroke: #ffa500; stroke-opacity: 0.9; stroke-linejoin: miter"/>
</g>
</g>
<g id="line2d_157">
<path d="M 219.596455 208.731769
L 219.709545 209.653156
L 219.850909 210.574543
L 220.981818 217.94564
L 222.395455 227.15951
L 233.704545 281.45073
L 247.840909 302.04743
L 276.113636 315.498336
L 360.931818 323.905153
" clip-path="url(#p7436707ee9)" style="fill: none; stroke: #00ffff; stroke-opacity: 0.9; stroke-width: 1.35; stroke-linecap: square"/>
<g clip-path="url(#p7436707ee9)">
<path d="M -0.433333 1.3 L 0.433333 1.3 L 0.433333 0.433333 L 1.3 0.433333 L 1.3 -0.433333 L 0.433333 -0.433333 L 0.433333 -1.3 L -0.433333 -1.3 L -0.433333 -0.433333 L -1.3 -0.433333 L -1.3 0.433333 L -0.433333 0.433333 z" transform="translate(219.596455 208.731769)" style="fill: #00ffff; fill-opacity: 0.9; stroke: #00ffff; stroke-opacity: 0.9; stroke-linejoin: miter"/>
<path d="M -0.433333 1.3 L 0.433333 1.3 L 0.433333 0.433333 L 1.3 0.433333 L 1.3 -0.433333 L 0.433333 -0.433333 L 0.433333 -1.3 L -0.433333 -1.3 L -0.433333 -0.433333 L -1.3 -0.433333 L -1.3 0.433333 L -0.433333 0.433333 z" transform="translate(219.709545 209.653156)" style="fill: #00ffff; fill-opacity: 0.9; stroke: #00ffff; stroke-opacity: 0.9; stroke-linejoin: miter"/>
<path d="M -0.433333 1.3 L 0.433333 1.3 L 0.433333 0.433333 L 1.3 0.433333 L 1.3 -0.433333 L 0.433333 -0.433333 L 0.433333 -1.3 L -0.433333 -1.3 L -0.433333 -0.433333 L -1.3 -0.433333 L -1.3 0.433333 L -0.433333 0.433333 z" transform="translate(219.850909 210.574543)" style="fill: #00ffff; fill-opacity: 0.9; stroke: #00ffff; stroke-opacity: 0.9; stroke-linejoin: miter"/>
<path d="M -0.433333 1.3 L 0.433333 1.3 L 0.433333 0.433333 L 1.3 0.433333 L 1.3 -0.433333 L 0.433333 -0.433333 L 0.433333 -1.3 L -0.433333 -1.3 L -0.433333 -0.433333 L -1.3 -0.433333 L -1.3 0.433333 L -0.433333 0.433333 z" transform="translate(220.981818 217.94564)" style="fill: #00ffff; fill-opacity: 0.9; stroke: #00ffff; stroke-opacity: 0.9; stroke-linejoin: miter"/>
<path d="M -0.433333 1.3 L 0.433333 1.3 L 0.433333 0.433333 L 1.3 0.433333 L 1.3 -0.433333 L 0.433333 -0.433333 L 0.433333 -1.3 L -0.433333 -1.3 L -0.433333 -0.433333 L -1.3 -0.433333 L -1.3 0.433333 L -0.433333 0.433333 z" transform="translate(222.395455 227.15951)" style="fill: #00ffff; fill-opacity: 0.9; stroke: #00ffff; stroke-opacity: 0.9; stroke-linejoin: miter"/>
<path d="M -0.433333 1.3 L 0.433333 1.3 L 0.433333 0.433333 L 1.3 0.433333 L 1.3 -0.433333 L 0.433333 -0.433333 L 0.433333 -1.3 L -0.433333 -1.3 L -0.433333 -0.433333 L -1.3 -0.433333 L -1.3 0.433333 L -0.433333 0.433333 z" transform="translate(233.704545 281.45073)" style="fill: #00ffff; fill-opacity: 0.9; stroke: #00ffff; stroke-opacity: 0.9; stroke-linejoin: miter"/>
<path d="M -0.433333 1.3 L 0.433333 1.3 L 0.433333 0.433333 L 1.3 0.433333 L 1.3 -0.433333 L 0.433333 -0.433333 L 0.433333 -1.3 L -0.433333 -1.3 L -0.433333 -0.433333 L -1.3 -0.433333 L -1.3 0.433333 L -0.433333 0.433333 z" transform="translate(247.840909 302.04743)" style="fill: #00ffff; fill-opacity: 0.9; stroke: #00ffff; stroke-opacity: 0.9; stroke-linejoin: miter"/>
<path d="M -0.433333 1.3 L 0.433333 1.3 L 0.433333 0.433333 L 1.3 0.433333 L 1.3 -0.433333 L 0.433333 -0.433333 L 0.433333 -1.3 L -0.433333 -1.3 L -0.433333 -0.433333 L -1.3 -0.433333 L -1.3 0.433333 L -0.433333 0.433333 z" transform="translate(276.113636 315.498336)" style="fill: #00ffff; fill-opacity: 0.9; stroke: #00ffff; stroke-opacity: 0.9; stroke-linejoin: miter"/>
<path d="M -0.433333 1.3 L 0.433333 1.3 L 0.433333 0.433333 L 1.3 0.433333 L 1.3 -0.433333 L 0.433333 -0.433333 L 0.433333 -1.3 L -0.433333 -1.3 L -0.433333 -0.433333 L -1.3 -0.433333 L -1.3 0.433333 L -0.433333 0.433333 z" transform="translate(360.931818 323.905153)" style="fill: #00ffff; fill-opacity: 0.9; stroke: #00ffff; stroke-opacity: 0.9; stroke-linejoin: miter"/>
</g>
</g>
<g id="line2d_158">
<path d="M 219.596455 199.06393
L 219.709545 199.98868
L 219.850909 200.91343
L 220.981818 208.311428
L 222.395455 217.558926
L 233.704545 273.043914
L 247.840909 292.799932
L 276.113636 305.830498
L 360.931818 314.657655
" clip-path="url(#p7436707ee9)" style="fill: none; stroke: #ff00ff; stroke-opacity: 0.9; stroke-width: 1.35; stroke-linecap: square"/>
<g clip-path="url(#p7436707ee9)">
<path d="M -0 1.3 L 1.3 -1.3 L -1.3 -1.3 z" transform="translate(219.596455 199.06393)" style="fill: #ff00ff; fill-opacity: 0.9; stroke: #ff00ff; stroke-opacity: 0.9; stroke-linejoin: miter"/>
<path d="M -0 1.3 L 1.3 -1.3 L -1.3 -1.3 z" transform="translate(219.709545 199.98868)" style="fill: #ff00ff; fill-opacity: 0.9; stroke: #ff00ff; stroke-opacity: 0.9; stroke-linejoin: miter"/>
<path d="M -0 1.3 L 1.3 -1.3 L -1.3 -1.3 z" transform="translate(219.850909 200.91343)" style="fill: #ff00ff; fill-opacity: 0.9; stroke: #ff00ff; stroke-opacity: 0.9; stroke-linejoin: miter"/>
<path d="M -0 1.3 L 1.3 -1.3 L -1.3 -1.3 z" transform="translate(220.981818 208.311428)" style="fill: #ff00ff; fill-opacity: 0.9; stroke: #ff00ff; stroke-opacity: 0.9; stroke-linejoin: miter"/>
<path d="M -0 1.3 L 1.3 -1.3 L -1.3 -1.3 z" transform="translate(222.395455 217.558926)" style="fill: #ff00ff; fill-opacity: 0.9; stroke: #ff00ff; stroke-opacity: 0.9; stroke-linejoin: miter"/>
<path d="M -0 1.3 L 1.3 -1.3 L -1.3 -1.3 z" transform="translate(233.704545 273.043914)" style="fill: #ff00ff; fill-opacity: 0.9; stroke: #ff00ff; stroke-opacity: 0.9; stroke-linejoin: miter"/>
<path d="M -0 1.3 L 1.3 -1.3 L -1.3 -1.3 z" transform="translate(247.840909 292.799932)" style="fill: #ff00ff; fill-opacity: 0.9; stroke: #ff00ff; stroke-opacity: 0.9; stroke-linejoin: miter"/>
<path d="M -0 1.3 L 1.3 -1.3 L -1.3 -1.3 z" transform="translate(276.113636 305.830498)" style="fill: #ff00ff; fill-opacity: 0.9; stroke: #ff00ff; stroke-opacity: 0.9; stroke-linejoin: miter"/>
<path d="M -0 1.3 L 1.3 -1.3 L -1.3 -1.3 z" transform="translate(360.931818 314.657655)" style="fill: #ff00ff; fill-opacity: 0.9; stroke: #ff00ff; stroke-opacity: 0.9; stroke-linejoin: miter"/>
</g>
</g>
<g id="patch_27">
<path d="M 212.5 347.15
L 212.5 191.75
" style="fill: none; stroke: #828282; stroke-linejoin: miter; stroke-linecap: square"/>
</g>
<g id="patch_28">
<path d="M 368 347.15
L 368 191.75
" style="fill: none; stroke: #828282; stroke-linejoin: miter; stroke-linecap: square"/>
</g>
<g id="patch_29">
<path d="M 212.5 347.15
L 368 347.15
" style="fill: none; stroke: #828282; stroke-linejoin: miter; stroke-linecap: square"/>
</g>
<g id="patch_30">
<path d="M 212.5 191.75
L 368 191.75
" style="fill: none; stroke: #828282; stroke-linejoin: miter; stroke-linecap: square"/>
</g>
<g id="text_254">
<text style="font-weight: 700; font-size: 6.6px; font-family: 'DejaVu Sans', 'Liberation Sans', sans-serif; text-anchor: middle; stroke: #000000; stroke-width: 0.08px" x="290.25" y="189.35" transform="rotate(-0 290.25 189.35)">Salivary gland BEDs</text>
</g>
<g id="legend_5">
<g id="patch_31">
<path d="M 331.985937 226.0625
L 364.5 226.0625
Q 365.5 226.0625 365.5 225.0625
L 365.5 195.25
Q 365.5 194.25 364.5 194.25
L 331.985937 194.25
Q 330.985937 194.25 330.985937 195.25
L 330.985937 225.0625
Q 330.985937 226.0625 331.985937 226.0625
z
" style="fill: #ffffff; opacity: 0.8; stroke: #cccccc; stroke-width: 0.4; stroke-linejoin: miter"/>
</g>
<g id="line2d_159">
<path d="M 333.185937 198.499219
L 338.185937 198.499219
L 343.185937 198.499219
" style="fill: none; stroke: #800080; stroke-opacity: 0.9; stroke-width: 1.35; stroke-linecap: square"/>
<g>
<path d="M 0 1.3 C 0.344764 1.3 0.675454 1.163024 0.919239 0.919239 C 1.163024 0.675454 1.3 0.344764 1.3 0 C 1.3 -0.344764 1.163024 -0.675454 0.919239 -0.919239 C 0.675454 -1.163024 0.344764 -1.3 0 -1.3 C -0.344764 -1.3 -0.675454 -1.163024 -0.919239 -0.919239 C -1.163024 -0.675454 -1.3 -0.344764 -1.3 0 C -1.3 0.344764 -1.163024 0.675454 -0.919239 0.919239 C -0.675454 1.163024 -0.344764 1.3 0 1.3 z" transform="translate(338.185937 198.499219)" style="fill: #800080; fill-opacity: 0.9; stroke: #800080; stroke-opacity: 0.9"/>
</g>
</g>
<g id="text_255">
<text style="font-size: 5px; font-family: 'DejaVu Sans', 'Liberation Sans', sans-serif; text-anchor: start; stroke: #000000; stroke-width: 0.08px" x="347.185937" y="200.249219" transform="rotate(-0 347.185937 200.249219)">BED_a</text>
</g>
<g id="line2d_160">
<path d="M 333.185937 205.977344
L 338.185937 205.977344
L 343.185937 205.977344
" style="fill: none; stroke: #ffa500; stroke-opacity: 0.9; stroke-width: 1.35; stroke-linecap: square"/>
<g>
<path d="M -1.3 1.3 L 1.3 1.3 L 1.3 -1.3 L -1.3 -1.3 z" transform="translate(338.185937 205.977344)" style="fill: #ffa500; fill-opacity: 0.9; stroke: #ffa500; stroke-opacity: 0.9; stroke-linejoin: miter"/>
</g>
</g>
<g id="text_256">
<text style="font-size: 5px; font-family: 'DejaVu Sans', 'Liberation Sans', sans-serif; text-anchor: start; stroke: #000000; stroke-width: 0.08px" x="347.185937" y="207.727344" transform="rotate(-0 347.185937 207.727344)">BED_b</text>
</g>
<g id="line2d_161">
<path d="M 333.185937 213.455469
L 338.185937 213.455469
L 343.185937 213.455469
" style="fill: none; stroke: #00ffff; stroke-opacity: 0.9; stroke-width: 1.35; stroke-linecap: square"/>
<g>
<path d="M -0.433333 1.3 L 0.433333 1.3 L 0.433333 0.433333 L 1.3 0.433333 L 1.3 -0.433333 L 0.433333 -0.433333 L 0.433333 -1.3 L -0.433333 -1.3 L -0.433333 -0.433333 L -1.3 -0.433333 L -1.3 0.433333 L -0.433333 0.433333 z" transform="translate(338.185937 213.455469)" style="fill: #00ffff; fill-opacity: 0.9; stroke: #00ffff; stroke-opacity: 0.9; stroke-linejoin: miter"/>
</g>
</g>
<g id="text_257">
<text style="font-size: 5px; font-family: 'DejaVu Sans', 'Liberation Sans', sans-serif; text-anchor: start; stroke: #000000; stroke-width: 0.08px" x="347.185937" y="215.205469" transform="rotate(-0 347.185937 215.205469)">BED_c</text>
</g>
<g id="line2d_162">
<path d="M 333.185937 220.933594
L 338.185937 220.933594
L 343.185937 220.933594
" style="fill: none; stroke: #ff00ff; stroke-opacity: 0.9; stroke-width: 1.35; stroke-linecap: square"/>
<g>
<path d="M -0 1.3 L 1.3 -1.3 L -1.3 -1.3 z" transform="translate(338.185937 220.933594)" style="fill: #ff00ff; fill-opacity: 0.9; stroke: #ff00ff; stroke-opacity: 0.9; stroke-linejoin: miter"/>
</g>
</g>
<g id="text_258">
<text style="font-size: 5px; font-family: 'DejaVu Sans', 'Liberation Sans', sans-serif; text-anchor: start; stroke: #000000; stroke-width: 0.08px" x="347.185937" y="222.683594" transform="rotate(-0 347.185937 222.683594)">BED_d</text>
</g>
</g>
</g>
<g id="axes_6">
<g id="patch_32">
<path d="M 389 347.15
L 544.5 347.15
L 544.5 191.75
L 389 191.75
z
" style="fill: #f7f7f7"/>
</g>
<g id="matplotlib.axis_11">
<g id="xtick_31">
<g id="line2d_163">
<path d="M 396.068182 347.15
L 396.068182 191.75
" clip-path="url(#pebce4757ea)" style="fill: none; stroke: #e6e6e6; stroke-width: 0.6; stroke-linecap: square"/>
</g>
<g id="line2d_164">
<g>
<path d="M 0 0 L 0 1.5" transform="translate(396.068182 347.15)" style="fill: #333333; stroke: #333333; stroke-width: 0.5"/>
</g>
</g>
<g id="text_259">
<text style="font-size: 4.25px; font-family: 'DejaVu Sans', 'Liberation Sans', sans-serif; text-anchor: middle; stroke: #000000; stroke-width: 0.08px" x="396.068182" y="353.979336" transform="rotate(-0 396.068182 353.979336)">0</text>
</g>
</g>
<g id="xtick_32">
<g id="line2d_165">
<path d="M 424.340909 347.15
L 424.340909 191.75
" clip-path="url(#pebce4757ea)" style="fill: none; stroke: #e6e6e6; stroke-width: 0.6; stroke-linecap: square"/>
</g>
<g id="line2d_166">
<g>
<path d="M 0 0 L 0 1.5" transform="translate(424.340909 347.15)" style="fill: #333333; stroke: #333333; stroke-width: 0.5"/>
</g>
</g>
<g id="text_260">
<text style="font-size: 4.25px; font-family: 'DejaVu Sans', 'Liberation Sans', sans-serif; text-anchor: middle; stroke: #000000; stroke-width: 0.08px" x="424.340909" y="353.979336" transform="rotate(-0 424.340909 353.979336)">1000</text>
</g>
</g>
<g id="xtick_33">
<g id="line2d_167">
<path d="M 452.613636 347.15
L 452.613636 191.75
" clip-path="url(#pebce4757ea)" style="fill: none; stroke: #e6e6e6; stroke-width: 0.6; stroke-linecap: square"/>
</g>
<g id="line2d_168">
<g>
<path d="M 0 0 L 0 1.5" transform="translate(452.613636 347.15)" style="fill: #333333; stroke: #333333; stroke-width: 0.5"/>
</g>
</g>
<g id="text_261">
<text style="font-size: 4.25px; font-family: 'DejaVu Sans', 'Liberation Sans', sans-serif; text-anchor: middle; stroke: #000000; stroke-width: 0.08px" x="452.613636" y="353.979336" transform="rotate(-0 452.613636 353.979336)">2000</text>
</g>
</g>
<g id="xtick_34">
<g id="line2d_169">
<path d="M 480.886364 347.15
L 480.886364 191.75
" clip-path="url(#pebce4757ea)" style="fill: none; stroke: #e6e6e6; stroke-width: 0.6; stroke-linecap: square"/>
</g>
<g id="line2d_170">
<g>
<path d="M 0 0 L 0 1.5" transform="translate(480.886364 347.15)" style="fill: #333333; stroke: #333333; stroke-width: 0.5"/>
</g>
</g>
<g id="text_262">
<text style="font-size: 4.25px; font-family: 'DejaVu Sans', 'Liberation Sans', sans-serif; text-anchor: middle; stroke: #000000; stroke-width: 0.08px" x="480.886364" y="353.979336" transform="rotate(-0 480.886364 353.979336)">3000</text>
</g>
</g>
<g id="xtick_35">
<g id="line2d_171">
<path d="M 509.159091 347.15
L 509.159091 191.75
" clip-path="url(#pebce4757ea)" style="fill: none; stroke: #e6e6e6; stroke-width: 0.6; stroke-linecap: square"/>
</g>
<g id="line2d_172">
<g>
<path d="M 0 0 L 0 1.5" transform="translate(509.159091 347.15)" style="fill: #333333; stroke: #333333; stroke-width: 0.5"/>
</g>
</g>
<g id="text_263">
<text style="font-size: 4.25px; font-family: 'DejaVu Sans', 'Liberation Sans', sans-serif; text-anchor: middle; stroke: #000000; stroke-width: 0.08px" x="509.159091" y="353.979336" transform="rotate(-0 509.159091 353.979336)">4000</text>
</g>
</g>
<g id="xtick_36">
<g id="line2d_173">
<path d="M 537.431818 347.15
L 537.431818 191.75
" clip-path="url(#pebce4757ea)" style="fill: none; stroke: #e6e6e6; stroke-width: 0.6; stroke-linecap: square"/>
</g>
<g id="line2d_174">
<g>
<path d="M 0 0 L 0 1.5" transform="translate(537.431818 347.15)" style="fill: #333333; stroke: #333333; stroke-width: 0.5"/>
</g>
</g>
<g id="text_264">
<text style="font-size: 4.25px; font-family: 'DejaVu Sans', 'Liberation Sans', sans-serif; text-anchor: middle; stroke: #000000; stroke-width: 0.08px" x="537.431818" y="353.979336" transform="rotate(-0 537.431818 353.979336)">5000</text>
</g>
</g>
<g id="text_265">
<text style="font-size: 5.8px; font-family: 'DejaVu Sans', 'Liberation Sans', sans-serif; text-anchor: middle; stroke: #000000; stroke-width: 0.08px" x="466.75" y="360.170297" transform="rotate(-0 466.75 360.170297)">Receptor Density (nmol/l)</text>
</g>
</g>
<g id="matplotlib.axis_12">
<g id="ytick_34">
<g id="line2d_175">
<path d="M 389 340.499136
L 544.5 340.499136
" clip-path="url(#pebce4757ea)" style="fill: none; stroke: #e6e6e6; stroke-width: 0.6; stroke-linecap: square"/>
</g>
<g id="line2d_176">
<g>
<path d="M 0 0 L -1.5 0" transform="translate(389 340.499136)" style="fill: #333333; stroke: #333333; stroke-width: 0.5"/>
</g>
</g>
<g id="text_266">
<text style="font-size: 4.25px; font-family: 'DejaVu Sans', 'Liberation Sans', sans-serif; text-anchor: end; stroke: #000000; stroke-width: 0.08px" x="386" y="342.113804" transform="rotate(-0 386 342.113804)">2.9</text>
</g>
</g>
<g id="ytick_35">
<g id="line2d_177">
<path d="M 389 314.918889
L 544.5 314.918889
" clip-path="url(#pebce4757ea)" style="fill: none; stroke: #e6e6e6; stroke-width: 0.6; stroke-linecap: square"/>
</g>
<g id="line2d_178">
<g>
<path d="M 0 0 L -1.5 0" transform="translate(389 314.918889)" style="fill: #333333; stroke: #333333; stroke-width: 0.5"/>
</g>
</g>
<g id="text_267">
<text style="font-size: 4.25px; font-family: 'DejaVu Sans', 'Liberation Sans', sans-serif; text-anchor: end; stroke: #000000; stroke-width: 0.08px" x="386" y="316.533557" transform="rotate(-0 386 316.533557)">3.0</text>
</g>
</g>
<g id="ytick_36">
<g id="line2d_179">
<path d="M 389 289.338642
L 544.5 289.338642
" clip-path="url(#pebce4757ea)" style="fill: none; stroke: #e6e6e6; stroke-width: 0.6; stroke-linecap: square"/>
</g>
<g id="line2d_180">
<g>
<path d="M 0 0 L -1.5 0" transform="translate(389 289.338642)" style="fill: #333333; stroke: #333333; stroke-width: 0.5"/>
</g>
</g>
<g id="text_268">
<text style="font-size: 4.25px; font-family: 'DejaVu Sans', 'Liberation Sans', sans-serif; text-anchor: end; stroke: #000000; stroke-width: 0.08px" x="386" y="290.95331" transform="rotate(-0 386 290.95331)">3.1</text>
</g>
</g>
<g id="ytick_37">
<g id="line2d_181">
<path d="M 389 263.758395
L 544.5 263.758395
" clip-path="url(#pebce4757ea)" style="fill: none; stroke: #e6e6e6; stroke-width: 0.6; stroke-linecap: square"/>
</g>
<g id="line2d_182">
<g>
<path d="M 0 0 L -1.5 0" transform="translate(389 263.758395)" style="fill: #333333; stroke: #333333; stroke-width: 0.5"/>
</g>
</g>
<g id="text_269">
<text style="font-size: 4.25px; font-family: 'DejaVu Sans', 'Liberation Sans', sans-serif; text-anchor: end; stroke: #000000; stroke-width: 0.08px" x="386" y="265.373063" transform="rotate(-0 386 265.373063)">3.2</text>
</g>
</g>
<g id="ytick_38">
<g id="line2d_183">
<path d="M 389 238.178148
L 544.5 238.178148
" clip-path="url(#pebce4757ea)" style="fill: none; stroke: #e6e6e6; stroke-width: 0.6; stroke-linecap: square"/>
</g>
<g id="line2d_184">
<g>
<path d="M 0 0 L -1.5 0" transform="translate(389 238.178148)" style="fill: #333333; stroke: #333333; stroke-width: 0.5"/>
</g>
</g>
<g id="text_270">
<text style="font-size: 4.25px; font-family: 'DejaVu Sans', 'Liberation Sans', sans-serif; text-anchor: end; stroke: #000000; stroke-width: 0.08px" x="386" y="239.792816" transform="rotate(-0 386 239.792816)">3.3</text>
</g>
</g>
<g id="ytick_39">
<g id="line2d_185">
<path d="M 389 212.597901
L 544.5 212.597901
" clip-path="url(#pebce4757ea)" style="fill: none; stroke: #e6e6e6; stroke-width: 0.6; stroke-linecap: square"/>
</g>
<g id="line2d_186">
<g>
<path d="M 0 0 L -1.5 0" transform="translate(389 212.597901)" style="fill: #333333; stroke: #333333; stroke-width: 0.5"/>
</g>
</g>
<g id="text_271">
<text style="font-size: 4.25px; font-family: 'DejaVu Sans', 'Liberation Sans', sans-serif; text-anchor: end; stroke: #000000; stroke-width: 0.08px" x="386" y="214.212569" transform="rotate(-0 386 214.212569)">3.4</text>
</g>
</g>
<g id="text_272">
<text style="font-weight: 700; font-size: 5.7px; font-family: 'DejaVu Sans', 'Liberation Sans', sans-serif; text-anchor: middle; stroke: #000000; stroke-width: 0.08px" x="376.511219" y="269.45" transform="rotate(-90 376.511219 269.45)">BED (Gy)</text>
</g>
</g>
<g id="text_273">
<text style="font-size: 3px; font-family: 'DejaVu Sans', 'Liberation Sans', sans-serif; text-anchor: start; fill: #800080; stroke: #800080; stroke-width: 0.1px" x="395.796455" y="257.167936" transform="rotate(-0 395.796455 257.167936)">3.2</text>
</g>
<g id="text_274">
<text style="font-size: 3px; font-family: 'DejaVu Sans', 'Liberation Sans', sans-serif; text-anchor: start; fill: #800080; stroke: #800080; stroke-width: 0.1px" x="395.909545" y="257.661635" transform="rotate(-0 395.909545 257.661635)">3.2</text>
</g>
<g id="text_275">
<text style="font-size: 3px; font-family: 'DejaVu Sans', 'Liberation Sans', sans-serif; text-anchor: start; fill: #800080; stroke: #800080; stroke-width: 0.1px" x="396.050909" y="258.155333" transform="rotate(-0 396.050909 258.155333)">3.2</text>
</g>
<g id="text_276">
<text style="font-size: 3px; font-family: 'DejaVu Sans', 'Liberation Sans', sans-serif; text-anchor: start; fill: #800080; stroke: #800080; stroke-width: 0.1px" x="397.181818" y="259.63643" transform="rotate(-0 397.181818 259.63643)">3.2</text>
</g>
<g id="text_277">
<text style="font-size: 3px; font-family: 'DejaVu Sans', 'Liberation Sans', sans-serif; text-anchor: start; fill: #800080; stroke: #800080; stroke-width: 0.1px" x="398.595455" y="261.611225" transform="rotate(-0 398.595455 261.611225)">3.2</text>
</g>
<g id="text_278">
<text style="font-size: 3px; font-family: 'DejaVu Sans', 'Liberation Sans', sans-serif; text-anchor: start; fill: #800080; stroke: #800080; stroke-width: 0.1px" x="409.904545" y="280.445961" transform="rotate(-0 409.904545 280.445961)">3.1</text>
</g>
<g id="text_279">
<text style="font-size: 3px; font-family: 'DejaVu Sans', 'Liberation Sans', sans-serif; text-anchor: start; fill: #800080; stroke: #800080; stroke-width: 0.1px" x="424.040909" y="292.980282" transform="rotate(-0 424.040909 292.980282)">3.1</text>
</g>
<g id="text_280">
<text style="font-size: 3px; font-family: 'DejaVu Sans', 'Liberation Sans', sans-serif; text-anchor: start; fill: #800080; stroke: #800080; stroke-width: 0.1px" x="452.313636" y="300.910158" transform="rotate(-0 452.313636 300.910158)">3.1</text>
</g>
<g id="text_281">
<text style="font-size: 3px; font-family: 'DejaVu Sans', 'Liberation Sans', sans-serif; text-anchor: start; fill: #800080; stroke: #800080; stroke-width: 0.1px" x="537.131818" y="306.537812" transform="rotate(-0 537.131818 306.537812)">3.0</text>
</g>
<g id="text_282">
<text style="font-size: 3px; font-family: 'DejaVu Sans', 'Liberation Sans', sans-serif; text-anchor: start; fill: #ffa500; stroke: #ffa500; stroke-width: 0.1px" x="395.796455" y="293.491887" transform="rotate(-0 395.796455 293.491887)">3.1</text>
</g>
<g id="text_283">
<text style="font-size: 3px; font-family: 'DejaVu Sans', 'Liberation Sans', sans-serif; text-anchor: start; fill: #ffa500; stroke: #ffa500; stroke-width: 0.1px" x="395.909545" y="293.967679" transform="rotate(-0 395.909545 293.967679)">3.1</text>
</g>
<g id="text_284">
<text style="font-size: 3px; font-family: 'DejaVu Sans', 'Liberation Sans', sans-serif; text-anchor: start; fill: #ffa500; stroke: #ffa500; stroke-width: 0.1px" x="396.050909" y="294.443472" transform="rotate(-0 396.050909 294.443472)">3.1</text>
</g>
<g id="text_285">
<text style="font-size: 3px; font-family: 'DejaVu Sans', 'Liberation Sans', sans-serif; text-anchor: start; fill: #ffa500; stroke: #ffa500; stroke-width: 0.1px" x="397.181818" y="295.87085" transform="rotate(-0 397.181818 295.87085)">3.1</text>
</g>
<g id="text_286">
<text style="font-size: 3px; font-family: 'DejaVu Sans', 'Liberation Sans', sans-serif; text-anchor: start; fill: #ffa500; stroke: #ffa500; stroke-width: 0.1px" x="398.595455" y="297.77402" transform="rotate(-0 398.595455 297.77402)">3.1</text>
</g>
<g id="text_287">
<text style="font-size: 3px; font-family: 'DejaVu Sans', 'Liberation Sans', sans-serif; text-anchor: start; fill: #ffa500; stroke: #ffa500; stroke-width: 0.1px" x="409.904545" y="316.514109" transform="rotate(-0 409.904545 316.514109)">3.0</text>
</g>
<g id="text_288">
<text style="font-size: 3px; font-family: 'DejaVu Sans', 'Liberation Sans', sans-serif; text-anchor: start; fill: #ffa500; stroke: #ffa500; stroke-width: 0.1px" x="424.040909" y="328.536825" transform="rotate(-0 424.040909 328.536825)">3.0</text>
</g>
<g id="text_289">
<text style="font-size: 3px; font-family: 'DejaVu Sans', 'Liberation Sans', sans-serif; text-anchor: start; fill: #ffa500; stroke: #ffa500; stroke-width: 0.1px" x="452.313636" y="335.443492" transform="rotate(-0 452.313636 335.443492)">2.9</text>
</g>
<g id="text_290">
<text style="font-size: 3px; font-family: 'DejaVu Sans', 'Liberation Sans', sans-serif; text-anchor: start; fill: #ffa500; stroke: #ffa500; stroke-width: 0.1px" x="537.131818" y="341.071146" transform="rotate(-0 537.131818 341.071146)">2.9</text>
</g>
<g id="text_291">
<text style="font-size: 3px; font-family: 'DejaVu Sans', 'Liberation Sans', sans-serif; text-anchor: start; fill: #00ffff; stroke: #00ffff; stroke-width: 0.1px" x="395.796455" y="266.376825" transform="rotate(-0 395.796455 266.376825)">3.2</text>
</g>
<g id="text_292">
<text style="font-size: 3px; font-family: 'DejaVu Sans', 'Liberation Sans', sans-serif; text-anchor: start; fill: #00ffff; stroke: #00ffff; stroke-width: 0.1px" x="395.909545" y="266.839827" transform="rotate(-0 395.909545 266.839827)">3.2</text>
</g>
<g id="text_293">
<text style="font-size: 3px; font-family: 'DejaVu Sans', 'Liberation Sans', sans-serif; text-anchor: start; fill: #00ffff; stroke: #00ffff; stroke-width: 0.1px" x="396.050909" y="267.30283" transform="rotate(-0 396.050909 267.30283)">3.2</text>
</g>
<g id="text_294">
<text style="font-size: 3px; font-family: 'DejaVu Sans', 'Liberation Sans', sans-serif; text-anchor: start; fill: #00ffff; stroke: #00ffff; stroke-width: 0.1px" x="397.181818" y="268.691837" transform="rotate(-0 397.181818 268.691837)">3.2</text>
</g>
<g id="text_295">
<text style="font-size: 3px; font-family: 'DejaVu Sans', 'Liberation Sans', sans-serif; text-anchor: start; fill: #00ffff; stroke: #00ffff; stroke-width: 0.1px" x="398.595455" y="270.543847" transform="rotate(-0 398.595455 270.543847)">3.2</text>
</g>
<g id="text_296">
<text style="font-size: 3px; font-family: 'DejaVu Sans', 'Liberation Sans', sans-serif; text-anchor: start; fill: #00ffff; stroke: #00ffff; stroke-width: 0.1px" x="409.904545" y="289.143245" transform="rotate(-0 409.904545 289.143245)">3.1</text>
</g>
<g id="text_297">
<text style="font-size: 3px; font-family: 'DejaVu Sans', 'Liberation Sans', sans-serif; text-anchor: start; fill: #00ffff; stroke: #00ffff; stroke-width: 0.1px" x="424.040909" y="300.654356" transform="rotate(-0 424.040909 300.654356)">3.1</text>
</g>
<g id="text_298">
<text style="font-size: 3px; font-family: 'DejaVu Sans', 'Liberation Sans', sans-serif; text-anchor: start; fill: #00ffff; stroke: #00ffff; stroke-width: 0.1px" x="452.313636" y="307.561022" transform="rotate(-0 452.313636 307.561022)">3.0</text>
</g>
<g id="text_299">
<text style="font-size: 3px; font-family: 'DejaVu Sans', 'Liberation Sans', sans-serif; text-anchor: start; fill: #00ffff; stroke: #00ffff; stroke-width: 0.1px" x="537.131818" y="312.677072" transform="rotate(-0 537.131818 312.677072)">3.0</text>
</g>
<g id="text_300">
<text style="font-size: 3px; font-family: 'DejaVu Sans', 'Liberation Sans', sans-serif; text-anchor: start; fill: #ff00ff; stroke: #ff00ff; stroke-width: 0.1px" x="395.796455" y="199.868183" transform="rotate(-0 395.796455 199.868183)">3.5</text>
</g>
<g id="text_301">
<text style="font-size: 3px; font-family: 'DejaVu Sans', 'Liberation Sans', sans-serif; text-anchor: start; fill: #ff00ff; stroke: #ff00ff; stroke-width: 0.1px" x="395.909545" y="200.356766" transform="rotate(-0 395.909545 200.356766)">3.5</text>
</g>
<g id="text_302">
<text style="font-size: 3px; font-family: 'DejaVu Sans', 'Liberation Sans', sans-serif; text-anchor: start; fill: #ff00ff; stroke: #ff00ff; stroke-width: 0.1px" x="396.050909" y="200.845348" transform="rotate(-0 396.050909 200.845348)">3.4</text>
</g>
<g id="text_303">
<text style="font-size: 3px; font-family: 'DejaVu Sans', 'Liberation Sans', sans-serif; text-anchor: start; fill: #ff00ff; stroke: #ff00ff; stroke-width: 0.1px" x="397.181818" y="202.311096" transform="rotate(-0 397.181818 202.311096)">3.4</text>
</g>
<g id="text_304">
<text style="font-size: 3px; font-family: 'DejaVu Sans', 'Liberation Sans', sans-serif; text-anchor: start; fill: #ff00ff; stroke: #ff00ff; stroke-width: 0.1px" x="398.595455" y="204.265427" transform="rotate(-0 398.595455 204.265427)">3.4</text>
</g>
<g id="text_305">
<text style="font-size: 3px; font-family: 'DejaVu Sans', 'Liberation Sans', sans-serif; text-anchor: start; fill: #ff00ff; stroke: #ff00ff; stroke-width: 0.1px" x="409.904545" y="223.40201" transform="rotate(-0 409.904545 223.40201)">3.4</text>
</g>
<g id="text_306">
<text style="font-size: 3px; font-family: 'DejaVu Sans', 'Liberation Sans', sans-serif; text-anchor: start; fill: #ff00ff; stroke: #ff00ff; stroke-width: 0.1px" x="424.040909" y="235.680529" transform="rotate(-0 424.040909 235.680529)">3.3</text>
</g>
<g id="text_307">
<text style="font-size: 3px; font-family: 'DejaVu Sans', 'Liberation Sans', sans-serif; text-anchor: start; fill: #ff00ff; stroke: #ff00ff; stroke-width: 0.1px" x="452.313636" y="243.866208" transform="rotate(-0 452.313636 243.866208)">3.3</text>
</g>
<g id="text_308">
<text style="font-size: 3px; font-family: 'DejaVu Sans', 'Liberation Sans', sans-serif; text-anchor: start; fill: #ff00ff; stroke: #ff00ff; stroke-width: 0.1px" x="537.131818" y="248.726454" transform="rotate(-0 537.131818 248.726454)">3.3</text>
</g>
<g id="line2d_187">
<path d="M 396.096455 256.340123
L 396.209545 256.833822
L 396.350909 257.327521
L 397.481818 258.808617
L 398.895455 260.783412
L 410.204545 279.618148
L 424.340909 292.152469
L 452.613636 300.082346
L 537.431818 305.71
" clip-path="url(#pebce4757ea)" style="fill: none; stroke: #800080; stroke-opacity: 0.9; stroke-width: 1.35; stroke-linecap: square"/>
<g clip-path="url(#pebce4757ea)">
<path d="M 0 1.3 C 0.344764 1.3 0.675454 1.163024 0.919239 0.919239 C 1.163024 0.675454 1.3 0.344764 1.3 0 C 1.3 -0.344764 1.163024 -0.675454 0.919239 -0.919239 C 0.675454 -1.163024 0.344764 -1.3 0 -1.3 C -0.344764 -1.3 -0.675454 -1.163024 -0.919239 -0.919239 C -1.163024 -0.675454 -1.3 -0.344764 -1.3 0 C -1.3 0.344764 -1.163024 0.675454 -0.919239 0.919239 C -0.675454 1.163024 -0.344764 1.3 0 1.3 z" transform="translate(396.096455 256.340123)" style="fill: #800080; fill-opacity: 0.9; stroke: #800080; stroke-opacity: 0.9"/>
<path d="M 0 1.3 C 0.344764 1.3 0.675454 1.163024 0.919239 0.919239 C 1.163024 0.675454 1.3 0.344764 1.3 0 C 1.3 -0.344764 1.163024 -0.675454 0.919239 -0.919239 C 0.675454 -1.163024 0.344764 -1.3 0 -1.3 C -0.344764 -1.3 -0.675454 -1.163024 -0.919239 -0.919239 C -1.163024 -0.675454 -1.3 -0.344764 -1.3 0 C -1.3 0.344764 -1.163024 0.675454 -0.919239 0.919239 C -0.675454 1.163024 -0.344764 1.3 0 1.3 z" transform="translate(396.209545 256.833822)" style="fill: #800080; fill-opacity: 0.9; stroke: #800080; stroke-opacity: 0.9"/>
<path d="M 0 1.3 C 0.344764 1.3 0.675454 1.163024 0.919239 0.919239 C 1.163024 0.675454 1.3 0.344764 1.3 0 C 1.3 -0.344764 1.163024 -0.675454 0.919239 -0.919239 C 0.675454 -1.163024 0.344764 -1.3 0 -1.3 C -0.344764 -1.3 -0.675454 -1.163024 -0.919239 -0.919239 C -1.163024 -0.675454 -1.3 -0.344764 -1.3 0 C -1.3 0.344764 -1.163024 0.675454 -0.919239 0.919239 C -0.675454 1.163024 -0.344764 1.3 0 1.3 z" transform="translate(396.350909 257.327521)" style="fill: #800080; fill-opacity: 0.9; stroke: #800080; stroke-opacity: 0.9"/>
<path d="M 0 1.3 C 0.344764 1.3 0.675454 1.163024 0.919239 0.919239 C 1.163024 0.675454 1.3 0.344764 1.3 0 C 1.3 -0.344764 1.163024 -0.675454 0.919239 -0.919239 C 0.675454 -1.163024 0.344764 -1.3 0 -1.3 C -0.344764 -1.3 -0.675454 -1.163024 -0.919239 -0.919239 C -1.163024 -0.675454 -1.3 -0.344764 -1.3 0 C -1.3 0.344764 -1.163024 0.675454 -0.919239 0.919239 C -0.675454 1.163024 -0.344764 1.3 0 1.3 z" transform="translate(397.481818 258.808617)" style="fill: #800080; fill-opacity: 0.9; stroke: #800080; stroke-opacity: 0.9"/>
<path d="M 0 1.3 C 0.344764 1.3 0.675454 1.163024 0.919239 0.919239 C 1.163024 0.675454 1.3 0.344764 1.3 0 C 1.3 -0.344764 1.163024 -0.675454 0.919239 -0.919239 C 0.675454 -1.163024 0.344764 -1.3 0 -1.3 C -0.344764 -1.3 -0.675454 -1.163024 -0.919239 -0.919239 C -1.163024 -0.675454 -1.3 -0.344764 -1.3 0 C -1.3 0.344764 -1.163024 0.675454 -0.919239 0.919239 C -0.675454 1.163024 -0.344764 1.3 0 1.3 z" transform="translate(398.895455 260.783412)" style="fill: #800080; fill-opacity: 0.9; stroke: #800080; stroke-opacity: 0.9"/>
<path d="M 0 1.3 C 0.344764 1.3 0.675454 1.163024 0.919239 0.919239 C 1.163024 0.675454 1.3 0.344764 1.3 0 C 1.3 -0.344764 1.163024 -0.675454 0.919239 -0.919239 C 0.675454 -1.163024 0.344764 -1.3 0 -1.3 C -0.344764 -1.3 -0.675454 -1.163024 -0.919239 -0.919239 C -1.163024 -0.675454 -1.3 -0.344764 -1.3 0 C -1.3 0.344764 -1.163024 0.675454 -0.919239 0.919239 C -0.675454 1.163024 -0.344764 1.3 0 1.3 z" transform="translate(410.204545 279.618148)" style="fill: #800080; fill-opacity: 0.9; stroke: #800080; stroke-opacity: 0.9"/>
<path d="M 0 1.3 C 0.344764 1.3 0.675454 1.163024 0.919239 0.919239 C 1.163024 0.675454 1.3 0.344764 1.3 0 C 1.3 -0.344764 1.163024 -0.675454 0.919239 -0.919239 C 0.675454 -1.163024 0.344764 -1.3 0 -1.3 C -0.344764 -1.3 -0.675454 -1.163024 -0.919239 -0.919239 C -1.163024 -0.675454 -1.3 -0.344764 -1.3 0 C -1.3 0.344764 -1.163024 0.675454 -0.919239 0.919239 C -0.675454 1.163024 -0.344764 1.3 0 1.3 z" transform="translate(424.340909 292.152469)" style="fill: #800080; fill-opacity: 0.9; stroke: #800080; stroke-opacity: 0.9"/>
<path d="M 0 1.3 C 0.344764 1.3 0.675454 1.163024 0.919239 0.919239 C 1.163024 0.675454 1.3 0.344764 1.3 0 C 1.3 -0.344764 1.163024 -0.675454 0.919239 -0.919239 C 0.675454 -1.163024 0.344764 -1.3 0 -1.3 C -0.344764 -1.3 -0.675454 -1.163024 -0.919239 -0.919239 C -1.163024 -0.675454 -1.3 -0.344764 -1.3 0 C -1.3 0.344764 -1.163024 0.675454 -0.919239 0.919239 C -0.675454 1.163024 -0.344764 1.3 0 1.3 z" transform="translate(452.613636 300.082346)" style="fill: #800080; fill-opacity: 0.9; stroke: #800080; stroke-opacity: 0.9"/>
<path d="M 0 1.3 C 0.344764 1.3 0.675454 1.163024 0.919239 0.919239 C 1.163024 0.675454 1.3 0.344764 1.3 0 C 1.3 -0.344764 1.163024 -0.675454 0.919239 -0.919239 C 0.675454 -1.163024 0.344764 -1.3 0 -1.3 C -0.344764 -1.3 -0.675454 -1.163024 -0.919239 -0.919239 C -1.163024 -0.675454 -1.3 -0.344764 -1.3 0 C -1.3 0.344764 -1.163024 0.675454 -0.919239 0.919239 C -0.675454 1.163024 -0.344764 1.3 0 1.3 z" transform="translate(537.431818 305.71)" style="fill: #800080; fill-opacity: 0.9; stroke: #800080; stroke-opacity: 0.9"/>
</g>
</g>
<g id="line2d_188">
<path d="M 396.096455 292.664074
L 396.209545 293.139867
L 396.350909 293.615659
L 397.481818 295.043037
L 398.895455 296.946207
L 410.204545 315.686296
L 424.340909 327.709012
L 452.613636 334.615679
L 537.431818 340.243333
" clip-path="url(#pebce4757ea)" style="fill: none; stroke: #ffa500; stroke-opacity: 0.9; stroke-width: 1.35; stroke-linecap: square"/>
<g clip-path="url(#pebce4757ea)">
<path d="M -1.3 1.3 L 1.3 1.3 L 1.3 -1.3 L -1.3 -1.3 z" transform="translate(396.096455 292.664074)" style="fill: #ffa500; fill-opacity: 0.9; stroke: #ffa500; stroke-opacity: 0.9; stroke-linejoin: miter"/>
<path d="M -1.3 1.3 L 1.3 1.3 L 1.3 -1.3 L -1.3 -1.3 z" transform="translate(396.209545 293.139867)" style="fill: #ffa500; fill-opacity: 0.9; stroke: #ffa500; stroke-opacity: 0.9; stroke-linejoin: miter"/>
<path d="M -1.3 1.3 L 1.3 1.3 L 1.3 -1.3 L -1.3 -1.3 z" transform="translate(396.350909 293.615659)" style="fill: #ffa500; fill-opacity: 0.9; stroke: #ffa500; stroke-opacity: 0.9; stroke-linejoin: miter"/>
<path d="M -1.3 1.3 L 1.3 1.3 L 1.3 -1.3 L -1.3 -1.3 z" transform="translate(397.481818 295.043037)" style="fill: #ffa500; fill-opacity: 0.9; stroke: #ffa500; stroke-opacity: 0.9; stroke-linejoin: miter"/>
<path d="M -1.3 1.3 L 1.3 1.3 L 1.3 -1.3 L -1.3 -1.3 z" transform="translate(398.895455 296.946207)" style="fill: #ffa500; fill-opacity: 0.9; stroke: #ffa500; stroke-opacity: 0.9; stroke-linejoin: miter"/>
<path d="M -1.3 1.3 L 1.3 1.3 L 1.3 -1.3 L -1.3 -1.3 z" transform="translate(410.204545 315.686296)" style="fill: #ffa500; fill-opacity: 0.9; stroke: #ffa500; stroke-opacity: 0.9; stroke-linejoin: miter"/>
<path d="M -1.3 1.3 L 1.3 1.3 L 1.3 -1.3 L -1.3 -1.3 z" transform="translate(424.340909 327.709012)" style="fill: #ffa500; fill-opacity: 0.9; stroke: #ffa500; stroke-opacity: 0.9; stroke-linejoin: miter"/>
<path d="M -1.3 1.3 L 1.3 1.3 L 1.3 -1.3 L -1.3 -1.3 z" transform="translate(452.613636 334.615679)" style="fill: #ffa500; fill-opacity: 0.9; stroke: #ffa500; stroke-opacity: 0.9; stroke-linejoin: miter"/>
<path d="M -1.3 1.3 L 1.3 1.3 L 1.3 -1.3 L -1.3 -1.3 z" transform="translate(537.431818 340.243333)" style="fill: #ffa500; fill-opacity: 0.9; stroke: #ffa500; stroke-opacity: 0.9; stroke-linejoin: miter"/>
</g>
</g>
<g id="line2d_189">
<path d="M 396.096455 265.549012
L 396.209545 266.012015
L 396.350909 266.475017
L 397.481818 267.864025
L 398.895455 269.716035
L 410.204545 288.315432
L 424.340909 299.826543
L 452.613636 306.73321
L 537.431818 311.849259
" clip-path="url(#pebce4757ea)" style="fill: none; stroke: #00ffff; stroke-opacity: 0.9; stroke-width: 1.35; stroke-linecap: square"/>
<g clip-path="url(#pebce4757ea)">
<path d="M -0.433333 1.3 L 0.433333 1.3 L 0.433333 0.433333 L 1.3 0.433333 L 1.3 -0.433333 L 0.433333 -0.433333 L 0.433333 -1.3 L -0.433333 -1.3 L -0.433333 -0.433333 L -1.3 -0.433333 L -1.3 0.433333 L -0.433333 0.433333 z" transform="translate(396.096455 265.549012)" style="fill: #00ffff; fill-opacity: 0.9; stroke: #00ffff; stroke-opacity: 0.9; stroke-linejoin: miter"/>
<path d="M -0.433333 1.3 L 0.433333 1.3 L 0.433333 0.433333 L 1.3 0.433333 L 1.3 -0.433333 L 0.433333 -0.433333 L 0.433333 -1.3 L -0.433333 -1.3 L -0.433333 -0.433333 L -1.3 -0.433333 L -1.3 0.433333 L -0.433333 0.433333 z" transform="translate(396.209545 266.012015)" style="fill: #00ffff; fill-opacity: 0.9; stroke: #00ffff; stroke-opacity: 0.9; stroke-linejoin: miter"/>
<path d="M -0.433333 1.3 L 0.433333 1.3 L 0.433333 0.433333 L 1.3 0.433333 L 1.3 -0.433333 L 0.433333 -0.433333 L 0.433333 -1.3 L -0.433333 -1.3 L -0.433333 -0.433333 L -1.3 -0.433333 L -1.3 0.433333 L -0.433333 0.433333 z" transform="translate(396.350909 266.475017)" style="fill: #00ffff; fill-opacity: 0.9; stroke: #00ffff; stroke-opacity: 0.9; stroke-linejoin: miter"/>
<path d="M -0.433333 1.3 L 0.433333 1.3 L 0.433333 0.433333 L 1.3 0.433333 L 1.3 -0.433333 L 0.433333 -0.433333 L 0.433333 -1.3 L -0.433333 -1.3 L -0.433333 -0.433333 L -1.3 -0.433333 L -1.3 0.433333 L -0.433333 0.433333 z" transform="translate(397.481818 267.864025)" style="fill: #00ffff; fill-opacity: 0.9; stroke: #00ffff; stroke-opacity: 0.9; stroke-linejoin: miter"/>
<path d="M -0.433333 1.3 L 0.433333 1.3 L 0.433333 0.433333 L 1.3 0.433333 L 1.3 -0.433333 L 0.433333 -0.433333 L 0.433333 -1.3 L -0.433333 -1.3 L -0.433333 -0.433333 L -1.3 -0.433333 L -1.3 0.433333 L -0.433333 0.433333 z" transform="translate(398.895455 269.716035)" style="fill: #00ffff; fill-opacity: 0.9; stroke: #00ffff; stroke-opacity: 0.9; stroke-linejoin: miter"/>
<path d="M -0.433333 1.3 L 0.433333 1.3 L 0.433333 0.433333 L 1.3 0.433333 L 1.3 -0.433333 L 0.433333 -0.433333 L 0.433333 -1.3 L -0.433333 -1.3 L -0.433333 -0.433333 L -1.3 -0.433333 L -1.3 0.433333 L -0.433333 0.433333 z" transform="translate(410.204545 288.315432)" style="fill: #00ffff; fill-opacity: 0.9; stroke: #00ffff; stroke-opacity: 0.9; stroke-linejoin: miter"/>
<path d="M -0.433333 1.3 L 0.433333 1.3 L 0.433333 0.433333 L 1.3 0.433333 L 1.3 -0.433333 L 0.433333 -0.433333 L 0.433333 -1.3 L -0.433333 -1.3 L -0.433333 -0.433333 L -1.3 -0.433333 L -1.3 0.433333 L -0.433333 0.433333 z" transform="translate(424.340909 299.826543)" style="fill: #00ffff; fill-opacity: 0.9; stroke: #00ffff; stroke-opacity: 0.9; stroke-linejoin: miter"/>
<path d="M -0.433333 1.3 L 0.433333 1.3 L 0.433333 0.433333 L 1.3 0.433333 L 1.3 -0.433333 L 0.433333 -0.433333 L 0.433333 -1.3 L -0.433333 -1.3 L -0.433333 -0.433333 L -1.3 -0.433333 L -1.3 0.433333 L -0.433333 0.433333 z" transform="translate(452.613636 306.73321)" style="fill: #00ffff; fill-opacity: 0.9; stroke: #00ffff; stroke-opacity: 0.9; stroke-linejoin: miter"/>
<path d="M -0.433333 1.3 L 0.433333 1.3 L 0.433333 0.433333 L 1.3 0.433333 L 1.3 -0.433333 L 0.433333 -0.433333 L 0.433333 -1.3 L -0.433333 -1.3 L -0.433333 -0.433333 L -1.3 -0.433333 L -1.3 0.433333 L -0.433333 0.433333 z" transform="translate(537.431818 311.849259)" style="fill: #00ffff; fill-opacity: 0.9; stroke: #00ffff; stroke-opacity: 0.9; stroke-linejoin: miter"/>
</g>
</g>
<g id="line2d_190">
<path d="M 396.096455 199.04037
L 396.209545 199.528953
L 396.350909 200.017536
L 397.481818 201.483284
L 398.895455 203.437615
L 410.204545 222.574198
L 424.340909 234.852716
L 452.613636 243.038395
L 537.431818 247.898642
" clip-path="url(#pebce4757ea)" style="fill: none; stroke: #ff00ff; stroke-opacity: 0.9; stroke-width: 1.35; stroke-linecap: square"/>
<g clip-path="url(#pebce4757ea)">
<path d="M -0 1.3 L 1.3 -1.3 L -1.3 -1.3 z" transform="translate(396.096455 199.04037)" style="fill: #ff00ff; fill-opacity: 0.9; stroke: #ff00ff; stroke-opacity: 0.9; stroke-linejoin: miter"/>
<path d="M -0 1.3 L 1.3 -1.3 L -1.3 -1.3 z" transform="translate(396.209545 199.528953)" style="fill: #ff00ff; fill-opacity: 0.9; stroke: #ff00ff; stroke-opacity: 0.9; stroke-linejoin: miter"/>
<path d="M -0 1.3 L 1.3 -1.3 L -1.3 -1.3 z" transform="translate(396.350909 200.017536)" style="fill: #ff00ff; fill-opacity: 0.9; stroke: #ff00ff; stroke-opacity: 0.9; stroke-linejoin: miter"/>
<path d="M -0 1.3 L 1.3 -1.3 L -1.3 -1.3 z" transform="translate(397.481818 201.483284)" style="fill: #ff00ff; fill-opacity: 0.9; stroke: #ff00ff; stroke-opacity: 0.9; stroke-linejoin: miter"/>
<path d="M -0 1.3 L 1.3 -1.3 L -1.3 -1.3 z" transform="translate(398.895455 203.437615)" style="fill: #ff00ff; fill-opacity: 0.9; stroke: #ff00ff; stroke-opacity: 0.9; stroke-linejoin: miter"/>
<path d="M -0 1.3 L 1.3 -1.3 L -1.3 -1.3 z" transform="translate(410.204545 222.574198)" style="fill: #ff00ff; fill-opacity: 0.9; stroke: #ff00ff; stroke-opacity: 0.9; stroke-linejoin: miter"/>
<path d="M -0 1.3 L 1.3 -1.3 L -1.3 -1.3 z" transform="translate(424.340909 234.852716)" style="fill: #ff00ff; fill-opacity: 0.9; stroke: #ff00ff; stroke-opacity: 0.9; stroke-linejoin: miter"/>
<path d="M -0 1.3 L 1.3 -1.3 L -1.3 -1.3 z" transform="translate(452.613636 243.038395)" style="fill: #ff00ff; fill-opacity: 0.9; stroke: #ff00ff; stroke-opacity: 0.9; stroke-linejoin: miter"/>
<path d="M -0 1.3 L 1.3 -1.3 L -1.3 -1.3 z" transform="translate(537.431818 247.898642)" style="fill: #ff00ff; fill-opacity: 0.9; stroke: #ff00ff; stroke-opacity: 0.9; stroke-linejoin: miter"/>
</g>
</g>
<g id="patch_33">
<path d="M 389 347.15
L 389 191.75
" style="fill: none; stroke: #828282; stroke-linejoin: miter; stroke-linecap: square"/>
</g>
<g id="patch_34">
<path d="M 544.5 347.15
L 544.5 191.75
" style="fill: none; stroke: #828282; stroke-linejoin: miter; stroke-linecap: square"/>
</g>
<g id="patch_35">
<path d="M 389 347.15
L 544.5 347.15
" style="fill: none; stroke: #828282; stroke-linejoin: miter; stroke-linecap: square"/>
</g>
<g id="patch_36">
<path d="M 389 191.75
L 544.5 191.75
" style="fill: none; stroke: #828282; stroke-linejoin: miter; stroke-linecap: square"/>
</g>
<g id="text_309">
<text style="font-weight: 700; font-size: 6.6px; font-family: 'DejaVu Sans', 'Liberation Sans', sans-serif; text-anchor: middle; stroke: #000000; stroke-width: 0.08px" x="466.75" y="189.35" transform="rotate(-0 466.75 189.35)">Kidney BEDs</text>
</g>
<g id="legend_6">
<g id="patch_37">
<path d="M 508.485937 226.0625
L 541 226.0625
Q 542 226.0625 542 225.0625
L 542 195.25
Q 542 194.25 541 194.25
L 508.485937 194.25
Q 507.485937 194.25 507.485937 195.25
L 507.485937 225.0625
Q 507.485937 226.0625 508.485937 226.0625
z
" style="fill: #ffffff; opacity: 0.8; stroke: #cccccc; stroke-width: 0.4; stroke-linejoin: miter"/>
</g>
<g id="line2d_191">
<path d="M 509.685937 198.499219
L 514.685937 198.499219
L 519.685937 198.499219
" style="fill: none; stroke: #800080; stroke-opacity: 0.9; stroke-width: 1.35; stroke-linecap: square"/>
<g>
<path d="M 0 1.3 C 0.344764 1.3 0.675454 1.163024 0.919239 0.919239 C 1.163024 0.675454 1.3 0.344764 1.3 0 C 1.3 -0.344764 1.163024 -0.675454 0.919239 -0.919239 C 0.675454 -1.163024 0.344764 -1.3 0 -1.3 C -0.344764 -1.3 -0.675454 -1.163024 -0.919239 -0.919239 C -1.163024 -0.675454 -1.3 -0.344764 -1.3 0 C -1.3 0.344764 -1.163024 0.675454 -0.919239 0.919239 C -0.675454 1.163024 -0.344764 1.3 0 1.3 z" transform="translate(514.685937 198.499219)" style="fill: #800080; fill-opacity: 0.9; stroke: #800080; stroke-opacity: 0.9"/>
</g>
</g>
<g id="text_310">
<text style="font-size: 5px; font-family: 'DejaVu Sans', 'Liberation Sans', sans-serif; text-anchor: start; stroke: #000000; stroke-width: 0.08px" x="523.685937" y="200.249219" transform="rotate(-0 523.685937 200.249219)">BED_a</text>
</g>
<g id="line2d_192">
<path d="M 509.685937 205.977344
L 514.685937 205.977344
L 519.685937 205.977344
" style="fill: none; stroke: #ffa500; stroke-opacity: 0.9; stroke-width: 1.35; stroke-linecap: square"/>
<g>
<path d="M -1.3 1.3 L 1.3 1.3 L 1.3 -1.3 L -1.3 -1.3 z" transform="translate(514.685937 205.977344)" style="fill: #ffa500; fill-opacity: 0.9; stroke: #ffa500; stroke-opacity: 0.9; stroke-linejoin: miter"/>
</g>
</g>
<g id="text_311">
<text style="font-size: 5px; font-family: 'DejaVu Sans', 'Liberation Sans', sans-serif; text-anchor: start; stroke: #000000; stroke-width: 0.08px" x="523.685937" y="207.727344" transform="rotate(-0 523.685937 207.727344)">BED_b</text>
</g>
<g id="line2d_193">
<path d="M 509.685937 213.455469
L 514.685937 213.455469
L 519.685937 213.455469
" style="fill: none; stroke: #00ffff; stroke-opacity: 0.9; stroke-width: 1.35; stroke-linecap: square"/>
<g>
<path d="M -0.433333 1.3 L 0.433333 1.3 L 0.433333 0.433333 L 1.3 0.433333 L 1.3 -0.433333 L 0.433333 -0.433333 L 0.433333 -1.3 L -0.433333 -1.3 L -0.433333 -0.433333 L -1.3 -0.433333 L -1.3 0.433333 L -0.433333 0.433333 z" transform="translate(514.685937 213.455469)" style="fill: #00ffff; fill-opacity: 0.9; stroke: #00ffff; stroke-opacity: 0.9; stroke-linejoin: miter"/>
</g>
</g>
<g id="text_312">
<text style="font-size: 5px; font-family: 'DejaVu Sans', 'Liberation Sans', sans-serif; text-anchor: start; stroke: #000000; stroke-width: 0.08px" x="523.685937" y="215.205469" transform="rotate(-0 523.685937 215.205469)">BED_c</text>
</g>
<g id="line2d_194">
<path d="M 509.685937 220.933594
L 514.685937 220.933594
L 519.685937 220.933594
" style="fill: none; stroke: #ff00ff; stroke-opacity: 0.9; stroke-width: 1.35; stroke-linecap: square"/>
<g>
<path d="M -0 1.3 L 1.3 -1.3 L -1.3 -1.3 z" transform="translate(514.685937 220.933594)" style="fill: #ff00ff; fill-opacity: 0.9; stroke: #ff00ff; stroke-opacity: 0.9; stroke-linejoin: miter"/>
</g>
</g>
<g id="text_313">
<text style="font-size: 5px; font-family: 'DejaVu Sans', 'Liberation Sans', sans-serif; text-anchor: start; stroke: #000000; stroke-width: 0.08px" x="523.685937" y="222.683594" transform="rotate(-0 523.685937 222.683594)">BED_d</text>
</g>
</g>
</g>
</g>
<defs>
<clipPath id="p5194da27b5">
<rect x="29" y="11" width="155.5" height="155.5"/>
</clipPath>
<clipPath id="p67501ee55f">
<rect x="212.5" y="11" width="155.5" height="155.5"/>
</clipPath>
<clipPath id="p26e3912e27">
<rect x="389" y="11" width="155.5" height="155.5"/>
</clipPath>
<clipPath id="pb7724fa45d">
<rect x="29" y="191.75" width="155.5" height="155.4"/>
</clipPath>
<clipPath id="p7436707ee9">
<rect x="212.5" y="191.75" width="155.5" height="155.4"/>
</clipPath>
<clipPath id="pebce4757ea">
<rect x="389" y="191.75" width="155.5" height="155.4"/>
</clipPath>
</defs>
</svg>

</body></html>
